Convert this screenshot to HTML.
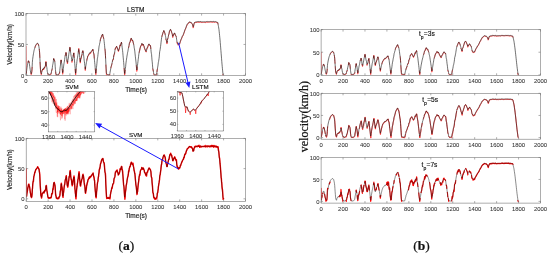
<!DOCTYPE html>
<html><head><meta charset="utf-8"><style>
html,body{margin:0;padding:0;background:#fff;}
body{width:550px;height:256px;overflow:hidden;}
svg{display:block;}
.tl{font-family:"Liberation Sans",Arial,sans-serif;font-size:5.9px;fill:#333;stroke:#333;stroke-width:0.06px;}
.lb{font-family:"Liberation Sans",Arial,sans-serif;font-size:6.5px;fill:#222;stroke:#222;stroke-width:0.15px;}
.tt{font-family:"Liberation Sans",Arial,sans-serif;font-size:6.2px;fill:#111;stroke:#111;stroke-width:0.15px;}
.b{font-weight:bold;}
.tp{font-family:"Liberation Sans",Arial,sans-serif;font-size:6.4px;fill:#111;stroke:#111;stroke-width:0.15px;}
.sf{font-family:"Liberation Serif","Times New Roman",serif;fill:#111;stroke:#111;stroke-width:0.2px;}
</style></head><body>
<svg width="550" height="256" viewBox="0 0 550 256">
<rect width="550" height="256" fill="#fff"/>
<clipPath id="clip_a1"><rect x="26.00" y="13.30" width="219.50" height="62.30"/></clipPath>
<g clip-path="url(#clip_a1)">
<path d="M26.00,46.30 L26.11,56.79 L26.22,69.13 L26.33,73.51 L26.44,72.64 M28.09,62.26 L28.20,61.69 L28.30,61.12 L28.41,60.85 L28.52,60.91 L28.63,61.22 L28.74,61.47 L28.85,61.61 L28.96,61.77 L29.07,62.18 L29.18,62.63 M30.61,72.93 L30.72,73.37 L30.83,73.77 L30.94,74.13 L31.05,74.51 L31.16,74.79 L31.27,74.73 L31.38,74.43 L31.49,74.02 L31.60,73.52 L31.71,72.96 L31.82,72.18 L31.93,71.15 L32.04,69.36 L32.15,67.22 M35.11,47.41 L35.22,46.89 L35.33,46.47 L35.44,46.20 L35.55,45.97 L35.66,45.75 L35.77,45.55 L35.88,45.41 L35.99,45.28 L36.10,45.16 L36.21,44.94 L36.32,44.84 L36.43,44.63 L36.54,44.48 L36.65,44.26 L36.76,44.10 L36.87,44.05 L36.98,43.92 L37.08,43.92 L37.19,43.85 L37.30,43.79 L37.41,43.71 L37.52,43.71 L37.63,43.78 L37.74,43.76 L37.85,43.84 L37.96,43.97 L38.07,44.19 L38.18,44.33 L38.29,44.41 L38.40,44.58 L38.51,44.89 L38.62,45.42 M39.28,49.31 L39.39,50.33 L39.50,51.14 L39.61,52.62 L39.72,54.81 L39.83,57.44 M40.05,62.28 L40.16,64.75 L40.27,66.83 L40.38,68.87 L40.49,70.72 L40.60,72.14 L40.71,73.04 L40.82,73.44 L40.93,73.83 L41.04,74.11 L41.15,74.50 L41.26,74.87 L41.37,74.84 L41.47,74.37 L41.58,73.54 M41.80,71.88 L41.91,71.20 L42.02,70.75 L42.13,70.62 L42.24,70.59 L42.35,70.25 L42.46,70.27 L42.57,70.08 L42.68,69.61 L42.79,69.76 L42.90,69.50 L43.01,69.22 L43.12,69.74 L43.23,69.19 L43.34,69.17 L43.45,69.07 L43.56,68.89 L43.67,69.29 L43.78,69.42 L43.89,69.44 L44.00,68.62 L44.11,68.27 L44.22,67.80 L44.33,67.55 L44.44,68.06 L44.55,68.23 L44.66,68.06 L44.77,67.86 L44.88,67.33 L44.99,66.96 L45.10,66.84 L45.21,66.84 L45.32,66.69 L45.43,66.45 L45.54,65.07 L45.65,63.70 L45.75,62.59 L45.86,61.39 L45.97,61.50 L46.08,62.18 L46.19,63.07 L46.30,64.85 L46.41,65.95 M47.62,73.58 L47.73,74.12 L47.84,74.34 L47.95,74.57 L48.06,74.66 L48.17,74.65 L48.28,74.76 L48.39,74.68 L48.50,74.73 L48.61,74.75 L48.72,74.87 L48.83,74.90 L48.94,75.11 L49.05,75.15 L49.16,75.17 L49.27,75.30 L49.38,75.27 L49.49,75.31 L49.60,75.28 L49.71,75.22 L49.82,75.13 L49.93,75.03 L50.04,75.00 L50.14,74.90 L50.25,74.72 L50.36,74.62 L50.47,74.51 L50.58,74.42 L50.69,74.50 L50.80,74.42 L50.91,74.59 L51.02,74.35 L51.13,74.14 L51.24,73.76 L51.35,72.95 M51.68,71.02 L51.79,70.59 L51.90,70.29 L52.01,70.19 L52.12,69.78 L52.23,69.10 M53.55,59.77 L53.66,58.61 L53.77,58.58 L53.88,58.70 L53.99,59.13 L54.10,59.85 L54.21,59.92 L54.32,60.36 L54.43,60.60 L54.53,60.46 L54.64,60.87 L54.75,61.33 M55.52,71.84 L55.63,72.42 L55.74,73.63 L55.85,74.10 L55.96,74.62 L56.07,75.12 L56.18,75.44 L56.29,75.43 L56.40,75.44 L56.51,75.39 L56.62,75.31 L56.73,75.20 L56.84,75.23 L56.95,75.24 L57.06,75.21 L57.17,75.20 L57.28,75.24 L57.39,75.26 M58.16,75.45 L58.27,75.33 L58.38,75.18 L58.49,74.97 L58.60,74.74 L58.71,74.53 L58.82,74.48 L58.92,74.29 L59.03,74.20 L59.14,74.02 L59.25,73.88 L59.36,73.93 L59.47,73.68 L59.58,73.31 L59.69,72.26 M60.68,63.42 L60.79,62.35 L60.90,60.84 L61.01,59.93 L61.12,59.78 L61.23,60.30 L61.34,61.41 M62.22,69.10 L62.33,70.69 L62.44,72.36 L62.55,73.71 L62.66,74.32 L62.77,74.25 L62.88,73.60 L62.99,72.78 L63.10,71.31 L63.21,70.63 M65.18,55.85 L65.29,55.60 L65.40,55.33 L65.51,54.66 L65.62,54.44 L65.73,53.96 L65.84,52.91 L65.95,52.57 L66.06,52.41 L66.17,52.72 L66.28,53.25 L66.39,54.21 L66.50,55.08 M66.83,59.92 L66.94,61.06 L67.05,62.24 L67.16,62.93 L67.27,63.25 L67.38,63.95 L67.49,63.66 L67.60,63.55 L67.70,62.65 L67.81,61.74 M69.46,50.79 L69.57,49.49 L69.68,48.37 L69.79,47.51 L69.90,47.14 L70.01,47.18 L70.12,47.73 L70.23,48.91 L70.34,49.82 L70.45,51.10 M71.77,61.18 L71.88,62.20 L71.99,62.51 L72.09,62.12 L72.20,61.75 L72.31,60.95 L72.42,60.47 L72.53,60.17 L72.64,59.43 M73.19,55.94 L73.30,55.06 L73.41,54.77 L73.52,53.83 L73.63,53.28 L73.74,53.02 L73.85,52.73 L73.96,53.89 L74.07,55.79 L74.18,57.37 M75.17,69.39 L75.28,70.76 L75.39,72.59 L75.50,74.49 L75.61,75.04 L75.72,74.86 L75.83,73.99 L75.94,72.23 L76.05,70.49 L76.16,69.12 M78.35,51.94 L78.46,50.69 L78.57,49.53 L78.68,48.92 L78.79,48.34 L78.90,49.04 L79.01,49.65 L79.12,51.09 L79.23,52.54 L79.34,53.64 M79.78,58.53 L79.89,59.73 L80.00,61.00 L80.11,62.36 L80.22,63.17 L80.33,62.97 L80.44,62.21 L80.55,61.15 L80.66,60.04 L80.77,59.29 L80.88,58.58 L80.98,58.75 L81.09,58.39 L81.20,58.38 L81.31,57.93 L81.42,57.08 L81.53,56.37 L81.64,56.04 L81.75,55.63 L81.86,55.45 L81.97,55.36 L82.08,54.37 M82.30,52.62 L82.41,52.07 L82.52,51.25 L82.63,51.33 L82.74,51.26 L82.85,50.69 L82.96,51.14 L83.07,51.25 L83.18,51.59 L83.29,52.75 M84.94,67.46 L85.05,68.58 L85.16,70.05 L85.27,70.58 L85.37,70.19 L85.48,69.19 L85.59,68.46 L85.70,66.97 M86.91,60.19 L87.02,59.32 L87.13,59.12 L87.24,58.84 L87.35,58.08 L87.46,57.94 L87.57,57.18 L87.68,56.47 L87.79,56.41 L87.90,56.16 L88.01,56.03 L88.12,56.04 L88.23,56.06 L88.34,55.90 L88.45,55.84 L88.56,55.48 L88.67,54.76 L88.78,54.60 L88.89,54.13 L89.00,54.32 L89.11,54.38 L89.22,54.28 L89.33,54.29 L89.44,53.87 L89.55,53.51 L89.66,53.16 L89.76,53.06 L89.87,52.97 L89.98,53.09 L90.09,53.38 L90.20,53.50 L90.31,53.69 L90.42,53.81 L90.53,53.72 L90.64,53.45 L90.75,52.94 L90.86,52.83 L90.97,52.30 L91.08,52.14 L91.19,52.19 L91.30,51.93 L91.41,51.67 L91.52,51.67 L91.63,51.29 L91.74,51.17 L91.85,51.24 L91.96,50.77 L92.07,50.80 L92.18,50.93 L92.29,50.74 L92.40,50.68 L92.51,50.58 L92.62,50.30 L92.73,49.72 L92.84,49.42 L92.95,49.40 L93.06,49.95 L93.17,50.95 M93.39,52.61 L93.50,53.16 L93.61,53.35 L93.72,53.40 L93.83,53.79 L93.94,54.12 L94.05,55.04 L94.15,56.41 L94.26,58.08 M95.25,69.00 L95.36,70.44 L95.47,71.67 L95.58,72.91 L95.69,74.33 L95.80,74.83 L95.91,74.58 L96.02,73.59 L96.13,71.95 L96.24,70.85 L96.35,69.48 M100.30,40.71 L100.41,39.73 L100.52,39.59 L100.63,39.18 L100.74,38.83 L100.85,38.35 L100.96,38.08 L101.07,37.71 L101.18,37.37 L101.29,37.47 L101.40,37.11 L101.51,36.88 L101.62,36.66 L101.73,36.13 L101.84,35.63 L101.95,35.19 L102.06,35.04 L102.17,35.01 L102.28,34.75 L102.39,34.82 L102.50,34.68 L102.61,34.50 L102.72,35.06 L102.82,35.07 L102.93,36.29 L103.04,36.99 L103.15,37.03 L103.26,37.62 L103.37,37.65 L103.48,37.69 L103.59,38.45 M104.91,49.09 L105.02,49.44 L105.13,50.62 L105.24,51.59 L105.35,53.46 L105.46,55.74 L105.57,58.01 M105.90,64.95 L106.01,67.19 L106.12,69.62 L106.23,72.04 L106.34,73.79 L106.45,75.06 L106.56,75.28 L106.67,75.13 L106.78,75.00 L106.89,74.76 L107.00,74.80 L107.11,74.84 L107.22,74.92 L107.32,74.86 L107.43,75.02 L107.54,74.97 L107.65,75.04 L107.76,75.07 L107.87,75.11 L107.98,75.24 L108.09,75.30 L108.20,75.30 L108.31,75.25 L108.42,75.19 L108.53,75.12 L108.64,75.23 L108.75,75.32 M108.97,75.38 L109.08,75.36 L109.19,75.37 L109.30,75.39 L109.41,75.45 L109.52,75.48 L109.63,75.40 L109.74,75.07 L109.85,74.49 M110.95,67.86 L111.06,67.23 L111.17,66.91 L111.28,66.68 L111.39,66.42 L111.50,65.80 L111.61,65.46 L111.71,64.76 L111.82,64.55 L111.93,64.35 L112.04,63.79 M112.59,61.21 L112.70,60.50 L112.81,60.30 L112.92,59.93 L113.03,59.76 L113.14,59.68 L113.25,59.61 L113.36,59.80 L113.47,58.59 M113.69,56.89 L113.80,55.81 L113.91,55.83 L114.02,55.32 L114.13,54.97 L114.24,54.81 L114.35,54.21 L114.46,54.08 L114.57,53.73 L114.68,52.82 M115.12,49.41 L115.23,48.67 L115.34,48.57 L115.45,48.96 L115.56,48.69 L115.67,48.76 L115.78,48.35 L115.89,48.20 L115.99,47.59 L116.10,47.51 L116.21,47.21 L116.32,46.94 L116.43,46.74 L116.54,46.47 L116.65,46.83 L116.76,46.50 L116.87,47.07 L116.98,47.58 L117.09,47.75 L117.20,48.26 L117.31,48.38 L117.42,48.32 L117.53,48.65 L117.64,49.25 L117.75,49.70 L117.86,50.14 L117.97,50.49 L118.08,50.96 L118.19,51.11 L118.30,51.25 L118.41,51.64 L118.52,51.26 L118.63,50.83 L118.74,50.64 L118.85,50.05 L118.96,49.82 L119.07,49.87 L119.18,49.42 L119.29,49.15 L119.40,48.84 L119.51,48.09 L119.62,47.87 L119.73,47.20 L119.84,46.11 L119.95,45.79 L120.06,44.95 L120.17,45.09 L120.28,45.36 L120.39,45.75 L120.49,46.03 L120.60,45.74 L120.71,45.55 L120.82,44.50 L120.93,44.06 L121.04,43.66 L121.15,43.02 L121.26,42.72 L121.37,42.34 L121.48,42.15 L121.59,42.76 L121.70,43.32 M124.12,68.42 L124.23,69.91 L124.34,71.93 L124.45,73.61 L124.56,74.98 L124.67,75.51 L124.78,75.46 L124.88,74.33 L124.99,73.03 L125.10,71.76 L125.21,70.36 M128.62,47.64 L128.73,47.34 L128.84,46.67 L128.95,46.64 L129.06,45.85 M129.27,44.57 L129.38,43.68 L129.49,43.33 L129.60,43.08 L129.71,42.70 L129.82,42.81 L129.93,42.82 L130.04,42.40 L130.15,42.00 L130.26,41.86 L130.37,40.90 L130.48,40.56 L130.59,40.59 L130.70,39.63 L130.81,39.58 L130.92,39.02 L131.03,38.25 L131.14,38.45 L131.25,38.64 L131.36,38.62 L131.47,39.48 L131.58,39.84 L131.69,39.89 L131.80,40.36 L131.91,40.11 L132.02,40.47 L132.13,40.19 L132.24,40.33 L132.35,40.71 L132.46,40.33 L132.57,40.68 L132.68,40.89 L132.79,40.97 L132.90,41.34 L133.01,42.08 L133.12,42.40 L133.23,42.83 L133.34,43.35 L133.45,43.64 L133.56,44.22 M136.30,65.68 L136.41,67.35 L136.52,68.79 L136.63,69.81 L136.74,71.53 L136.85,71.45 L136.96,71.02 L137.07,70.69 L137.18,69.27 L137.29,68.55 L137.40,67.52 M139.26,52.30 L139.37,51.55 L139.48,51.40 L139.59,51.15 L139.70,50.53 M139.92,49.66 L140.03,48.45 L140.14,48.45 L140.25,48.12 L140.36,47.51 L140.47,47.44 L140.58,46.80 L140.69,46.33 L140.80,46.37 L140.91,46.01 L141.02,46.09 L141.13,46.06 L141.24,45.73 L141.35,45.68 L141.46,45.24 L141.57,44.56 L141.68,44.26 L141.79,43.96 L141.90,43.66 L142.01,43.72 L142.12,43.80 L142.23,44.24 L142.34,44.54 L142.44,44.82 L142.55,45.16 L142.66,45.49 L142.77,45.17 L142.88,45.21 L142.99,44.92 L143.10,44.39 L143.21,44.46 L143.32,44.65 L143.43,44.81 L143.54,45.42 L143.65,46.04 L143.76,46.10 L143.87,46.25 L143.98,46.51 L144.09,46.72 L144.20,47.18 L144.31,47.89 L144.42,48.23 L144.53,48.68 L144.64,49.13 L144.75,49.34 L144.86,49.18 L144.97,49.78 L145.08,49.85 L145.19,49.89 L145.30,50.56 L145.41,50.64 L145.52,50.97 L145.63,51.62 L145.74,51.82 L145.85,52.00 L145.96,52.14 L146.07,52.07 L146.18,52.02 L146.29,52.05 L146.40,51.66 L146.51,51.10 M146.83,49.29 L146.94,48.67 L147.05,48.24 L147.16,48.35 L147.27,47.77 L147.38,48.08 L147.49,48.00 L147.60,47.84 L147.71,47.51 L147.82,47.16 L147.93,46.71 L148.04,46.20 L148.15,46.05 L148.26,45.74 L148.37,45.22 L148.48,45.05 L148.59,44.67 L148.70,44.39 L148.81,44.41 L148.92,44.50 L149.03,44.40 L149.14,44.37 L149.25,44.56 L149.36,44.64 L149.47,44.75 L149.58,45.20 L149.69,45.38 L149.80,45.51 L149.91,46.02 L150.02,45.65 L150.13,45.77 L150.24,45.79 L150.35,45.53 L150.46,45.88 L150.57,46.37 L150.68,47.10 L150.79,48.59 M152.76,68.89 L152.87,69.88 L152.98,69.85 L153.09,70.25 L153.20,70.97 M153.64,73.84 L153.75,74.16 L153.86,74.56 L153.97,74.57 L154.08,74.79 L154.19,74.96 L154.30,75.23 L154.41,75.35 L154.52,75.55 L154.63,75.55 M155.50,75.20 L155.61,75.19 L155.72,75.39 L155.83,75.30 L155.94,75.34 L156.05,75.09 L156.16,75.12 L156.27,75.14 L156.38,75.30 L156.49,75.41 L156.60,75.20 L156.71,74.82 L156.82,73.80 M157.04,71.52 L157.15,70.28 L157.26,69.95 L157.37,69.69 L157.48,68.99 M161.98,36.47 L162.09,36.09 L162.20,35.54 L162.31,35.35 L162.42,35.03 L162.53,34.63 L162.64,34.31 L162.75,33.88 L162.86,33.52 L162.97,33.11 L163.08,32.89 L163.19,32.56 L163.30,32.11 L163.41,32.01 L163.52,31.47 L163.63,31.00 L163.74,30.93 L163.85,30.65 L163.96,30.88 L164.07,31.07 L164.18,31.42 L164.28,31.71 L164.39,31.80 L164.50,32.48 L164.61,32.59 L164.72,33.03 L164.83,33.35 L164.94,33.75 L165.05,34.40 M165.93,39.10 L166.04,40.10 L166.15,40.08 L166.26,40.55 L166.37,40.71 L166.48,40.84 L166.59,41.58 L166.70,42.43 L166.81,43.30 L166.92,44.02 L167.03,44.01 L167.14,43.57 L167.25,42.25 L167.36,41.35 M167.58,39.48 L167.69,39.23 L167.80,38.67 L167.91,38.50 L168.02,38.40 L168.13,38.01 M168.46,36.05 L168.57,35.38 L168.68,35.13 L168.78,34.92 L168.89,34.46 L169.00,34.16 L169.11,33.73 L169.22,32.86 L169.33,32.19 L169.44,31.69 L169.55,31.29 L169.66,30.93 L169.77,30.89 L169.88,30.61 L169.99,30.40 L170.10,30.31 L170.21,30.00 L170.32,29.69 L170.43,29.58 L170.54,29.59 L170.65,29.83 L170.76,30.15 L170.87,30.16 L170.98,30.83 L171.09,31.09 L171.20,31.08 L171.31,31.79 L171.42,31.69 L171.53,31.87 L171.64,32.69 L171.75,32.89 L171.86,33.25 L171.97,33.52 L172.08,33.94 L172.19,34.19 L172.30,34.54 L172.41,35.71 L172.52,36.26 L172.63,36.96 L172.74,37.65 L172.85,37.27 L172.96,36.84 L173.06,36.31 L173.17,35.98 L173.28,35.33 L173.39,35.49 L173.50,35.47 L173.61,34.86 L173.72,35.09 L173.83,34.57 L173.94,34.26 L174.05,34.24 L174.16,33.98 L174.27,33.76 L174.38,33.24 L174.49,33.39 L174.60,33.25 L174.71,33.40 L174.82,33.74 L174.93,34.11 L175.04,34.23 L175.15,34.70 L175.26,34.86 L175.37,35.11 L175.48,35.50 L175.59,35.86 L175.70,36.01 L175.81,36.06 L175.92,36.12 L176.03,36.27 L176.14,36.52 L176.25,36.87 M176.91,42.19 L177.02,42.90 L177.13,43.35 L177.24,43.49 L177.35,43.25 L177.45,43.15 L177.56,43.23 L177.67,43.73 L177.78,44.29 L177.89,44.78 L178.00,45.15 L178.11,45.27 L178.22,45.39 L178.33,45.25 L178.44,45.13 L178.55,44.91 L178.66,44.76 L178.77,44.53 L178.88,44.25 L178.99,44.09 L179.10,44.11 L179.21,44.24 L179.32,44.33 L179.43,44.47 L179.54,44.44 L179.65,44.36 L179.76,43.83 L179.87,43.53 L179.98,43.04 L180.09,42.82 L180.20,42.38 L180.31,42.08 L180.42,41.52 L180.53,41.18 L180.64,40.93 L180.75,40.68 L180.86,40.36 L180.97,39.99 L181.08,39.80 L181.19,39.54 L181.30,39.33 L181.41,39.11 L181.52,38.88 L181.63,38.59 L181.74,38.35 L181.84,38.11 L181.95,37.90 L182.06,37.53 L182.17,37.18 L182.28,36.79 L182.39,36.52 L182.50,36.23 L182.61,36.10 L182.72,36.01 L182.83,36.05 L182.94,36.02 L183.05,35.90 L183.16,35.66 L183.27,35.26 L183.38,34.98 L183.49,34.57 L183.60,34.37 L183.71,34.03 L183.82,33.79 L183.93,33.41 L184.04,33.12 L184.15,33.00 L184.26,32.52 L184.37,31.96 L184.48,31.73 L184.59,31.38 L184.70,31.11 L184.81,30.94 L184.92,30.40 L185.03,30.15 L185.14,29.94 L185.25,29.72 L185.36,29.46 L185.47,29.20 L185.58,29.06 L185.69,28.69 L185.80,28.33 L185.91,28.05 L186.02,27.84 L186.13,27.56 L186.23,27.18 L186.34,26.97 L186.45,26.65 L186.56,26.35 L186.67,26.06 L186.78,25.91 L186.89,25.56 L187.00,25.17 L187.11,24.84 L187.22,24.68 L187.33,24.44 L187.44,24.38 L187.55,24.35 L187.66,24.33 L187.77,24.13 L187.88,24.02 L187.99,23.79 L188.10,23.65 L188.21,23.67 L188.32,23.72 L188.43,23.63 L188.54,23.53 L188.65,23.26 L188.76,23.15 L188.87,22.90 L188.98,22.54 L189.09,22.45 L189.20,22.29 L189.31,22.28 L189.42,22.44 L189.53,22.52 L189.64,22.52 L189.75,22.49 L189.86,22.62 L189.97,22.80 L190.08,22.81 L190.19,22.91 L190.30,22.94 L190.41,22.79 L190.52,22.83 L190.62,22.72 L190.73,22.57 L190.84,22.56 L190.95,22.52 L191.06,22.72 L191.17,22.85 L191.28,23.00 L191.39,23.02 L191.50,23.04 L191.61,23.34 L191.72,23.53 L191.83,23.79 L191.94,24.01 L192.05,24.14 L192.16,24.29 L192.27,24.36 L192.38,24.57 L192.49,24.74 L192.60,25.17 L192.71,25.66 L192.82,26.40 L192.93,27.19 L193.04,27.70 L193.15,28.09 L193.26,27.94 L193.37,27.57 L193.48,27.14 L193.59,26.50 L193.70,25.89 L193.81,25.25 L193.92,24.65 L194.03,24.34 L194.14,23.90 L194.25,23.41 L194.36,23.14 L194.47,22.92 L194.58,22.86 L194.69,22.64 L194.80,22.86 L194.91,22.71 L195.02,22.74 L195.12,22.85 L195.23,22.69 L195.34,22.73 L195.45,22.68 L195.56,22.66 L195.67,22.41 L195.78,22.37 L195.89,22.33 L196.00,22.26 L196.11,22.31 L196.22,22.36 L196.33,22.29 L196.44,22.30 L196.55,22.50 L196.66,22.61 L196.77,22.50 L196.88,22.39 L196.99,22.28 L197.10,21.95 L197.21,21.91 L197.32,22.02 L197.43,22.07 L197.54,22.11 L197.65,22.19 L197.76,22.30 L197.87,22.53 L197.98,22.59 L198.09,22.39 L198.20,22.37 L198.31,22.38 L198.42,22.18 L198.53,22.20 L198.64,22.07 L198.75,21.96 L198.86,21.98 L198.97,21.96 L199.08,21.96 L199.19,22.26 L199.30,22.43 L199.41,22.54 L199.51,22.60 L199.62,22.47 L199.73,22.30 L199.84,22.00 L199.95,21.90 L200.06,21.95 L200.17,21.86 L200.28,21.95 L200.39,22.08 L200.50,22.16 L200.61,22.31 L200.72,22.45 L200.83,22.54 L200.94,22.41 L201.05,22.26 L201.16,22.17 L201.27,22.30 L201.38,22.44 L201.49,22.42 L201.60,22.57 L201.71,22.47 L201.82,22.39 L201.93,22.38 L202.04,22.11 L202.15,22.28 L202.26,22.36 L202.37,22.43 L202.48,22.45 L202.59,22.58 L202.70,22.49 L202.81,22.47 L202.92,22.46 L203.03,22.51 L203.14,22.53 L203.25,22.50 L203.36,22.34 L203.47,22.31 L203.58,22.25 L203.69,22.33 L203.80,22.46 L203.90,22.29 L204.01,22.40 L204.12,22.31 L204.23,22.30 L204.34,22.35 L204.45,22.34 L204.56,22.38 L204.67,22.32 L204.78,22.18 L204.89,22.19 L205.00,22.11 L205.11,22.08 L205.22,22.35 L205.33,22.36 L205.44,22.49 L205.55,22.53 L205.66,22.67 L205.77,22.62 L205.88,22.54 L205.99,22.46 L206.10,22.30 L206.21,22.11 L206.32,22.07 L206.43,22.05 L206.54,21.96 L206.65,22.22 L206.76,22.03 L206.87,21.98 L206.98,22.04 L207.09,21.95 L207.20,22.10 L207.31,22.25 L207.42,22.30 L207.53,22.29 L207.64,22.32 L207.75,22.08 L207.86,21.98 L207.97,22.02 L208.08,21.95 L208.19,22.22 L208.29,22.28 L208.40,22.31 L208.51,22.27 L208.62,22.16 L208.73,22.15 L208.84,22.15 L208.95,22.22 L209.06,22.26 L209.17,22.32 L209.28,22.24 L209.39,22.25 L209.50,22.19 L209.61,22.18 L209.72,22.09 L209.83,21.92 L209.94,22.08 L210.05,22.07 L210.16,21.98 L210.27,22.11 L210.38,22.04 L210.49,22.09 L210.60,22.10 L210.71,22.02 L210.82,21.98 L210.93,21.95 L211.04,22.04 L211.15,22.05 L211.26,22.09 L211.37,22.24 L211.48,22.27 L211.59,22.08 L211.70,22.07 L211.81,21.89 L211.92,21.96 L212.03,22.04 L212.14,22.22 L212.25,22.40 L212.36,22.22 L212.47,22.25 L212.57,22.21 L212.68,22.14 L212.79,22.20 L212.90,22.05 L213.01,21.95 L213.12,22.23 L213.23,22.19 L213.34,22.25 L213.45,22.11 L213.56,21.88 L213.67,21.86 L213.78,21.95 L213.89,21.99 L214.00,22.01 L214.11,22.06 L214.22,22.14 L214.33,22.16 L214.44,22.21 L214.55,22.25 L214.66,22.18 L214.77,22.32 L214.88,22.52 L214.99,22.52 L215.10,22.47 L215.21,22.32 L215.32,22.16 L215.43,22.06 L215.54,22.00 L215.65,22.08 L215.76,22.19 L215.87,22.25 L215.98,22.35 L216.09,22.36 L216.20,22.44 L216.31,22.56 L216.42,22.54 L216.53,22.57 L216.64,22.55 L216.75,22.44 L216.86,22.49 L216.97,22.34 L217.07,22.41 L217.18,22.48 L217.29,22.46 L217.40,22.53 L217.51,22.61 L217.62,22.85 L217.73,23.09 L217.84,23.50 L217.95,24.01 M222.89,74.34 L223.00,75.06 L223.11,75.55 L223.22,75.65 L223.33,75.77" fill="none" stroke="#ff0000" stroke-width="0.60" stroke-linejoin="round" stroke-linecap="round"/>
<path d="M26.00,75.03 L26.22,73.65 L26.44,72.01 L26.66,70.38 L26.88,68.82 L27.10,67.28 L27.32,65.74 L27.54,64.30 L27.76,63.27 L27.98,62.34 L28.20,61.42 L28.41,60.71 L28.63,60.90 L28.85,61.31 L29.07,61.92 L29.29,63.31 L29.51,64.90 L29.73,66.49 L29.95,67.98 L30.17,69.39 L30.39,70.80 L30.61,72.08 L30.83,72.83 L31.05,73.45 L31.27,73.76 L31.49,72.83 L31.71,71.60 L31.93,69.91 L32.15,66.42 L32.37,62.47 L32.59,59.70 L32.80,58.11 L33.02,56.53 L33.24,55.00 L33.46,53.70 L33.68,52.47 L33.90,51.24 L34.12,50.24 L34.34,49.48 L34.56,48.72 L34.78,47.96 L35.00,47.20 L35.22,46.44 L35.44,45.75 L35.66,45.32 L35.88,44.96 L36.10,44.60 L36.32,44.24 L36.54,43.88 L36.76,43.57 L36.98,43.46 L37.19,43.39 L37.41,43.32 L37.63,43.25 L37.85,43.39 L38.07,43.74 L38.29,44.10 L38.51,44.60 L38.73,45.68 L38.95,46.92 L39.17,48.31 L39.39,50.31 L39.61,52.88 L39.83,57.10 L40.05,61.59 L40.27,65.55 L40.49,69.38 L40.71,71.69 L40.93,72.48 L41.15,73.27 L41.37,73.74 L41.58,72.72 L41.80,71.39 L42.02,70.45 L42.24,70.13 L42.46,69.73 L42.68,69.07 L42.90,68.96 L43.12,69.27 L43.34,68.61 L43.56,68.27 L43.78,68.71 L44.00,68.14 L44.22,67.39 L44.44,67.46 L44.66,67.48 L44.88,66.64 L45.10,66.03 L45.32,65.82 L45.54,64.63 L45.75,62.77 L45.97,61.96 L46.19,63.33 L46.41,65.33 L46.63,66.55 L46.85,67.57 L47.07,69.56 L47.29,71.39 L47.51,72.30 L47.73,73.29 L47.95,73.91 L48.17,74.01 L48.39,74.08 L48.61,74.24 L48.83,74.36 L49.05,74.54 L49.27,74.61 L49.49,74.63 L49.71,74.55 L49.93,74.39 L50.14,74.36 L50.36,74.07 L50.58,73.77 L50.80,73.70 L51.02,73.47 L51.24,72.94 L51.46,71.69 L51.68,70.45 L51.90,69.62 L52.12,69.00 L52.34,67.67 L52.56,65.66 L52.78,64.56 L53.00,63.43 L53.22,62.08 L53.44,60.23 L53.66,58.60 L53.88,58.65 L54.10,59.50 L54.32,59.91 L54.53,60.32 L54.75,61.33 L54.97,63.00 L55.19,66.29 L55.41,69.34 L55.63,71.27 L55.85,73.04 L56.07,74.26 L56.29,74.56 L56.51,74.64 L56.73,74.67 L56.95,74.68 L57.17,74.68 L57.39,74.73 L57.61,74.86 L57.83,74.96 L58.05,74.95 L58.27,74.74 L58.49,74.39 L58.71,74.01 L58.92,73.70 L59.14,73.28 L59.36,72.89 L59.58,72.49 L59.80,70.48 L60.02,68.20 L60.24,66.76 L60.46,65.09 L60.68,63.05 L60.90,61.16 L61.12,60.02 L61.34,61.36 L61.56,62.87 L61.78,63.62 L62.00,65.51 L62.22,68.65 L62.44,70.78 L62.66,72.68 L62.88,72.11 L63.10,70.31 L63.32,68.47 L63.53,66.89 L63.75,65.08 L63.97,63.62 L64.19,62.33 L64.41,61.07 L64.63,59.48 L64.85,57.80 L65.07,56.52 L65.29,55.07 L65.51,54.39 L65.73,53.78 L65.95,52.51 L66.17,53.19 L66.39,54.18 L66.61,56.37 L66.83,59.12 L67.05,60.92 L67.27,61.96 L67.49,62.47 L67.70,61.71 L67.92,60.38 L68.14,58.95 L68.36,58.00 L68.58,56.17 L68.80,54.21 L69.02,52.86 L69.24,51.76 L69.46,50.25 L69.68,48.50 L69.90,47.38 L70.12,48.07 L70.34,49.77 L70.56,51.85 L70.78,53.68 L71.00,55.19 L71.22,56.45 L71.44,57.22 L71.66,59.20 L71.88,61.03 L72.09,60.88 L72.31,60.06 L72.53,59.50 L72.75,58.43 L72.97,57.09 L73.19,55.53 L73.41,54.65 L73.63,53.75 L73.85,53.03 L74.07,55.85 L74.29,58.64 L74.51,60.92 L74.73,63.31 L74.95,66.04 L75.17,68.68 L75.39,71.24 L75.61,73.25 L75.83,72.09 L76.05,69.72 L76.27,67.23 L76.48,65.38 L76.70,63.64 L76.92,61.58 L77.14,59.61 L77.36,58.57 L77.58,57.28 L77.80,55.70 L78.02,54.31 L78.24,52.57 L78.46,50.74 L78.68,49.33 L78.90,49.54 L79.12,51.34 L79.34,53.36 L79.56,55.62 L79.78,57.62 L80.00,59.77 L80.22,61.75 L80.44,60.77 L80.66,59.31 L80.88,58.23 L81.09,57.79 L81.31,57.29 L81.53,55.81 L81.75,55.06 L81.97,54.64 L82.19,52.96 L82.41,51.60 L82.63,51.32 L82.85,50.69 L83.07,51.21 L83.29,52.66 L83.51,54.22 L83.73,56.03 L83.95,58.11 L84.17,60.29 L84.39,61.71 L84.61,63.58 L84.83,65.45 L85.05,67.50 L85.27,69.23 L85.48,67.96 L85.70,66.33 L85.92,65.59 L86.14,64.30 L86.36,62.69 L86.58,61.76 L86.80,60.35 L87.02,58.98 L87.24,58.38 L87.46,57.51 L87.68,56.26 L87.90,55.80 L88.12,55.56 L88.34,55.28 L88.56,54.92 L88.78,54.27 L89.00,53.80 L89.22,53.54 L89.44,53.28 L89.66,52.73 L89.87,52.57 L90.09,52.86 L90.31,52.82 L90.53,52.87 L90.75,52.14 L90.97,51.73 L91.19,51.47 L91.41,51.18 L91.63,50.80 L91.85,50.59 L92.07,50.45 L92.29,50.16 L92.51,50.17 L92.73,49.44 L92.95,49.31 L93.17,50.49 L93.39,52.06 L93.61,52.90 L93.83,53.76 L94.05,55.16 L94.26,57.73 L94.48,60.41 L94.70,62.66 L94.92,64.61 L95.14,67.37 L95.36,69.47 L95.58,71.33 L95.80,73.26 L96.02,71.99 L96.24,70.00 L96.46,67.69 L96.68,65.78 L96.90,63.64 L97.12,61.07 L97.34,58.82 L97.56,57.75 L97.78,56.44 L98.00,54.41 L98.22,52.70 L98.44,51.35 L98.65,50.05 L98.87,47.98 L99.09,46.14 L99.31,45.35 L99.53,44.41 L99.75,43.09 L99.97,42.25 L100.19,40.80 L100.41,39.30 L100.63,38.84 L100.85,37.91 L101.07,37.37 L101.29,36.90 L101.51,36.20 L101.73,35.51 L101.95,34.88 L102.17,34.65 L102.39,34.50 L102.61,34.09 L102.82,34.67 L103.04,36.20 L103.26,36.85 L103.48,37.30 L103.70,38.32 L103.92,39.60 L104.14,41.42 L104.36,43.42 L104.58,45.65 L104.80,48.01 L105.02,49.47 L105.24,51.89 L105.46,55.66 L105.68,59.95 L105.90,64.27 L106.12,68.41 L106.34,72.20 L106.56,73.72 L106.78,73.91 L107.00,74.11 L107.22,74.26 L107.43,74.34 L107.65,74.49 L107.87,74.60 L108.09,74.65 L108.31,74.65 L108.53,74.65 L108.75,74.71 L108.97,74.74 L109.19,74.67 L109.41,74.64 L109.63,74.47 L109.85,73.58 L110.07,72.25 L110.29,70.93 L110.51,69.93 L110.73,68.79 L110.95,67.19 L111.17,66.31 L111.39,65.71 L111.61,64.76 L111.82,64.08 L112.04,63.12 L112.26,62.20 L112.48,60.96 L112.70,60.13 L112.92,59.50 L113.14,59.04 L113.36,58.83 L113.58,57.14 L113.80,55.36 L114.02,54.73 L114.24,54.15 L114.46,53.24 L114.68,52.21 L114.90,50.75 L115.12,49.11 L115.34,48.35 L115.56,48.17 L115.78,47.65 L115.99,47.08 L116.21,46.79 L116.43,46.42 L116.65,46.55 L116.87,46.70 L117.09,47.24 L117.31,47.91 L117.53,48.08 L117.75,49.08 L117.97,49.76 L118.19,50.22 L118.41,50.86 L118.63,50.18 L118.85,49.44 L119.07,49.11 L119.29,48.36 L119.51,47.55 L119.73,46.84 L119.95,45.59 L120.17,44.86 L120.39,45.29 L120.60,44.94 L120.82,43.95 L121.04,43.32 L121.26,42.85 L121.48,42.29 L121.70,43.12 L121.92,45.29 L122.14,47.28 L122.36,49.11 L122.58,50.65 L122.80,52.72 L123.02,55.29 L123.24,57.83 L123.46,60.33 L123.68,62.50 L123.90,65.19 L124.12,67.92 L124.34,70.47 L124.56,73.19 L124.78,73.62 L124.99,71.82 L125.21,69.72 L125.43,68.22 L125.65,66.47 L125.87,64.03 L126.09,62.13 L126.31,60.67 L126.53,59.08 L126.75,57.66 L126.97,56.05 L127.19,54.90 L127.41,53.63 L127.63,52.33 L127.85,51.54 L128.07,50.16 L128.29,48.94 L128.51,47.74 L128.73,46.67 L128.95,46.09 L129.16,44.59 L129.38,43.28 L129.60,42.78 L129.82,42.25 L130.04,41.97 L130.26,41.00 L130.48,39.97 L130.70,39.38 L130.92,38.76 L131.14,38.32 L131.36,38.31 L131.58,39.24 L131.80,39.64 L132.02,39.78 L132.24,39.75 L132.46,39.95 L132.68,40.41 L132.90,40.94 L133.12,42.10 L133.34,42.84 L133.56,43.63 L133.77,44.78 L133.99,46.10 L134.21,47.74 L134.43,48.83 L134.65,50.02 L134.87,51.86 L135.09,53.96 L135.31,56.18 L135.53,58.09 L135.75,60.04 L135.97,61.91 L136.19,64.06 L136.41,66.36 L136.63,68.34 L136.85,70.02 L137.07,68.93 L137.29,67.45 L137.51,65.42 L137.73,63.48 L137.94,61.74 L138.16,59.70 L138.38,58.12 L138.60,56.27 L138.82,54.26 L139.04,53.14 L139.26,51.79 L139.48,50.92 L139.70,50.13 L139.92,48.88 L140.14,47.90 L140.36,46.87 L140.58,46.24 L140.80,45.86 L141.02,45.50 L141.24,44.95 L141.46,44.62 L141.68,43.83 L141.90,43.31 L142.12,43.59 L142.34,44.01 L142.55,44.39 L142.77,44.64 L142.99,44.58 L143.21,44.08 L143.43,44.53 L143.65,45.47 L143.87,45.74 L144.09,46.18 L144.31,47.41 L144.53,47.99 L144.75,48.59 L144.97,49.21 L145.19,49.44 L145.41,49.99 L145.63,50.88 L145.85,51.27 L146.07,51.08 L146.29,51.19 L146.51,50.33 L146.73,49.19 L146.94,48.33 L147.16,47.98 L147.38,47.49 L147.60,47.18 L147.82,46.69 L148.04,45.69 L148.26,45.31 L148.48,44.64 L148.70,43.99 L148.92,44.17 L149.14,43.99 L149.36,44.20 L149.58,44.74 L149.80,44.92 L150.02,45.14 L150.24,45.55 L150.46,45.90 L150.68,47.12 L150.90,49.34 L151.12,51.84 L151.33,53.30 L151.55,54.28 L151.77,57.13 L151.99,59.91 L152.21,61.78 L152.43,64.20 L152.65,67.08 L152.87,68.85 L153.09,69.35 L153.31,70.86 L153.53,72.46 L153.75,73.48 L153.97,73.92 L154.19,74.37 L154.41,74.67 L154.63,74.88 L154.85,74.87 L155.07,74.84 L155.29,74.78 L155.50,74.71 L155.72,74.67 L155.94,74.59 L156.16,74.51 L156.38,74.39 L156.60,74.11 L156.82,73.03 L157.04,71.15 L157.26,69.36 L157.48,68.55 L157.70,67.12 L157.92,66.01 L158.14,64.03 L158.36,62.34 L158.58,61.50 L158.80,60.04 L159.02,58.63 L159.24,56.89 L159.46,54.12 L159.68,51.68 L159.90,50.84 L160.11,49.69 L160.33,48.01 L160.55,46.57 L160.77,44.88 L160.99,42.86 L161.21,41.01 L161.43,39.16 L161.65,37.70 L161.87,36.52 L162.09,35.58 L162.31,34.89 L162.53,34.08 L162.75,33.36 L162.97,32.47 L163.19,31.98 L163.41,31.63 L163.63,30.75 L163.85,30.45 L164.07,30.99 L164.28,31.36 L164.50,31.90 L164.72,32.68 L164.94,33.30 L165.16,34.29 L165.38,35.51 L165.60,36.60 L165.82,37.72 L166.04,39.35 L166.26,40.02 L166.48,40.31 L166.70,41.43 L166.92,42.73 L167.14,42.30 L167.36,40.66 L167.58,39.06 L167.80,38.28 L168.02,37.80 L168.24,36.83 L168.46,35.72 L168.68,34.67 L168.89,33.87 L169.11,33.19 L169.33,31.75 L169.55,30.85 L169.77,30.58 L169.99,30.08 L170.21,29.67 L170.43,29.36 L170.65,29.45 L170.87,29.81 L171.09,30.47 L171.31,31.16 L171.53,31.44 L171.75,32.40 L171.97,33.12 L172.19,33.73 L172.41,34.70 L172.63,35.91 L172.85,36.39 L173.06,35.55 L173.28,34.83 L173.50,35.03 L173.72,34.48 L173.94,33.79 L174.16,33.55 L174.38,32.87 L174.60,33.02 L174.82,33.42 L175.04,33.77 L175.26,34.48 L175.48,34.99 L175.70,35.47 L175.92,35.81 L176.14,36.23 L176.36,37.51 L176.58,39.15 L176.80,40.64 L177.02,41.98 L177.24,42.61 L177.45,42.52 L177.67,43.22 L177.89,43.99 L178.11,44.56 L178.33,44.50 L178.55,44.20 L178.77,43.88 L178.99,43.56 L179.21,43.55 L179.43,43.81 L179.65,43.56 L179.87,42.87 L180.09,42.15 L180.31,41.44 L180.53,40.78 L180.75,40.11 L180.97,39.50 L181.19,39.01 L181.41,38.55 L181.63,38.08 L181.84,37.52 L182.06,36.94 L182.28,36.36 L182.50,35.87 L182.72,35.58 L182.94,35.32 L183.16,34.89 L183.38,34.27 L183.60,33.65 L183.82,33.04 L184.04,32.42 L184.26,31.94 L184.48,31.17 L184.70,30.49 L184.92,29.95 L185.14,29.34 L185.36,28.91 L185.58,28.41 L185.80,27.88 L186.02,27.33 L186.23,26.67 L186.45,26.02 L186.67,25.54 L186.89,25.01 L187.11,24.42 L187.33,24.06 L187.55,23.79 L187.77,23.51 L187.99,23.22 L188.21,23.01 L188.43,22.98 L188.65,22.69 L188.87,22.34 L189.09,22.08 L189.31,21.78 L189.53,21.92 L189.75,21.95 L189.97,22.04 L190.19,22.29 L190.41,22.21 L190.62,22.25 L190.84,22.32 L191.06,22.36 L191.28,22.46 L191.50,22.70 L191.72,23.07 L191.94,23.51 L192.16,23.87 L192.38,24.25 L192.60,24.87 L192.82,25.76 L193.04,26.70 L193.26,26.83 L193.48,26.18 L193.70,25.15 L193.92,24.07 L194.14,23.52 L194.36,22.84 L194.58,22.43 L194.80,22.42 L195.02,22.24 L195.23,22.18 L195.45,22.14 L195.67,21.89 L195.89,21.81 L196.11,21.81 L196.33,21.87 L196.55,21.90 L196.77,21.98 L196.99,21.78 L197.21,21.53 L197.43,21.53 L197.65,21.71 L197.87,21.87 L198.09,21.72 L198.31,21.69 L198.53,21.61 L198.75,21.52 L198.97,21.46 L199.19,21.52 L199.41,21.86 L199.62,21.87 L199.84,21.52 L200.06,21.45 L200.28,21.50 L200.50,21.51 L200.72,21.79 L200.94,21.85 L201.16,21.71 L201.38,21.89 L201.60,21.98 L201.82,21.82 L202.04,21.59 L202.26,21.69 L202.48,21.93 L202.70,21.89 L202.92,21.83 L203.14,21.85 L203.36,21.81 L203.58,21.80 L203.80,21.87 L204.01,21.82 L204.23,21.79 L204.45,21.82 L204.67,21.81 L204.89,21.75 L205.11,21.66 L205.33,21.80 L205.55,21.94 L205.77,21.86 L205.99,21.78 L206.21,21.56 L206.43,21.56 L206.65,21.62 L206.87,21.58 L207.09,21.57 L207.31,21.63 L207.53,21.57 L207.75,21.45 L207.97,21.54 L208.19,21.70 L208.40,21.68 L208.62,21.59 L208.84,21.65 L209.06,21.57 L209.28,21.65 L209.50,21.71 L209.72,21.61 L209.94,21.55 L210.16,21.43 L210.38,21.54 L210.60,21.63 L210.82,21.49 L211.04,21.51 L211.26,21.53 L211.48,21.54 L211.70,21.54 L211.92,21.45 L212.14,21.51 L212.36,21.58 L212.57,21.53 L212.79,21.50 L213.01,21.54 L213.23,21.69 L213.45,21.67 L213.67,21.34 L213.89,21.37 L214.11,21.51 L214.33,21.57 L214.55,21.73 L214.77,21.84 L214.99,21.90 L215.21,21.74 L215.43,21.60 L215.65,21.62 L215.87,21.69 L216.09,21.83 L216.31,22.04 L216.53,21.91 L216.75,21.89 L216.97,21.89 L217.18,21.96 L217.40,22.18 L217.62,22.42 L217.84,23.09 L218.06,24.17 L218.28,25.36 L218.50,26.68 L218.72,28.00 L218.94,29.38 L219.16,31.25 L219.38,33.40 L219.60,35.54 L219.82,37.69 L220.04,39.97 L220.26,42.57 L220.48,45.23 L220.70,47.89 L220.92,50.55 L221.14,53.25 L221.35,55.99 L221.57,58.72 L221.79,61.46 L222.01,64.11 L222.23,66.44 L222.45,68.69 L222.67,70.94 L222.89,73.19 L223.11,74.51 L223.33,74.91 L223.55,75.23" fill="none" stroke="#111" stroke-width="0.60" stroke-linejoin="round"/>
</g>
<rect x="26.00" y="13.60" width="219.50" height="61.70" fill="none" stroke="#777" stroke-width="0.6"/>
<text x="26.00" y="83.30" class="tl" text-anchor="middle">0</text>
<text x="47.95" y="83.30" class="tl" text-anchor="middle">200</text>
<text x="69.90" y="83.30" class="tl" text-anchor="middle">400</text>
<text x="91.85" y="83.30" class="tl" text-anchor="middle">600</text>
<text x="113.80" y="83.30" class="tl" text-anchor="middle">800</text>
<text x="135.75" y="83.30" class="tl" text-anchor="middle">1000</text>
<text x="157.70" y="83.30" class="tl" text-anchor="middle">1200</text>
<text x="179.65" y="83.30" class="tl" text-anchor="middle">1400</text>
<text x="201.60" y="83.30" class="tl" text-anchor="middle">1600</text>
<text x="223.55" y="83.30" class="tl" text-anchor="middle">1800</text>
<text x="245.50" y="83.30" class="tl" text-anchor="middle">2000</text>
<text x="24.40" y="77.60" class="tl" text-anchor="end">0</text>
<text x="24.40" y="46.75" class="tl" text-anchor="end">50</text>
<text x="24.40" y="15.90" class="tl" text-anchor="end">100</text>
<path d="M26.00,75.30 v-2.0 M26.00,13.60 v2.0 M47.95,75.30 v-2.0 M47.95,13.60 v2.0 M69.90,75.30 v-2.0 M69.90,13.60 v2.0 M91.85,75.30 v-2.0 M91.85,13.60 v2.0 M113.80,75.30 v-2.0 M113.80,13.60 v2.0 M135.75,75.30 v-2.0 M135.75,13.60 v2.0 M157.70,75.30 v-2.0 M157.70,13.60 v2.0 M179.65,75.30 v-2.0 M179.65,13.60 v2.0 M201.60,75.30 v-2.0 M201.60,13.60 v2.0 M223.55,75.30 v-2.0 M223.55,13.60 v2.0 M245.50,75.30 v-2.0 M245.50,13.60 v2.0 M26.00,75.30 h2.0 M245.50,75.30 h-2.0 M26.00,44.45 h2.0 M245.50,44.45 h-2.0 M26.00,13.60 h2.0 M245.50,13.60 h-2.0" stroke="#777" stroke-width="0.6" fill="none"/>
<clipPath id="clip_a2"><rect x="26.20" y="138.10" width="219.30" height="63.60"/></clipPath>
<g clip-path="url(#clip_a2)">
<path d="M26.20,168.60 L26.42,192.76 L26.64,196.08 L26.86,193.94 L27.08,192.84 L27.30,191.46 L27.52,190.51 L27.74,188.58 L27.95,187.32 L28.17,186.78 L28.39,185.27 L28.61,184.23 L28.83,184.16 L29.05,184.34 L29.27,186.74 L29.49,186.44 L29.71,187.14 L29.93,189.09 L30.15,190.72 L30.37,192.81 L30.59,193.38 L30.81,195.38 L31.02,196.61 L31.24,196.60 L31.46,197.55 L31.68,197.15 L31.90,196.33 L32.12,193.60 L32.34,189.07 L32.56,188.03 L32.78,184.11 L33.00,182.44 L33.22,181.15 L33.44,181.38 L33.66,178.49 L33.88,176.28 L34.09,175.73 L34.31,174.79 L34.53,173.87 L34.75,172.33 L34.97,172.50 L35.19,171.54 L35.41,171.07 L35.63,170.26 L35.85,169.41 L36.07,169.24 L36.29,169.21 L36.51,168.76 L36.73,168.39 L36.95,168.25 L37.16,168.11 L37.38,167.36 L37.60,166.69 L37.82,166.94 L38.04,167.31 L38.26,167.89 L38.48,168.54 L38.70,168.67 L38.92,168.89 L39.14,169.39 L39.36,171.73 L39.58,172.58 L39.80,174.58 L40.02,180.36 L40.24,185.71 L40.45,188.33 L40.67,191.39 L40.89,195.46 L41.11,195.83 L41.33,197.13 L41.55,197.99 L41.77,197.01 L41.99,195.55 L42.21,193.74 L42.43,193.13 L42.65,193.34 L42.87,193.23 L43.09,192.88 L43.31,192.29 L43.52,191.91 L43.74,192.58 L43.96,193.05 L44.18,192.85 L44.40,191.31 L44.62,190.38 L44.84,191.39 L45.06,190.94 L45.28,189.90 L45.50,190.20 L45.72,189.05 L45.94,186.34 L46.16,185.37 L46.38,185.35 L46.59,187.56 L46.81,190.36 L47.03,191.16 L47.25,192.54 L47.47,193.79 L47.69,195.37 L47.91,197.14 L48.13,197.88 L48.35,197.76 L48.57,197.46 L48.79,198.36 L49.01,198.05 L49.23,197.76 L49.45,198.04 L49.67,197.92 L49.88,198.05 L50.10,197.78 L50.32,197.54 L50.54,198.06 L50.76,197.57 L50.98,197.76 L51.20,197.75 L51.42,196.37 L51.64,193.74 L51.86,194.16 L52.08,194.02 L52.30,193.75 L52.52,192.98 L52.74,189.76 L52.95,188.58 L53.17,189.43 L53.39,186.86 L53.61,183.91 L53.83,183.20 L54.05,182.61 L54.27,182.37 L54.49,183.52 L54.71,184.29 L54.93,184.93 L55.15,186.99 L55.37,190.44 L55.59,194.45 L55.81,195.68 L56.02,195.98 L56.24,197.00 L56.46,198.33 L56.68,197.97 L56.90,198.22 L57.12,198.39 L57.34,198.89 L57.56,198.89 L57.78,198.66 L58.00,197.86 L58.22,197.90 L58.44,198.07 L58.66,198.71 L58.88,198.19 L59.09,196.72 L59.31,197.10 L59.53,196.44 L59.75,196.25 L59.97,194.96 L60.19,191.99 L60.41,190.83 L60.63,190.24 L60.85,189.25 L61.07,184.60 L61.29,183.24 L61.51,184.02 L61.73,186.33 L61.95,186.85 L62.17,187.87 L62.38,191.90 L62.60,195.15 L62.82,196.33 L63.04,197.33 L63.26,194.72 L63.48,192.14 L63.70,192.09 L63.92,189.40 L64.14,187.44 L64.36,185.31 L64.58,184.85 L64.80,184.07 L65.02,181.74 L65.24,179.88 L65.45,179.62 L65.67,178.91 L65.89,178.23 L66.11,176.08 L66.33,175.69 L66.55,178.49 L66.77,180.46 L66.99,182.77 L67.21,185.24 L67.43,185.57 L67.65,187.12 L67.87,187.01 L68.09,185.12 L68.31,183.72 L68.52,181.26 L68.74,180.78 L68.96,178.24 L69.18,176.45 L69.40,176.98 L69.62,175.95 L69.84,172.28 L70.06,170.69 L70.28,170.47 L70.50,173.11 L70.72,176.27 L70.94,177.73 L71.16,179.46 L71.38,179.64 L71.60,180.87 L71.81,183.17 L72.03,184.88 L72.25,185.91 L72.47,184.86 L72.69,184.57 L72.91,182.91 L73.13,180.55 L73.35,179.01 L73.57,178.52 L73.79,177.06 L74.01,175.96 L74.23,177.04 L74.45,179.46 L74.67,183.17 L74.88,188.55 L75.10,190.23 L75.32,193.10 L75.54,194.19 L75.76,197.59 L75.98,198.90 L76.20,196.28 L76.42,192.13 L76.64,189.78 L76.86,187.60 L77.08,186.50 L77.30,183.97 L77.52,183.11 L77.74,181.57 L77.95,179.37 L78.17,179.02 L78.39,177.06 L78.61,175.05 L78.83,172.87 L79.05,171.60 L79.27,172.85 L79.49,177.15 L79.71,179.82 L79.93,180.88 L80.15,183.88 L80.37,185.94 L80.59,186.07 L80.81,184.88 L81.03,182.81 L81.24,182.45 L81.46,181.33 L81.68,179.92 L81.90,179.10 L82.12,178.98 L82.34,177.85 L82.56,175.89 L82.78,174.71 L83.00,174.21 L83.22,175.29 L83.44,175.88 L83.66,177.24 L83.88,178.85 L84.10,182.16 L84.31,183.33 L84.53,185.08 L84.75,185.12 L84.97,187.38 L85.19,190.66 L85.41,192.95 L85.63,193.23 L85.85,191.47 L86.07,190.56 L86.29,189.11 L86.51,187.25 L86.73,184.92 L86.95,185.01 L87.17,183.44 L87.38,182.74 L87.60,181.99 L87.82,181.32 L88.04,179.66 L88.26,179.39 L88.48,179.28 L88.70,178.25 L88.92,177.75 L89.14,177.19 L89.36,177.98 L89.58,178.23 L89.80,177.27 L90.02,176.65 L90.24,176.53 L90.45,177.26 L90.67,176.66 L90.89,176.15 L91.11,176.57 L91.33,175.61 L91.55,175.30 L91.77,175.39 L91.99,174.74 L92.21,174.27 L92.43,174.13 L92.65,174.44 L92.87,174.18 L93.09,172.84 L93.31,174.73 L93.53,175.54 L93.74,176.90 L93.96,176.70 L94.18,178.48 L94.40,180.21 L94.62,180.55 L94.84,184.92 L95.06,187.93 L95.28,190.81 L95.50,192.49 L95.72,196.16 L95.94,197.49 L96.16,197.89 L96.38,195.00 L96.60,191.74 L96.81,190.41 L97.03,188.07 L97.25,185.00 L97.47,183.06 L97.69,181.94 L97.91,181.42 L98.13,179.22 L98.35,176.96 L98.57,176.67 L98.79,173.89 L99.01,173.04 L99.23,169.84 L99.45,168.89 L99.67,169.09 L99.88,168.28 L100.10,167.23 L100.32,164.98 L100.54,163.72 L100.76,163.22 L100.98,163.03 L101.20,161.48 L101.42,160.81 L101.64,160.15 L101.86,159.57 L102.08,158.98 L102.30,159.08 L102.52,158.90 L102.74,158.44 L102.95,158.43 L103.17,159.84 L103.39,161.63 L103.61,162.12 L103.83,162.26 L104.05,162.94 L104.27,163.59 L104.49,166.12 L104.71,169.19 L104.93,171.78 L105.15,172.50 L105.37,173.03 L105.59,176.12 L105.81,184.00 L106.03,188.42 L106.24,192.45 L106.46,196.05 L106.68,198.56 L106.90,198.10 L107.12,197.77 L107.34,198.21 L107.56,198.40 L107.78,198.31 L108.00,197.64 L108.22,198.08 L108.44,198.16 L108.66,197.53 L108.88,198.06 L109.10,198.21 L109.31,198.32 L109.53,198.00 L109.75,197.66 L109.97,198.93 L110.19,197.18 L110.41,194.43 L110.63,193.66 L110.85,192.03 L111.07,191.56 L111.29,190.35 L111.51,189.40 L111.73,188.10 L111.95,187.36 L112.17,188.26 L112.38,186.66 L112.60,185.51 L112.82,184.24 L113.04,183.95 L113.26,183.92 L113.48,183.55 L113.70,182.65 L113.92,180.32 L114.14,178.29 L114.36,177.87 L114.58,177.82 L114.80,177.15 L115.02,176.15 L115.24,173.30 L115.46,171.91 L115.67,172.43 L115.89,172.13 L116.11,171.31 L116.33,170.67 L116.55,170.73 L116.77,170.40 L116.99,170.01 L117.21,170.01 L117.43,171.55 L117.65,172.33 L117.87,172.41 L118.09,173.67 L118.31,175.04 L118.53,174.48 L118.74,174.20 L118.96,173.73 L119.18,173.79 L119.40,173.09 L119.62,172.11 L119.84,171.67 L120.06,168.81 L120.28,168.63 L120.50,169.37 L120.72,169.59 L120.94,168.03 L121.16,167.60 L121.38,166.53 L121.60,166.57 L121.81,166.46 L122.03,169.27 L122.25,169.34 L122.47,170.50 L122.69,171.54 L122.91,174.71 L123.13,177.99 L123.35,181.47 L123.57,184.63 L123.79,185.71 L124.01,186.90 L124.23,190.62 L124.45,194.38 L124.67,196.56 L124.89,199.29 L125.10,197.51 L125.32,193.05 L125.54,191.19 L125.76,190.10 L125.98,188.04 L126.20,184.93 L126.42,184.81 L126.64,183.30 L126.86,182.41 L127.08,180.29 L127.30,179.07 L127.52,177.69 L127.74,177.07 L127.96,176.54 L128.17,175.32 L128.39,173.65 L128.61,170.81 L128.83,171.83 L129.05,170.42 L129.27,168.31 L129.49,168.22 L129.71,166.79 L129.93,166.43 L130.15,166.88 L130.37,166.07 L130.59,164.00 L130.81,164.54 L131.03,162.74 L131.24,162.14 L131.46,162.30 L131.68,163.35 L131.90,163.81 L132.12,163.99 L132.34,164.57 L132.56,163.86 L132.78,163.86 L133.00,163.07 L133.22,164.87 L133.44,166.41 L133.66,167.00 L133.88,168.86 L134.10,170.70 L134.31,170.77 L134.53,172.09 L134.75,173.29 L134.97,174.00 L135.19,176.63 L135.41,179.59 L135.63,181.73 L135.85,184.56 L136.07,185.82 L136.29,186.97 L136.51,189.13 L136.73,191.14 L136.95,194.59 L137.17,193.84 L137.39,191.84 L137.60,191.58 L137.82,189.42 L138.04,186.60 L138.26,184.29 L138.48,182.63 L138.70,181.31 L138.92,179.70 L139.14,176.61 L139.36,176.06 L139.58,174.46 L139.80,175.48 L140.02,174.45 L140.24,171.94 L140.46,170.69 L140.67,170.18 L140.89,169.65 L141.11,169.45 L141.33,169.13 L141.55,169.08 L141.77,167.44 L141.99,167.69 L142.21,168.44 L142.43,168.38 L142.65,169.17 L142.87,169.39 L143.09,169.33 L143.31,167.99 L143.53,168.30 L143.74,169.33 L143.96,169.67 L144.18,169.90 L144.40,171.78 L144.62,172.59 L144.84,172.58 L145.06,172.58 L145.28,173.28 L145.50,174.28 L145.72,174.69 L145.94,175.48 L146.16,174.94 L146.38,175.20 L146.60,175.97 L146.81,173.53 L147.03,172.21 L147.25,172.33 L147.47,172.20 L147.69,171.95 L147.91,170.49 L148.13,169.96 L148.35,169.22 L148.57,169.64 L148.79,168.55 L149.01,168.10 L149.23,168.41 L149.45,168.17 L149.67,168.89 L149.89,168.91 L150.10,169.26 L150.32,169.57 L150.54,170.32 L150.76,170.86 L150.98,172.09 L151.20,175.58 L151.42,177.06 L151.64,177.63 L151.86,178.02 L152.08,182.10 L152.30,184.33 L152.52,186.63 L152.74,190.97 L152.96,192.92 L153.17,192.85 L153.39,193.97 L153.61,196.34 L153.83,197.81 L154.05,197.35 L154.27,197.56 L154.49,198.27 L154.71,199.10 L154.93,198.34 L155.15,198.45 L155.37,199.28 L155.59,198.60 L155.81,198.70 L156.03,198.40 L156.24,198.03 L156.46,198.34 L156.68,198.88 L156.90,197.18 L157.12,195.91 L157.34,193.30 L157.56,192.65 L157.78,192.70 L158.00,190.78 L158.22,188.92 L158.44,186.43 L158.66,185.26 L158.88,183.62 L159.10,182.38 L159.32,180.83 L159.53,179.91 L159.75,177.04 L159.97,175.11 L160.19,174.87 L160.41,172.96 L160.63,171.41 L160.85,169.93 L161.07,167.55 L161.29,165.64 L161.51,164.48 L161.73,163.73 L161.95,161.41 L162.17,160.41 L162.39,159.36 L162.60,159.41 L162.82,158.75 L163.04,157.52 L163.26,156.60 L163.48,156.28 L163.70,155.39 L163.92,155.30 L164.14,154.95 L164.36,155.31 L164.58,156.07 L164.80,156.10 L165.02,157.23 L165.24,157.25 L165.46,159.35 L165.67,161.31 L165.89,162.78 L166.11,163.26 L166.33,163.71 L166.55,164.95 L166.77,166.48 L166.99,166.56 L167.21,166.51 L167.43,164.43 L167.65,164.41 L167.87,163.38 L168.09,161.86 L168.31,160.91 L168.53,160.15 L168.75,159.50 L168.96,159.42 L169.18,158.87 L169.40,157.24 L169.62,155.86 L169.84,154.91 L170.06,154.14 L170.28,154.27 L170.50,154.15 L170.72,153.28 L170.94,154.36 L171.16,154.38 L171.38,155.50 L171.60,156.13 L171.82,155.32 L172.03,157.01 L172.25,158.13 L172.47,158.82 L172.69,160.56 L172.91,160.76 L173.13,160.07 L173.35,160.16 L173.57,159.69 L173.79,158.31 L174.01,158.05 L174.23,158.48 L174.45,157.44 L174.67,156.83 L174.89,157.19 L175.10,158.07 L175.32,158.76 L175.54,158.84 L175.76,160.14 L175.98,160.01 L176.20,159.90 L176.42,159.75 L176.64,162.27 L176.86,165.23 L177.08,166.49 L177.30,167.22 L177.52,166.77 L177.74,167.24 L177.96,168.54 L178.17,168.72 L178.39,168.56 L178.61,169.12 L178.83,168.08 L179.05,167.78 L179.27,168.00 L179.49,168.41 L179.71,167.85 L179.93,167.38 L180.15,166.71 L180.37,165.44 L180.59,165.15 L180.81,165.21 L181.03,164.36 L181.25,163.66 L181.46,163.17 L181.68,162.16 L181.90,161.75 L182.12,161.85 L182.34,161.13 L182.56,160.46 L182.78,160.06 L183.00,159.52 L183.22,159.08 L183.44,159.36 L183.66,157.79 L183.88,157.45 L184.10,157.84 L184.32,156.97 L184.53,155.39 L184.75,154.44 L184.97,154.03 L185.19,154.54 L185.41,154.11 L185.63,153.18 L185.85,153.40 L186.07,151.93 L186.29,151.56 L186.51,150.32 L186.73,150.38 L186.95,150.09 L187.17,148.80 L187.39,148.79 L187.60,148.60 L187.82,148.41 L188.04,148.42 L188.26,147.76 L188.48,147.57 L188.70,147.65 L188.92,146.91 L189.14,146.71 L189.36,146.44 L189.58,146.72 L189.80,146.90 L190.02,146.98 L190.24,147.10 L190.46,146.96 L190.68,146.62 L190.89,146.96 L191.11,147.31 L191.33,146.78 L191.55,146.91 L191.77,147.95 L191.99,148.08 L192.21,148.07 L192.43,148.21 L192.65,148.96 L192.87,151.07 L193.09,151.15 L193.31,150.54 L193.53,150.72 L193.75,150.58 L193.96,148.75 L194.18,148.31 L194.40,147.75 L194.62,146.77 L194.84,146.40 L195.06,146.50 L195.28,146.84 L195.50,146.89 L195.72,146.73 L195.94,146.02 L196.16,146.23 L196.38,146.29 L196.60,146.41 L196.82,146.42 L197.03,146.40 L197.25,146.77 L197.47,146.34 L197.69,146.32 L197.91,145.97 L198.13,146.35 L198.35,145.80 L198.57,146.24 L198.79,145.47 L199.01,145.28 L199.23,146.11 L199.45,146.42 L199.67,147.25 L199.89,146.45 L200.10,146.18 L200.32,146.20 L200.54,146.01 L200.76,146.24 L200.98,146.99 L201.20,146.57 L201.42,146.41 L201.64,146.66 L201.86,146.72 L202.08,146.63 L202.30,146.40 L202.52,146.62 L202.74,146.49 L202.96,146.49 L203.18,146.45 L203.39,146.40 L203.61,146.50 L203.83,146.64 L204.05,146.37 L204.27,146.42 L204.49,146.55 L204.71,146.05 L204.93,145.94 L205.15,145.47 L205.37,146.62 L205.59,146.37 L205.81,147.02 L206.03,146.77 L206.25,146.12 L206.46,146.29 L206.68,146.12 L206.90,145.87 L207.12,146.20 L207.34,145.96 L207.56,146.76 L207.78,146.24 L208.00,146.03 L208.22,146.34 L208.44,146.38 L208.66,146.18 L208.88,146.00 L209.10,146.69 L209.32,146.74 L209.53,146.74 L209.75,146.82 L209.97,146.23 L210.19,145.97 L210.41,146.53 L210.63,146.55 L210.85,146.75 L211.07,145.79 L211.29,146.12 L211.51,146.43 L211.73,145.69 L211.95,145.33 L212.17,145.96 L212.39,146.19 L212.60,145.98 L212.82,145.85 L213.04,146.41 L213.26,146.83 L213.48,147.20 L213.70,146.10 L213.92,145.49 L214.14,146.10 L214.36,146.55 L214.58,146.35 L214.80,146.00 L215.02,146.67 L215.24,146.99 L215.46,146.12 L215.68,146.10 L215.89,146.37 L216.11,146.51 L216.33,146.19 L216.55,146.24 L216.77,147.20 L216.99,146.94 L217.21,146.64 L217.43,147.05 L217.65,146.98 L217.87,147.03 L218.09,146.73 L218.31,148.63 L218.53,150.65 L218.75,151.03 L218.96,153.18 L219.18,156.23 L219.40,157.92 L219.62,157.97 L219.84,160.65 L220.06,163.68 L220.28,165.53 L220.50,168.20 L220.72,171.09 L220.94,174.16 L221.16,177.83 L221.38,178.56 L221.60,182.24 L221.82,183.49 L222.03,186.86 L222.25,188.62 L222.47,189.67 L222.69,192.10 L222.91,196.32 L223.13,199.38 L223.35,199.11 L223.57,198.61" fill="none" stroke="#ff0000" stroke-width="1.40" stroke-linejoin="round" stroke-linecap="round"/>
<path d="M26.20,198.53 L26.42,197.19 L26.64,195.58 L26.86,193.99 L27.08,192.46 L27.30,190.95 L27.52,189.44 L27.74,188.03 L27.95,187.02 L28.17,186.12 L28.39,185.21 L28.61,184.52 L28.83,184.71 L29.05,185.11 L29.27,185.71 L29.49,187.07 L29.71,188.62 L29.93,190.17 L30.15,191.64 L30.37,193.02 L30.59,194.40 L30.81,195.65 L31.02,196.39 L31.24,196.99 L31.46,197.29 L31.68,196.39 L31.90,195.18 L32.12,193.53 L32.34,190.10 L32.56,186.24 L32.78,183.53 L33.00,181.98 L33.22,180.42 L33.44,178.93 L33.66,177.66 L33.88,176.45 L34.09,175.25 L34.31,174.27 L34.53,173.53 L34.75,172.78 L34.97,172.04 L35.19,171.30 L35.41,170.55 L35.63,169.87 L35.85,169.46 L36.07,169.10 L36.29,168.75 L36.51,168.40 L36.73,168.05 L36.95,167.74 L37.16,167.63 L37.38,167.56 L37.60,167.49 L37.82,167.43 L38.04,167.57 L38.26,167.91 L38.48,168.26 L38.70,168.75 L38.92,169.81 L39.14,171.02 L39.36,172.38 L39.58,174.34 L39.80,176.86 L40.02,180.98 L40.24,185.38 L40.45,189.26 L40.67,193.00 L40.89,195.26 L41.11,196.04 L41.33,196.82 L41.55,197.28 L41.77,196.27 L41.99,194.97 L42.21,194.05 L42.43,193.74 L42.65,193.35 L42.87,192.71 L43.09,192.59 L43.31,192.90 L43.52,192.25 L43.74,191.92 L43.96,192.36 L44.18,191.79 L44.40,191.06 L44.62,191.13 L44.84,191.15 L45.06,190.32 L45.28,189.73 L45.50,189.52 L45.72,188.36 L45.94,186.53 L46.16,185.75 L46.38,187.09 L46.59,189.04 L46.81,190.23 L47.03,191.23 L47.25,193.19 L47.47,194.97 L47.69,195.86 L47.91,196.83 L48.13,197.44 L48.35,197.54 L48.57,197.61 L48.79,197.76 L49.01,197.88 L49.23,198.06 L49.45,198.13 L49.67,198.14 L49.88,198.07 L50.10,197.91 L50.32,197.88 L50.54,197.60 L50.76,197.31 L50.98,197.24 L51.20,197.01 L51.42,196.49 L51.64,195.27 L51.86,194.06 L52.08,193.24 L52.30,192.63 L52.52,191.34 L52.74,189.37 L52.95,188.29 L53.17,187.19 L53.39,185.86 L53.61,184.05 L53.83,182.45 L54.05,182.50 L54.27,183.33 L54.49,183.74 L54.71,184.14 L54.93,185.12 L55.15,186.76 L55.37,189.98 L55.59,192.97 L55.81,194.86 L56.02,196.59 L56.24,197.79 L56.46,198.08 L56.68,198.16 L56.90,198.19 L57.12,198.19 L57.34,198.19 L57.56,198.24 L57.78,198.37 L58.00,198.47 L58.22,198.46 L58.44,198.25 L58.66,197.91 L58.88,197.54 L59.09,197.23 L59.31,196.82 L59.53,196.44 L59.75,196.05 L59.97,194.08 L60.19,191.85 L60.41,190.44 L60.63,188.80 L60.85,186.81 L61.07,184.96 L61.29,183.85 L61.51,185.16 L61.73,186.63 L61.95,187.37 L62.17,189.21 L62.38,192.29 L62.60,194.38 L62.82,196.24 L63.04,195.68 L63.26,193.92 L63.48,192.12 L63.70,190.57 L63.92,188.79 L64.14,187.37 L64.36,186.10 L64.58,184.87 L64.80,183.31 L65.02,181.67 L65.24,180.41 L65.45,179.00 L65.67,178.33 L65.89,177.74 L66.11,176.50 L66.33,177.15 L66.55,178.13 L66.77,180.27 L66.99,182.96 L67.21,184.73 L67.43,185.75 L67.65,186.24 L67.87,185.50 L68.09,184.20 L68.31,182.80 L68.52,181.87 L68.74,180.08 L68.96,178.15 L69.18,176.83 L69.40,175.75 L69.62,174.28 L69.84,172.57 L70.06,171.47 L70.28,172.15 L70.50,173.80 L70.72,175.85 L70.94,177.64 L71.16,179.12 L71.38,180.35 L71.60,181.10 L71.81,183.04 L72.03,184.84 L72.25,184.68 L72.47,183.88 L72.69,183.34 L72.91,182.29 L73.13,180.97 L73.35,179.45 L73.57,178.59 L73.79,177.70 L74.01,177.00 L74.23,179.76 L74.45,182.49 L74.67,184.72 L74.88,187.07 L75.10,189.73 L75.32,192.32 L75.54,194.82 L75.76,196.80 L75.98,195.66 L76.20,193.34 L76.42,190.90 L76.64,189.09 L76.86,187.39 L77.08,185.37 L77.30,183.44 L77.52,182.42 L77.74,181.16 L77.95,179.62 L78.17,178.26 L78.39,176.55 L78.61,174.75 L78.83,173.38 L79.05,173.58 L79.27,175.35 L79.49,177.33 L79.71,179.54 L79.93,181.49 L80.15,183.60 L80.37,185.54 L80.59,184.58 L80.81,183.14 L81.03,182.10 L81.24,181.66 L81.46,181.17 L81.68,179.72 L81.90,178.99 L82.12,178.58 L82.34,176.94 L82.56,175.60 L82.78,175.33 L83.00,174.71 L83.22,175.22 L83.44,176.64 L83.66,178.16 L83.88,179.94 L84.10,181.97 L84.31,184.11 L84.53,185.50 L84.75,187.33 L84.97,189.16 L85.19,191.17 L85.41,192.86 L85.63,191.62 L85.85,190.02 L86.07,189.29 L86.29,188.03 L86.51,186.46 L86.73,185.55 L86.95,184.16 L87.17,182.82 L87.38,182.24 L87.60,181.38 L87.82,180.16 L88.04,179.71 L88.26,179.48 L88.48,179.20 L88.70,178.85 L88.92,178.21 L89.14,177.75 L89.36,177.50 L89.58,177.25 L89.80,176.71 L90.02,176.55 L90.24,176.83 L90.45,176.80 L90.67,176.84 L90.89,176.13 L91.11,175.73 L91.33,175.47 L91.55,175.19 L91.77,174.81 L91.99,174.61 L92.21,174.48 L92.43,174.19 L92.65,174.20 L92.87,173.49 L93.09,173.36 L93.31,174.51 L93.53,176.05 L93.74,176.88 L93.96,177.71 L94.18,179.09 L94.40,181.60 L94.62,184.22 L94.84,186.43 L95.06,188.34 L95.28,191.04 L95.50,193.10 L95.72,194.91 L95.94,196.80 L96.16,195.56 L96.38,193.61 L96.60,191.35 L96.81,189.49 L97.03,187.39 L97.25,184.87 L97.47,182.67 L97.69,181.62 L97.91,180.34 L98.13,178.35 L98.35,176.68 L98.57,175.35 L98.79,174.09 L99.01,172.06 L99.23,170.26 L99.45,169.48 L99.67,168.56 L99.88,167.27 L100.10,166.44 L100.32,165.03 L100.54,163.56 L100.76,163.11 L100.98,162.20 L101.20,161.67 L101.42,161.21 L101.64,160.53 L101.86,159.85 L102.08,159.23 L102.30,159.01 L102.52,158.86 L102.74,158.46 L102.95,159.03 L103.17,160.53 L103.39,161.16 L103.61,161.60 L103.83,162.60 L104.05,163.85 L104.27,165.63 L104.49,167.60 L104.71,169.78 L104.93,172.08 L105.15,173.51 L105.37,175.88 L105.59,179.57 L105.81,183.78 L106.03,188.00 L106.24,192.06 L106.46,195.77 L106.68,197.25 L106.90,197.44 L107.12,197.63 L107.34,197.78 L107.56,197.86 L107.78,198.01 L108.00,198.12 L108.22,198.16 L108.44,198.16 L108.66,198.17 L108.88,198.23 L109.10,198.26 L109.31,198.19 L109.53,198.15 L109.75,197.99 L109.97,197.11 L110.19,195.82 L110.41,194.52 L110.63,193.55 L110.85,192.43 L111.07,190.86 L111.29,190.00 L111.51,189.41 L111.73,188.48 L111.95,187.82 L112.17,186.88 L112.38,185.98 L112.60,184.77 L112.82,183.95 L113.04,183.33 L113.26,182.89 L113.48,182.68 L113.70,181.02 L113.92,179.28 L114.14,178.67 L114.36,178.09 L114.58,177.21 L114.80,176.20 L115.02,174.77 L115.24,173.16 L115.46,172.42 L115.67,172.24 L115.89,171.74 L116.11,171.18 L116.33,170.89 L116.55,170.53 L116.77,170.66 L116.99,170.80 L117.21,171.33 L117.43,171.99 L117.65,172.16 L117.87,173.14 L118.09,173.80 L118.31,174.25 L118.53,174.88 L118.74,174.21 L118.96,173.49 L119.18,173.16 L119.40,172.43 L119.62,171.63 L119.84,170.94 L120.06,169.72 L120.28,169.01 L120.50,169.42 L120.72,169.08 L120.94,168.11 L121.16,167.50 L121.38,167.04 L121.60,166.49 L121.81,167.30 L122.03,169.43 L122.25,171.37 L122.47,173.17 L122.69,174.67 L122.91,176.70 L123.13,179.21 L123.35,181.70 L123.57,184.15 L123.79,186.28 L124.01,188.91 L124.23,191.57 L124.45,194.08 L124.67,196.73 L124.89,197.16 L125.10,195.39 L125.32,193.34 L125.54,191.88 L125.76,190.16 L125.98,187.77 L126.20,185.91 L126.42,184.48 L126.64,182.92 L126.86,181.54 L127.08,179.96 L127.30,178.83 L127.52,177.59 L127.74,176.31 L127.96,175.54 L128.17,174.19 L128.39,173.00 L128.61,171.82 L128.83,170.77 L129.05,170.21 L129.27,168.74 L129.49,167.45 L129.71,166.97 L129.93,166.45 L130.15,166.17 L130.37,165.22 L130.59,164.22 L130.81,163.64 L131.03,163.03 L131.24,162.60 L131.46,162.59 L131.68,163.50 L131.90,163.90 L132.12,164.03 L132.34,164.00 L132.56,164.19 L132.78,164.64 L133.00,165.16 L133.22,166.30 L133.44,167.02 L133.66,167.80 L133.88,168.92 L134.10,170.22 L134.31,171.83 L134.53,172.89 L134.75,174.06 L134.97,175.86 L135.19,177.92 L135.41,180.08 L135.63,181.95 L135.85,183.87 L136.07,185.69 L136.29,187.80 L136.51,190.05 L136.73,191.99 L136.95,193.64 L137.17,192.57 L137.39,191.11 L137.60,189.13 L137.82,187.23 L138.04,185.52 L138.26,183.53 L138.48,181.98 L138.70,180.18 L138.92,178.21 L139.14,177.11 L139.36,175.79 L139.58,174.93 L139.80,174.16 L140.02,172.94 L140.24,171.98 L140.46,170.97 L140.67,170.36 L140.89,169.98 L141.11,169.63 L141.33,169.09 L141.55,168.77 L141.77,167.99 L141.99,167.49 L142.21,167.75 L142.43,168.17 L142.65,168.54 L142.87,168.79 L143.09,168.73 L143.31,168.24 L143.53,168.68 L143.74,169.60 L143.96,169.86 L144.18,170.30 L144.40,171.50 L144.62,172.07 L144.84,172.65 L145.06,173.27 L145.28,173.49 L145.50,174.02 L145.72,174.89 L145.94,175.28 L146.16,175.09 L146.38,175.20 L146.60,174.36 L146.81,173.24 L147.03,172.40 L147.25,172.06 L147.47,171.58 L147.69,171.27 L147.91,170.80 L148.13,169.81 L148.35,169.45 L148.57,168.79 L148.79,168.15 L149.01,168.33 L149.23,168.15 L149.45,168.35 L149.67,168.88 L149.89,169.06 L150.10,169.28 L150.32,169.68 L150.54,170.02 L150.76,171.22 L150.98,173.39 L151.20,175.84 L151.42,177.26 L151.64,178.23 L151.86,181.01 L152.08,183.74 L152.30,185.57 L152.52,187.93 L152.74,190.76 L152.96,192.49 L153.17,192.97 L153.39,194.46 L153.61,196.03 L153.83,197.02 L154.05,197.45 L154.27,197.90 L154.49,198.19 L154.71,198.39 L154.93,198.39 L155.15,198.35 L155.37,198.30 L155.59,198.23 L155.81,198.19 L156.03,198.11 L156.24,198.03 L156.46,197.91 L156.68,197.64 L156.90,196.58 L157.12,194.74 L157.34,192.98 L157.56,192.19 L157.78,190.79 L158.00,189.70 L158.22,187.77 L158.44,186.11 L158.66,185.29 L158.88,183.86 L159.10,182.48 L159.32,180.78 L159.53,178.07 L159.75,175.68 L159.97,174.86 L160.19,173.74 L160.41,172.09 L160.63,170.67 L160.85,169.02 L161.07,167.04 L161.29,165.24 L161.51,163.42 L161.73,161.99 L161.95,160.83 L162.17,159.92 L162.39,159.24 L162.60,158.45 L162.82,157.75 L163.04,156.87 L163.26,156.39 L163.48,156.05 L163.70,155.18 L163.92,154.89 L164.14,155.42 L164.36,155.79 L164.58,156.32 L164.80,157.08 L165.02,157.69 L165.24,158.66 L165.46,159.85 L165.67,160.91 L165.89,162.02 L166.11,163.61 L166.33,164.26 L166.55,164.55 L166.77,165.65 L166.99,166.91 L167.21,166.49 L167.43,164.89 L167.65,163.32 L167.87,162.56 L168.09,162.09 L168.31,161.14 L168.53,160.05 L168.75,159.03 L168.96,158.24 L169.18,157.58 L169.40,156.17 L169.62,155.29 L169.84,155.02 L170.06,154.53 L170.28,154.13 L170.50,153.83 L170.72,153.92 L170.94,154.27 L171.16,154.91 L171.38,155.59 L171.60,155.86 L171.82,156.80 L172.03,157.51 L172.25,158.11 L172.47,159.06 L172.69,160.24 L172.91,160.71 L173.13,159.89 L173.35,159.18 L173.57,159.38 L173.79,158.84 L174.01,158.17 L174.23,157.93 L174.45,157.27 L174.67,157.41 L174.89,157.80 L175.10,158.14 L175.32,158.84 L175.54,159.34 L175.76,159.81 L175.98,160.14 L176.20,160.55 L176.42,161.81 L176.64,163.42 L176.86,164.87 L177.08,166.19 L177.30,166.80 L177.52,166.71 L177.74,167.40 L177.96,168.15 L178.17,168.71 L178.39,168.65 L178.61,168.36 L178.83,168.05 L179.05,167.73 L179.27,167.72 L179.49,167.97 L179.71,167.73 L179.93,167.05 L180.15,166.35 L180.37,165.66 L180.59,165.01 L180.81,164.35 L181.03,163.75 L181.25,163.28 L181.46,162.83 L181.68,162.36 L181.90,161.82 L182.12,161.25 L182.34,160.69 L182.56,160.20 L182.78,159.92 L183.00,159.67 L183.22,159.24 L183.44,158.63 L183.66,158.03 L183.88,157.43 L184.10,156.82 L184.32,156.36 L184.53,155.60 L184.75,154.94 L184.97,154.40 L185.19,153.81 L185.41,153.39 L185.63,152.90 L185.85,152.38 L186.07,151.84 L186.29,151.19 L186.51,150.56 L186.73,150.09 L186.95,149.57 L187.17,148.99 L187.39,148.64 L187.60,148.37 L187.82,148.11 L188.04,147.82 L188.26,147.61 L188.48,147.58 L188.70,147.30 L188.92,146.96 L189.14,146.70 L189.36,146.41 L189.58,146.54 L189.80,146.57 L190.02,146.66 L190.24,146.91 L190.46,146.82 L190.68,146.86 L190.89,146.94 L191.11,146.97 L191.33,147.08 L191.55,147.30 L191.77,147.67 L191.99,148.11 L192.21,148.45 L192.43,148.82 L192.65,149.43 L192.87,150.31 L193.09,151.23 L193.31,151.35 L193.53,150.71 L193.75,149.71 L193.96,148.65 L194.18,148.11 L194.40,147.45 L194.62,147.04 L194.84,147.04 L195.06,146.86 L195.28,146.80 L195.50,146.76 L195.72,146.52 L195.94,146.44 L196.16,146.44 L196.38,146.49 L196.60,146.53 L196.82,146.60 L197.03,146.41 L197.25,146.16 L197.47,146.16 L197.69,146.34 L197.91,146.50 L198.13,146.35 L198.35,146.32 L198.57,146.24 L198.79,146.15 L199.01,146.10 L199.23,146.15 L199.45,146.49 L199.67,146.49 L199.89,146.15 L200.10,146.09 L200.32,146.13 L200.54,146.15 L200.76,146.41 L200.98,146.48 L201.20,146.34 L201.42,146.52 L201.64,146.61 L201.86,146.45 L202.08,146.22 L202.30,146.32 L202.52,146.55 L202.74,146.52 L202.96,146.46 L203.18,146.48 L203.39,146.44 L203.61,146.43 L203.83,146.49 L204.05,146.45 L204.27,146.41 L204.49,146.44 L204.71,146.44 L204.93,146.38 L205.15,146.29 L205.37,146.42 L205.59,146.56 L205.81,146.49 L206.03,146.41 L206.25,146.20 L206.46,146.19 L206.68,146.25 L206.90,146.21 L207.12,146.21 L207.34,146.26 L207.56,146.20 L207.78,146.08 L208.00,146.17 L208.22,146.33 L208.44,146.31 L208.66,146.22 L208.88,146.28 L209.10,146.20 L209.32,146.28 L209.53,146.34 L209.75,146.24 L209.97,146.18 L210.19,146.07 L210.41,146.17 L210.63,146.26 L210.85,146.13 L211.07,146.14 L211.29,146.16 L211.51,146.18 L211.73,146.17 L211.95,146.09 L212.17,146.14 L212.39,146.21 L212.60,146.16 L212.82,146.13 L213.04,146.17 L213.26,146.32 L213.48,146.30 L213.70,145.98 L213.92,146.01 L214.14,146.15 L214.36,146.20 L214.58,146.36 L214.80,146.47 L215.02,146.52 L215.24,146.37 L215.46,146.23 L215.68,146.25 L215.89,146.32 L216.11,146.46 L216.33,146.67 L216.55,146.54 L216.77,146.52 L216.99,146.51 L217.21,146.59 L217.43,146.80 L217.65,147.04 L217.87,147.69 L218.09,148.74 L218.31,149.92 L218.53,151.21 L218.75,152.49 L218.96,153.85 L219.18,155.68 L219.40,157.78 L219.62,159.88 L219.84,161.98 L220.06,164.22 L220.28,166.76 L220.50,169.36 L220.72,171.97 L220.94,174.57 L221.16,177.22 L221.38,179.89 L221.60,182.57 L221.82,185.25 L222.03,187.85 L222.25,190.13 L222.47,192.33 L222.69,194.53 L222.91,196.74 L223.13,198.03 L223.35,198.42 L223.57,198.74" fill="none" stroke="#000" stroke-width="0.40" stroke-linejoin="round"/>
</g>
<rect x="26.20" y="138.40" width="219.30" height="63.00" fill="none" stroke="#777" stroke-width="0.6"/>
<text x="26.20" y="209.40" class="tl" text-anchor="middle">0</text>
<text x="48.13" y="209.40" class="tl" text-anchor="middle">200</text>
<text x="70.06" y="209.40" class="tl" text-anchor="middle">400</text>
<text x="91.99" y="209.40" class="tl" text-anchor="middle">600</text>
<text x="113.92" y="209.40" class="tl" text-anchor="middle">800</text>
<text x="135.85" y="209.40" class="tl" text-anchor="middle">1000</text>
<text x="157.78" y="209.40" class="tl" text-anchor="middle">1200</text>
<text x="179.71" y="209.40" class="tl" text-anchor="middle">1400</text>
<text x="201.64" y="209.40" class="tl" text-anchor="middle">1600</text>
<text x="223.57" y="209.40" class="tl" text-anchor="middle">1800</text>
<text x="245.50" y="209.40" class="tl" text-anchor="middle">2000</text>
<text x="24.60" y="201.10" class="tl" text-anchor="end">0</text>
<text x="24.60" y="170.90" class="tl" text-anchor="end">50</text>
<text x="24.60" y="140.70" class="tl" text-anchor="end">100</text>
<path d="M26.20,201.40 v-2.0 M26.20,138.40 v2.0 M48.13,201.40 v-2.0 M48.13,138.40 v2.0 M70.06,201.40 v-2.0 M70.06,138.40 v2.0 M91.99,201.40 v-2.0 M91.99,138.40 v2.0 M113.92,201.40 v-2.0 M113.92,138.40 v2.0 M135.85,201.40 v-2.0 M135.85,138.40 v2.0 M157.78,201.40 v-2.0 M157.78,138.40 v2.0 M179.71,201.40 v-2.0 M179.71,138.40 v2.0 M201.64,201.40 v-2.0 M201.64,138.40 v2.0 M223.57,201.40 v-2.0 M223.57,138.40 v2.0 M245.50,201.40 v-2.0 M245.50,138.40 v2.0 M26.20,198.80 h2.0 M245.50,198.80 h-2.0 M26.20,168.60 h2.0 M245.50,168.60 h-2.0 M26.20,138.40 h2.0 M245.50,138.40 h-2.0" stroke="#777" stroke-width="0.6" fill="none"/>
<clipPath id="clip_b1"><rect x="321.10" y="29.30" width="219.40" height="46.30"/></clipPath>
<g clip-path="url(#clip_b1)">
<path d="M321.10,52.22 L321.21,60.37 L321.32,69.42 L321.43,73.61 L321.54,73.00 M323.18,65.26 L323.29,64.84 L323.40,64.46 L323.51,64.31 L323.62,64.33 L323.73,64.45 L323.84,64.51 L323.95,64.69 L324.06,64.91 L324.17,65.25 L324.28,65.72 M325.71,73.12 L325.82,73.49 L325.93,73.78 L326.04,73.99 L326.15,74.23 L326.26,74.44 L326.37,74.44 L326.48,74.28 L326.59,73.97 L326.69,73.62 L326.80,73.14 L326.91,72.61 L327.02,71.83 L327.13,70.64 L327.24,69.16 M330.21,54.28 L330.31,54.04 L330.42,53.83 L330.53,53.64 L330.64,53.38 L330.75,53.28 L330.86,53.16 L330.97,53.11 L331.08,52.94 L331.19,52.77 L331.30,52.67 L331.41,52.59 L331.52,52.46 L331.63,52.23 L331.74,52.01 L331.85,51.91 L331.96,51.90 L332.07,51.89 L332.18,51.89 L332.29,51.85 L332.40,51.85 L332.51,51.79 L332.62,51.77 L332.73,51.70 L332.84,51.72 L332.95,51.71 L333.06,51.80 L333.17,51.87 L333.28,52.12 L333.39,52.29 L333.50,52.49 L333.61,52.64 L333.72,53.05 M334.26,55.33 L334.37,55.80 L334.48,56.41 L334.59,57.06 L334.70,58.24 L334.81,59.70 L334.92,61.62 L335.03,63.30 M335.25,66.78 L335.36,68.59 L335.47,70.15 L335.58,71.69 L335.69,72.53 L335.80,73.15 L335.91,73.41 L336.02,73.74 L336.13,73.98 L336.24,74.26 L336.35,74.54 L336.46,74.57 L336.57,74.14 L336.68,73.54 M336.90,72.47 L337.01,72.00 L337.12,71.62 L337.23,71.47 L337.34,71.38 L337.45,71.15 L337.56,71.16 L337.66,71.02 L337.77,70.68 L337.88,70.81 L337.99,70.71 L338.10,70.47 L338.21,70.87 L338.32,70.37 L338.43,70.39 L338.54,70.29 L338.65,70.21 L338.76,70.48 L338.87,70.55 L338.98,70.56 L339.09,69.93 L339.20,69.85 L339.31,69.48 L339.42,69.31 L339.53,69.55 L339.64,69.67 L339.75,69.51 L339.86,69.32 L339.97,68.97 L340.08,68.62 L340.19,68.62 L340.30,68.61 L340.41,68.54 L340.52,68.35 L340.63,67.31 L340.74,66.38 L340.85,65.40 L340.96,64.56 L341.07,64.79 L341.18,65.41 L341.28,66.02 L341.39,67.16 L341.50,67.93 M342.71,73.65 L342.82,73.94 L342.93,74.15 L343.04,74.37 L343.15,74.44 L343.26,74.45 L343.37,74.51 L343.48,74.46 L343.59,74.50 L343.70,74.52 L343.81,74.60 L343.92,74.56 L344.03,74.70 L344.14,74.76 L344.25,74.80 L344.36,74.88 L344.47,74.85 L344.58,74.86 L344.69,74.83 L344.80,74.79 L344.90,74.78 L345.01,74.72 L345.12,74.75 L345.23,74.70 L345.34,74.59 L345.45,74.41 L345.56,74.24 L345.67,74.19 L345.78,74.25 L345.89,74.27 L346.00,74.34 L346.11,74.17 L346.22,74.02 L346.33,73.83 L346.44,73.29 M346.77,71.75 L346.88,71.43 L346.99,71.20 L347.10,71.09 L347.21,70.84 L347.32,70.36 M348.42,64.75 L348.53,63.90 L348.63,63.37 L348.74,62.56 L348.85,62.56 L348.96,62.69 L349.07,62.95 L349.18,63.53 L349.29,63.56 L349.40,63.93 L349.51,64.04 L349.62,64.03 L349.73,64.29 L349.84,64.60 L349.95,64.94 L350.06,65.75 L350.17,67.02 L350.28,68.46 M351.05,74.30 L351.16,74.78 L351.27,74.96 L351.38,74.92 L351.49,74.89 L351.60,74.87 L351.71,74.91 L351.82,74.82 L351.93,74.87 L352.04,74.85 L352.15,74.81 L352.25,74.79 L352.36,74.79 L352.47,74.82 M353.24,74.95 L353.35,74.93 L353.46,74.70 L353.57,74.63 L353.68,74.58 L353.79,74.49 L353.90,74.41 L354.01,74.17 L354.12,74.12 L354.23,73.98 L354.34,73.87 L354.45,73.92 L354.56,73.85 L354.67,73.55 L354.78,72.77 M355.66,66.98 L355.77,66.02 L355.87,65.23 L355.98,64.25 L356.09,63.63 L356.20,63.55 L356.31,63.91 L356.42,64.77 M357.30,70.28 L357.41,71.54 L357.52,72.66 L357.63,73.70 L357.74,74.12 L357.85,74.18 L357.96,73.85 L358.07,73.18 L358.18,72.08 L358.29,71.23 M360.26,60.67 L360.37,60.39 L360.48,60.28 L360.59,59.74 L360.70,59.60 L360.81,59.23 L360.92,58.58 L361.03,58.36 L361.14,58.25 L361.25,58.36 L361.36,58.72 L361.47,59.54 L361.58,60.31 M362.02,64.43 L362.13,65.18 L362.24,65.73 L362.35,65.99 L362.46,66.55 L362.57,66.32 L362.68,66.28 L362.79,65.75 L362.90,65.02 M364.54,56.86 L364.65,55.91 L364.76,55.10 L364.87,54.52 L364.98,54.27 L365.09,54.18 L365.20,54.64 L365.31,55.48 L365.42,56.20 L365.53,57.03 M366.84,64.60 L366.95,65.24 L367.06,65.51 L367.17,65.20 L367.28,64.88 L367.39,64.36 L367.50,64.05 L367.61,63.81 L367.72,63.21 M368.27,60.75 L368.38,60.20 L368.49,59.97 L368.60,59.31 L368.71,58.78 L368.82,58.60 L368.93,58.34 L369.04,59.20 L369.15,60.44 L369.26,61.70 L369.37,62.97 M370.14,69.36 L370.25,70.74 L370.36,71.76 L370.47,73.02 L370.57,74.32 L370.68,74.69 L370.79,74.59 L370.90,73.85 L371.01,72.51 L371.12,71.28 L371.23,70.35 M373.43,57.89 L373.54,56.92 L373.65,55.99 L373.76,55.50 L373.87,55.15 L373.98,55.80 L374.09,56.38 L374.19,57.33 L374.30,58.41 M374.96,63.33 L375.07,64.30 L375.18,65.29 L375.29,65.89 L375.40,65.74 L375.51,65.07 L375.62,64.42 L375.73,63.61 L375.84,63.12 L375.95,62.57 L376.06,62.68 L376.17,62.41 L376.28,62.32 L376.39,62.00 L376.50,61.39 L376.61,60.98 L376.72,60.78 L376.83,60.53 L376.94,60.32 L377.05,60.21 L377.16,59.51 M377.38,58.16 L377.49,57.70 L377.60,57.27 L377.71,57.32 L377.81,57.36 L377.92,56.88 L378.03,57.26 L378.14,57.28 L378.25,57.48 L378.36,58.38 L378.47,59.00 M379.90,68.15 L380.01,69.20 L380.12,70.08 L380.23,71.12 L380.34,71.45 L380.45,71.16 L380.56,70.41 L380.67,69.88 L380.78,68.76 M381.98,63.87 L382.09,63.20 L382.20,63.05 L382.31,62.83 L382.42,62.21 L382.53,62.08 L382.64,61.64 L382.75,61.36 L382.86,61.32 L382.97,60.99 L383.08,60.75 L383.19,60.81 L383.30,60.85 L383.41,60.68 L383.52,60.58 L383.63,60.37 L383.74,59.89 L383.85,59.78 L383.96,59.42 L384.07,59.47 L384.18,59.44 L384.29,59.28 L384.40,59.27 L384.51,59.03 L384.62,58.95 L384.73,58.79 L384.84,58.69 L384.95,58.50 L385.06,58.52 L385.16,58.77 L385.27,58.90 L385.38,58.97 L385.49,59.01 L385.60,58.90 L385.71,58.72 L385.82,58.32 L385.93,58.24 L386.04,57.87 L386.15,57.72 L386.26,57.81 L386.37,57.67 L386.48,57.59 L386.59,57.58 L386.70,57.23 L386.81,57.09 L386.92,57.18 L387.03,57.02 L387.14,57.07 L387.25,57.12 L387.36,56.98 L387.47,56.87 L387.58,56.79 L387.69,56.45 L387.80,56.10 L387.91,55.96 L388.02,55.92 L388.13,56.37 L388.24,56.90 M388.46,58.11 L388.57,58.59 L388.68,58.73 L388.78,58.72 L388.89,59.09 M390.32,70.19 L390.43,71.22 L390.54,72.05 L390.65,73.05 L390.76,74.11 L390.87,74.45 L390.98,74.35 L391.09,73.57 L391.20,72.51 L391.31,71.64 L391.42,70.75 M395.37,49.35 L395.48,48.75 L395.59,48.62 L395.70,48.31 L395.81,47.99 L395.92,47.78 L396.03,47.69 L396.13,47.50 L396.24,47.13 L396.35,47.13 L396.46,46.86 L396.57,46.71 L396.68,46.50 L396.79,46.07 L396.90,45.75 L397.01,45.51 L397.12,45.42 L397.23,45.36 L397.34,45.13 L397.45,45.11 L397.56,44.96 L397.67,44.90 L397.78,45.33 L397.89,45.42 L398.00,46.06 L398.11,46.52 L398.22,46.52 L398.33,47.17 L398.44,47.31 L398.55,47.34 L398.66,47.71 M400.19,56.90 L400.30,57.71 L400.41,58.85 L400.52,60.56 L400.63,62.10 M400.85,65.71 L400.96,67.46 L401.07,69.32 L401.18,70.96 L401.29,72.60 L401.40,73.71 L401.51,74.60 L401.62,74.83 L401.73,74.80 L401.84,74.71 L401.95,74.49 L402.06,74.45 L402.17,74.48 L402.28,74.53 L402.39,74.54 L402.50,74.62 L402.61,74.66 L402.72,74.72 L402.83,74.79 L402.94,74.80 L403.05,74.84 L403.16,74.93 L403.27,74.87 L403.38,74.93 L403.48,74.90 L403.59,74.89 L403.70,74.89 L403.81,74.85 M404.03,74.83 L404.14,74.87 L404.25,74.90 L404.36,74.98 L404.47,75.07 L404.58,75.08 L404.69,74.93 L404.80,74.58 L404.91,74.20 M406.01,69.38 L406.12,68.96 L406.23,68.67 L406.34,68.53 L406.45,68.23 L406.56,67.77 L406.67,67.58 L406.78,67.21 L406.89,67.16 L407.00,66.92 L407.10,66.39 M407.65,64.54 L407.76,64.03 L407.87,63.84 L407.98,63.67 L408.09,63.59 L408.20,63.59 L408.31,63.54 L408.42,63.61 L408.53,62.81 M408.75,61.45 L408.86,60.51 L408.97,60.47 L409.08,60.06 L409.19,59.82 L409.30,59.83 L409.41,59.42 L409.52,59.27 L409.63,58.98 L409.74,58.36 M410.18,55.93 L410.29,55.46 L410.40,55.34 L410.51,55.59 L410.62,55.35 L410.72,55.44 L410.83,55.10 L410.94,54.92 L411.05,54.47 L411.16,54.38 L411.27,54.19 L411.38,53.95 L411.49,53.86 L411.60,53.74 L411.71,54.02 L411.82,53.80 L411.93,54.22 L412.04,54.64 L412.15,54.77 L412.26,55.12 L412.37,55.26 L412.48,55.17 L412.59,55.32 L412.70,55.74 L412.81,56.12 L412.92,56.54 L413.03,56.80 L413.14,57.08 L413.25,57.23 L413.36,57.29 L413.47,57.65 L413.58,57.34 L413.69,57.00 L413.80,56.79 L413.91,56.30 L414.02,56.11 L414.13,56.11 L414.24,55.79 L414.35,55.69 L414.45,55.52 L414.56,55.10 L414.67,54.89 L414.78,54.43 L414.89,53.50 L415.00,53.35 L415.11,52.80 L415.22,52.88 L415.33,53.11 L415.44,53.35 L415.55,53.56 L415.66,53.25 L415.77,53.06 L415.88,52.31 L415.99,51.98 L416.10,51.85 L416.21,51.36 L416.32,51.13 L416.43,50.77 L416.54,50.56 L416.65,50.97 L416.76,51.33 M419.28,70.99 L419.39,72.16 L419.50,73.47 L419.61,74.41 L419.72,74.93 L419.83,74.81 L419.94,74.08 L420.05,73.19 L420.16,72.42 M423.67,54.50 L423.78,54.28 L423.89,53.82 L424.00,53.79 L424.11,53.16 M424.33,52.15 L424.44,51.62 L424.55,51.39 L424.66,51.32 L424.77,51.03 L424.88,51.09 L424.99,51.09 L425.10,50.81 L425.21,50.43 L425.31,50.26 L425.42,49.50 L425.53,49.34 L425.64,49.45 L425.75,48.79 L425.86,48.80 L425.97,48.49 L426.08,47.77 L426.19,47.92 L426.30,47.95 L426.41,48.01 L426.52,48.56 L426.63,48.77 L426.74,48.85 L426.85,49.17 L426.96,49.08 L427.07,49.23 L427.18,49.05 L427.29,49.12 L427.40,49.42 L427.51,49.19 L427.62,49.36 L427.73,49.56 L427.84,49.65 L427.95,50.05 L428.06,50.65 L428.17,50.83 L428.28,51.21 L428.39,51.47 L428.50,51.64 L428.61,51.91 M431.35,67.76 L431.46,68.98 L431.57,70.15 L431.68,70.88 L431.79,72.16 L431.90,72.13 L432.01,71.73 L432.12,71.36 L432.23,70.16 L432.34,69.66 M434.31,58.08 L434.42,57.55 L434.53,57.38 L434.64,57.28 L434.75,56.72 M434.97,55.86 L435.08,55.07 L435.19,55.07 L435.30,54.84 L435.41,54.30 L435.52,54.35 L435.63,53.88 L435.74,53.73 L435.85,53.76 L435.96,53.57 L436.07,53.56 L436.18,53.43 L436.29,53.03 L436.39,53.02 L436.50,52.84 L436.61,52.42 L436.72,52.10 L436.83,51.84 L436.94,51.63 L437.05,51.75 L437.16,51.76 L437.27,52.02 L437.38,52.25 L437.49,52.42 L437.60,52.77 L437.71,53.06 L437.82,52.96 L437.93,52.95 L438.04,52.77 L438.15,52.31 L438.26,52.33 L438.37,52.41 L438.48,52.44 L438.59,52.88 L438.70,53.34 L438.81,53.47 L438.92,53.66 L439.03,53.82 L439.14,54.01 L439.25,54.37 L439.36,54.92 L439.47,55.12 L439.58,55.34 L439.69,55.61 L439.80,55.74 L439.91,55.67 L440.01,56.12 L440.12,56.23 L440.23,56.20 L440.34,56.75 L440.45,56.75 L440.56,57.04 L440.67,57.52 L440.78,57.65 L440.89,57.81 L441.00,57.85 L441.11,57.78 L441.22,57.71 L441.33,57.78 L441.44,57.52 L441.55,57.07 M441.88,55.89 L441.99,55.37 L442.10,55.12 L442.21,55.25 L442.32,54.89 L442.43,54.98 L442.54,54.90 L442.65,54.74 L442.76,54.56 L442.87,54.41 L442.98,54.03 L443.09,53.56 L443.20,53.40 L443.31,53.13 L443.42,52.76 L443.53,52.59 L443.63,52.42 L443.74,52.26 L443.85,52.33 L443.96,52.36 L444.07,52.24 L444.18,52.15 L444.29,52.23 L444.40,52.31 L444.51,52.45 L444.62,52.90 L444.73,53.00 L444.84,53.07 L444.95,53.35 L445.06,53.15 L445.17,53.29 L445.28,53.39 L445.39,53.18 L445.50,53.46 L445.61,53.83 M447.80,70.23 L447.91,70.86 L448.02,70.97 L448.13,71.17 L448.24,71.57 M448.68,73.76 L448.79,74.15 L448.90,74.41 L449.01,74.49 L449.12,74.62 L449.23,74.67 L449.34,74.76 L449.45,74.86 L449.56,74.94 L449.67,75.01 M450.55,74.88 L450.66,74.83 L450.77,74.86 L450.88,74.87 L450.98,74.85 L451.09,74.80 L451.20,74.78 L451.31,74.81 L451.42,74.85 L451.53,74.92 L451.64,74.82 L451.75,74.59 L451.86,73.97 M452.08,72.40 L452.19,71.31 L452.30,70.87 L452.41,70.58 L452.52,70.08 M457.02,46.39 L457.13,46.10 L457.24,45.66 L457.35,45.59 L457.46,45.29 L457.57,45.05 L457.68,44.81 L457.79,44.39 L457.90,44.02 L458.01,43.71 L458.12,43.68 L458.23,43.54 L458.33,43.27 L458.44,43.18 L458.55,42.81 L458.66,42.39 L458.77,42.38 L458.88,42.20 L458.99,42.45 L459.10,42.63 L459.21,42.91 L459.32,43.06 L459.43,43.00 L459.54,43.38 L459.65,43.50 L459.76,43.89 L459.87,44.17 L459.98,44.55 L460.09,45.03 M460.97,48.44 L461.08,49.13 L461.19,49.16 L461.30,49.48 L461.41,49.57 L461.52,49.60 L461.63,50.07 L461.74,50.56 L461.85,51.16 L461.95,51.78 L462.06,51.81 L462.17,51.67 L462.28,50.84 L462.39,50.12 M462.61,48.58 L462.72,48.47 L462.83,48.08 L462.94,48.04 L463.05,47.86 L463.16,47.50 M463.49,46.31 L463.60,45.79 L463.71,45.41 L463.82,45.18 L463.93,44.83 L464.04,44.66 L464.15,44.34 L464.26,43.77 L464.37,43.26 L464.48,42.92 L464.59,42.57 L464.70,42.38 L464.81,42.40 L464.92,42.23 L465.03,42.06 L465.14,41.82 L465.25,41.68 L465.36,41.47 L465.47,41.42 L465.57,41.31 L465.68,41.48 L465.79,41.78 L465.90,41.77 L466.01,42.23 L466.12,42.33 L466.23,42.24 L466.34,42.79 L466.45,42.86 L466.56,43.12 L466.67,43.75 L466.78,43.84 L466.89,44.06 L467.00,44.32 L467.11,44.61 L467.22,44.75 L467.33,44.84 L467.44,45.65 L467.55,46.04 L467.66,46.70 L467.77,47.31 L467.88,47.08 L467.99,46.75 L468.10,46.34 L468.21,46.11 L468.32,45.58 L468.43,45.71 L468.54,45.73 L468.65,45.23 L468.76,45.35 L468.87,44.93 L468.98,44.82 L469.09,44.75 L469.20,44.58 L469.30,44.39 L469.41,44.08 L469.52,44.13 L469.63,44.11 L469.74,44.24 L469.85,44.59 L469.96,44.78 L470.07,44.87 L470.18,45.19 L470.29,45.41 L470.40,45.60 L470.51,45.83 L470.62,45.92 L470.73,46.06 L470.84,46.12 L470.95,46.19 L471.06,46.24 L471.17,46.44 L471.28,46.84 M471.94,50.73 L472.05,51.20 L472.16,51.42 L472.27,51.40 L472.38,51.27 L472.49,51.20 L472.60,51.34 L472.71,51.69 L472.82,52.09 L472.92,52.51 L473.03,52.79 L473.14,52.94 L473.25,52.95 L473.36,52.86 L473.47,52.67 L473.58,52.48 L473.69,52.27 L473.80,52.15 L473.91,52.02 L474.02,51.92 L474.13,51.94 L474.24,52.10 L474.35,52.21 L474.46,52.38 L474.57,52.34 L474.68,52.25 L474.79,51.96 L474.90,51.66 L475.01,51.34 L475.12,51.08 L475.23,50.78 L475.34,50.59 L475.45,50.32 L475.56,50.03 L475.67,49.72 L475.78,49.43 L475.89,49.17 L476.00,48.96 L476.11,48.81 L476.22,48.70 L476.33,48.49 L476.44,48.31 L476.54,48.14 L476.65,48.02 L476.76,47.81 L476.87,47.59 L476.98,47.36 L477.09,47.14 L477.20,46.95 L477.31,46.76 L477.42,46.53 L477.53,46.32 L477.64,46.16 L477.75,46.11 L477.86,46.10 L477.97,46.04 L478.08,45.90 L478.19,45.74 L478.30,45.50 L478.41,45.26 L478.52,44.90 L478.63,44.70 L478.74,44.53 L478.85,44.37 L478.96,44.20 L479.07,43.94 L479.18,43.93 L479.29,43.60 L479.40,43.33 L479.51,43.09 L479.62,42.70 L479.73,42.36 L479.84,42.26 L479.95,41.98 L480.06,41.78 L480.16,41.54 L480.27,41.30 L480.38,41.25 L480.49,41.03 L480.60,41.00 L480.71,40.72 L480.82,40.58 L480.93,40.39 L481.04,40.18 L481.15,39.95 L481.26,39.56 L481.37,39.34 L481.48,39.15 L481.59,38.99 L481.70,38.87 L481.81,38.65 L481.92,38.38 L482.03,38.06 L482.14,37.89 L482.25,37.83 L482.36,37.68 L482.47,37.60 L482.58,37.57 L482.69,37.54 L482.80,37.42 L482.91,37.30 L483.02,37.06 L483.13,36.94 L483.24,36.94 L483.35,37.00 L483.46,36.95 L483.57,36.91 L483.68,36.71 L483.79,36.63 L483.89,36.37 L484.00,36.15 L484.11,36.12 L484.22,36.02 L484.33,35.98 L484.44,36.00 L484.55,36.05 L484.66,36.07 L484.77,36.09 L484.88,36.14 L484.99,36.29 L485.10,36.29 L485.21,36.44 L485.32,36.45 L485.43,36.35 L485.54,36.40 L485.65,36.41 L485.76,36.35 L485.87,36.41 L485.98,36.38 L486.09,36.42 L486.20,36.38 L486.31,36.52 L486.42,36.69 L486.53,36.74 L486.64,36.88 L486.75,36.95 L486.86,37.11 L486.97,37.31 L487.08,37.38 L487.19,37.55 L487.30,37.59 L487.41,37.71 L487.51,37.81 L487.62,38.15 L487.73,38.50 L487.84,39.08 L487.95,39.58 L488.06,39.92 L488.17,40.20 L488.28,40.03 L488.39,39.84 L488.50,39.50 L488.61,39.03 L488.72,38.53 L488.83,38.11 L488.94,37.69 L489.05,37.45 L489.16,37.12 L489.27,36.84 L489.38,36.64 L489.49,36.45 L489.60,36.40 L489.71,36.37 L489.82,36.47 L489.93,36.32 L490.04,36.28 L490.15,36.39 L490.26,36.38 L490.37,36.39 L490.48,36.39 L490.59,36.34 L490.70,36.11 L490.81,36.10 L490.92,36.03 L491.03,35.92 L491.13,35.89 L491.24,35.98 L491.35,36.02 L491.46,36.14 L491.57,36.23 L491.68,36.33 L491.79,36.18 L491.90,36.11 L492.01,36.03 L492.12,35.83 L492.23,35.82 L492.34,35.85 L492.45,35.78 L492.56,35.88 L492.67,35.96 L492.78,36.04 L492.89,36.14 L493.00,36.11 L493.11,35.98 L493.22,35.90 L493.33,35.85 L493.44,35.79 L493.55,35.92 L493.66,35.96 L493.77,35.87 L493.88,35.88 L493.99,35.78 L494.10,35.68 L494.21,35.80 L494.32,35.97 L494.43,36.20 L494.54,36.27 L494.65,36.26 L494.76,36.17 L494.86,35.95 L494.97,35.79 L495.08,35.76 L495.19,35.73 L495.30,35.82 L495.41,35.91 L495.52,35.92 L495.63,36.02 L495.74,36.13 L495.85,36.14 L495.96,36.12 L496.07,36.00 L496.18,35.93 L496.29,35.95 L496.40,36.11 L496.51,36.19 L496.62,36.33 L496.73,36.15 L496.84,35.98 L496.95,36.03 L497.06,35.91 L497.17,36.03 L497.28,36.05 L497.39,36.09 L497.50,36.19 L497.61,36.23 L497.72,36.18 L497.83,36.20 L497.94,36.18 L498.05,36.17 L498.16,36.12 L498.27,36.14 L498.38,36.10 L498.48,36.13 L498.59,36.05 L498.70,36.02 L498.81,36.10 L498.92,36.00 L499.03,36.07 L499.14,35.95 L499.25,35.94 L499.36,36.02 L499.47,36.02 L499.58,36.07 L499.69,36.03 L499.80,35.89 L499.91,35.89 L500.02,35.82 L500.13,35.79 L500.24,35.88 L500.35,35.96 L500.46,36.09 L500.57,36.17 L500.68,36.17 L500.79,36.14 L500.90,36.06 L501.01,36.07 L501.12,35.99 L501.23,35.94 L501.34,35.93 L501.45,35.83 L501.56,35.73 L501.67,35.87 L501.78,35.85 L501.89,35.95 L502.00,36.02 L502.11,35.94 L502.21,35.89 L502.32,35.92 L502.43,35.87 L502.54,35.85 L502.65,36.00 L502.76,35.83 L502.87,35.84 L502.98,35.87 L503.09,35.85 L503.20,36.03 L503.31,36.02 L503.42,35.98 L503.53,35.92 L503.64,35.82 L503.75,35.86 L503.86,35.86 L503.97,35.86 L504.08,35.80 L504.19,35.84 L504.30,35.88 L504.41,35.99 L504.52,35.99 L504.63,36.08 L504.74,36.10 L504.85,35.87 L504.96,35.82 L505.07,35.72 L505.18,35.73 L505.29,35.89 L505.40,35.91 L505.51,35.90 L505.62,35.95 L505.73,35.93 L505.83,36.00 L505.94,35.87 L506.05,35.88 L506.16,35.81 L506.27,35.84 L506.38,35.90 L506.49,35.92 L506.60,35.79 L506.71,35.77 L506.82,35.59 L506.93,35.62 L507.04,35.68 L507.15,35.80 L507.26,35.92 L507.37,35.82 L507.48,35.86 L507.59,35.82 L507.70,35.76 L507.81,35.83 L507.92,35.80 L508.03,35.86 L508.14,36.07 L508.25,36.04 L508.36,36.06 L508.47,36.02 L508.58,35.91 L508.69,35.78 L508.80,35.82 L508.91,35.78 L509.02,35.83 L509.13,35.88 L509.24,35.91 L509.35,35.97 L509.45,35.94 L509.56,36.07 L509.67,36.02 L509.78,36.22 L509.89,36.28 L510.00,36.22 L510.11,36.19 L510.22,36.11 L510.33,35.95 L510.44,35.90 L510.55,35.84 L510.66,35.87 L510.77,35.87 L510.88,35.91 L510.99,36.03 L511.10,36.12 L511.21,36.23 L511.32,36.29 L511.43,36.19 L511.54,36.18 L511.65,36.08 L511.76,36.01 L511.87,36.04 L511.98,36.07 L512.09,36.06 L512.20,36.10 L512.31,36.14 L512.42,36.27 L512.53,36.32 L512.64,36.35 L512.75,36.56 L512.86,36.89 L512.97,37.29 M517.79,73.28 L517.90,74.18 L518.01,74.85 L518.12,75.20 L518.23,75.23 L518.34,75.21" fill="none" stroke="#ff0000" stroke-width="0.60" stroke-linejoin="round" stroke-linecap="round"/>
<path d="M321.10,74.65 L321.32,73.64 L321.54,72.43 L321.76,71.24 L321.98,70.10 L322.20,68.97 L322.42,67.83 L322.64,66.78 L322.86,66.02 L323.07,65.35 L323.29,64.67 L323.51,64.15 L323.73,64.29 L323.95,64.59 L324.17,65.04 L324.39,66.06 L324.61,67.22 L324.83,68.38 L325.05,69.48 L325.27,70.52 L325.49,71.55 L325.71,72.49 L325.93,73.04 L326.15,73.49 L326.37,73.72 L326.59,73.04 L326.80,72.13 L327.02,70.90 L327.24,68.33 L327.46,65.44 L327.68,63.41 L327.90,62.24 L328.12,61.08 L328.34,59.96 L328.56,59.01 L328.78,58.11 L329.00,57.20 L329.22,56.47 L329.44,55.91 L329.66,55.36 L329.88,54.80 L330.10,54.24 L330.31,53.69 L330.53,53.18 L330.75,52.86 L330.97,52.60 L331.19,52.34 L331.41,52.07 L331.63,51.81 L331.85,51.58 L332.07,51.49 L332.29,51.44 L332.51,51.39 L332.73,51.34 L332.95,51.45 L333.17,51.71 L333.39,51.97 L333.61,52.33 L333.83,53.13 L334.04,54.03 L334.26,55.05 L334.48,56.52 L334.70,58.41 L334.92,61.50 L335.14,64.80 L335.36,67.70 L335.58,70.50 L335.80,72.20 L336.02,72.78 L336.24,73.36 L336.46,73.70 L336.68,72.95 L336.90,71.98 L337.12,71.29 L337.34,71.05 L337.56,70.76 L337.77,70.28 L337.99,70.20 L338.21,70.43 L338.43,69.94 L338.65,69.69 L338.87,70.02 L339.09,69.60 L339.31,69.04 L339.53,69.10 L339.75,69.11 L339.97,68.50 L340.19,68.05 L340.41,67.89 L340.63,67.03 L340.85,65.66 L341.07,65.07 L341.28,66.07 L341.50,67.53 L341.72,68.43 L341.94,69.18 L342.16,70.64 L342.38,71.98 L342.60,72.65 L342.82,73.37 L343.04,73.83 L343.26,73.90 L343.48,73.96 L343.70,74.07 L343.92,74.16 L344.14,74.29 L344.36,74.34 L344.58,74.35 L344.80,74.30 L345.01,74.18 L345.23,74.16 L345.45,73.95 L345.67,73.73 L345.89,73.67 L346.11,73.50 L346.33,73.12 L346.55,72.20 L346.77,71.29 L346.99,70.68 L347.21,70.22 L347.43,69.26 L347.65,67.78 L347.87,66.97 L348.09,66.15 L348.31,65.16 L348.53,63.79 L348.74,62.60 L348.96,62.63 L349.18,63.26 L349.40,63.56 L349.62,63.86 L349.84,64.60 L350.06,65.82 L350.28,68.24 L350.50,70.48 L350.72,71.89 L350.94,73.19 L351.16,74.09 L351.38,74.31 L351.60,74.36 L351.82,74.39 L352.04,74.39 L352.25,74.39 L352.47,74.43 L352.69,74.53 L352.91,74.60 L353.13,74.59 L353.35,74.43 L353.57,74.18 L353.79,73.90 L354.01,73.67 L354.23,73.36 L354.45,73.08 L354.67,72.78 L354.89,71.31 L355.11,69.64 L355.33,68.58 L355.55,67.36 L355.77,65.87 L355.98,64.47 L356.20,63.64 L356.42,64.63 L356.64,65.73 L356.86,66.28 L357.08,67.67 L357.30,69.97 L357.52,71.53 L357.74,72.92 L357.96,72.51 L358.18,71.19 L358.40,69.84 L358.62,68.68 L358.84,67.35 L359.06,66.28 L359.28,65.33 L359.50,64.41 L359.71,63.24 L359.93,62.01 L360.15,61.07 L360.37,60.01 L360.59,59.51 L360.81,59.07 L361.03,58.14 L361.25,58.63 L361.47,59.36 L361.69,60.96 L361.91,62.98 L362.13,64.30 L362.35,65.07 L362.57,65.44 L362.79,64.88 L363.01,63.91 L363.22,62.86 L363.44,62.16 L363.66,60.82 L363.88,59.38 L364.10,58.39 L364.32,57.58 L364.54,56.47 L364.76,55.19 L364.98,54.38 L365.20,54.88 L365.42,56.12 L365.64,57.65 L365.86,58.99 L366.08,60.10 L366.30,61.02 L366.52,61.59 L366.74,63.04 L366.95,64.38 L367.17,64.27 L367.39,63.67 L367.61,63.26 L367.83,62.48 L368.05,61.49 L368.27,60.35 L368.49,59.71 L368.71,59.04 L368.93,58.51 L369.15,60.58 L369.37,62.63 L369.59,64.30 L369.81,66.06 L370.03,68.05 L370.25,69.99 L370.47,71.87 L370.68,73.34 L370.90,72.49 L371.12,70.75 L371.34,68.93 L371.56,67.57 L371.78,66.30 L372.00,64.79 L372.22,63.34 L372.44,62.58 L372.66,61.63 L372.88,60.48 L373.10,59.46 L373.32,58.18 L373.54,56.83 L373.76,55.80 L373.98,55.95 L374.19,57.28 L374.41,58.76 L374.63,60.41 L374.85,61.88 L375.07,63.46 L375.29,64.91 L375.51,64.19 L375.73,63.12 L375.95,62.33 L376.17,62.01 L376.39,61.64 L376.61,60.55 L376.83,60.01 L377.05,59.70 L377.27,58.47 L377.49,57.47 L377.71,57.27 L377.92,56.80 L378.14,57.18 L378.36,58.24 L378.58,59.38 L378.80,60.72 L379.02,62.24 L379.24,63.84 L379.46,64.88 L379.68,66.26 L379.90,67.63 L380.12,69.13 L380.34,70.39 L380.56,69.46 L380.78,68.27 L381.00,67.72 L381.22,66.78 L381.44,65.60 L381.65,64.92 L381.87,63.88 L382.09,62.88 L382.31,62.44 L382.53,61.80 L382.75,60.88 L382.97,60.55 L383.19,60.37 L383.41,60.16 L383.63,59.90 L383.85,59.43 L384.07,59.08 L384.29,58.89 L384.51,58.70 L384.73,58.30 L384.95,58.18 L385.16,58.39 L385.38,58.37 L385.60,58.40 L385.82,57.86 L386.04,57.56 L386.26,57.37 L386.48,57.16 L386.70,56.88 L386.92,56.73 L387.14,56.63 L387.36,56.41 L387.58,56.42 L387.80,55.88 L388.02,55.79 L388.24,56.65 L388.46,57.80 L388.68,58.42 L388.89,59.05 L389.11,60.08 L389.33,61.96 L389.55,63.93 L389.77,65.58 L389.99,67.01 L390.21,69.03 L390.43,70.57 L390.65,71.93 L390.87,73.35 L391.09,72.42 L391.31,70.96 L391.53,69.27 L391.75,67.87 L391.97,66.30 L392.19,64.41 L392.41,62.76 L392.62,61.97 L392.84,61.02 L393.06,59.53 L393.28,58.28 L393.50,57.28 L393.72,56.33 L393.94,54.82 L394.16,53.46 L394.38,52.88 L394.60,52.20 L394.82,51.23 L395.04,50.61 L395.26,49.55 L395.48,48.45 L395.70,48.11 L395.92,47.43 L396.13,47.03 L396.35,46.69 L396.57,46.17 L396.79,45.67 L397.01,45.21 L397.23,45.04 L397.45,44.93 L397.67,44.63 L397.89,45.05 L398.11,46.17 L398.33,46.65 L398.55,46.98 L398.77,47.73 L398.99,48.67 L399.21,50.00 L399.43,51.47 L399.65,53.10 L399.86,54.83 L400.08,55.90 L400.30,57.68 L400.52,60.44 L400.74,63.59 L400.96,66.76 L401.18,69.80 L401.40,72.58 L401.62,73.69 L401.84,73.83 L402.06,73.97 L402.28,74.08 L402.50,74.14 L402.72,74.25 L402.94,74.33 L403.16,74.37 L403.38,74.37 L403.59,74.37 L403.81,74.42 L404.03,74.44 L404.25,74.39 L404.47,74.36 L404.69,74.24 L404.91,73.58 L405.13,72.61 L405.35,71.64 L405.57,70.91 L405.79,70.07 L406.01,68.90 L406.23,68.26 L406.45,67.81 L406.67,67.12 L406.89,66.62 L407.10,65.92 L407.32,65.24 L407.54,64.33 L407.76,63.72 L407.98,63.26 L408.20,62.92 L408.42,62.77 L408.64,61.53 L408.86,60.23 L409.08,59.76 L409.30,59.33 L409.52,58.67 L409.74,57.92 L409.96,56.84 L410.18,55.64 L410.40,55.09 L410.62,54.95 L410.83,54.57 L411.05,54.15 L411.27,53.94 L411.49,53.67 L411.71,53.76 L411.93,53.87 L412.15,54.27 L412.37,54.76 L412.59,54.89 L412.81,55.62 L413.03,56.12 L413.25,56.45 L413.47,56.93 L413.69,56.43 L413.91,55.88 L414.13,55.64 L414.35,55.09 L414.56,54.49 L414.78,53.97 L415.00,53.06 L415.22,52.53 L415.44,52.84 L415.66,52.58 L415.88,51.86 L416.10,51.40 L416.32,51.05 L416.54,50.64 L416.76,51.25 L416.98,52.84 L417.20,54.30 L417.42,55.64 L417.64,56.77 L417.86,58.29 L418.07,60.17 L418.29,62.03 L418.51,63.87 L418.73,65.46 L418.95,67.43 L419.17,69.43 L419.39,71.31 L419.61,73.30 L419.83,73.62 L420.05,72.29 L420.27,70.75 L420.49,69.66 L420.71,68.38 L420.93,66.58 L421.15,65.19 L421.37,64.12 L421.59,62.95 L421.80,61.91 L422.02,60.73 L422.24,59.89 L422.46,58.96 L422.68,58.00 L422.90,57.42 L423.12,56.41 L423.34,55.52 L423.56,54.63 L423.78,53.85 L424.00,53.43 L424.22,52.33 L424.44,51.36 L424.66,51.00 L424.88,50.61 L425.10,50.40 L425.31,49.69 L425.53,48.94 L425.75,48.51 L425.97,48.05 L426.19,47.73 L426.41,47.72 L426.63,48.40 L426.85,48.70 L427.07,48.80 L427.29,48.78 L427.51,48.92 L427.73,49.26 L427.95,49.65 L428.17,50.50 L428.39,51.04 L428.61,51.62 L428.83,52.46 L429.04,53.44 L429.26,54.64 L429.48,55.44 L429.70,56.31 L429.92,57.66 L430.14,59.20 L430.36,60.83 L430.58,62.22 L430.80,63.66 L431.02,65.03 L431.24,66.61 L431.46,68.29 L431.68,69.75 L431.90,70.98 L432.12,70.18 L432.34,69.09 L432.56,67.60 L432.77,66.18 L432.99,64.90 L433.21,63.41 L433.43,62.25 L433.65,60.89 L433.87,59.42 L434.09,58.60 L434.31,57.61 L434.53,56.96 L434.75,56.39 L434.97,55.47 L435.19,54.75 L435.41,54.00 L435.63,53.54 L435.85,53.26 L436.07,53.00 L436.29,52.59 L436.50,52.35 L436.72,51.77 L436.94,51.39 L437.16,51.59 L437.38,51.90 L437.60,52.18 L437.82,52.37 L438.04,52.32 L438.26,51.95 L438.48,52.28 L438.70,52.97 L438.92,53.17 L439.14,53.49 L439.36,54.39 L439.58,54.82 L439.80,55.26 L440.01,55.72 L440.23,55.88 L440.45,56.29 L440.67,56.94 L440.89,57.22 L441.11,57.08 L441.33,57.17 L441.55,56.53 L441.77,55.70 L441.99,55.07 L442.21,54.81 L442.43,54.45 L442.65,54.22 L442.87,53.87 L443.09,53.13 L443.31,52.86 L443.53,52.36 L443.74,51.89 L443.96,52.02 L444.18,51.89 L444.40,52.04 L444.62,52.43 L444.84,52.57 L445.06,52.73 L445.28,53.03 L445.50,53.29 L445.72,54.18 L445.94,55.81 L446.16,57.64 L446.38,58.71 L446.60,59.43 L446.82,61.52 L447.04,63.56 L447.25,64.93 L447.47,66.70 L447.69,68.82 L447.91,70.12 L448.13,70.48 L448.35,71.60 L448.57,72.77 L448.79,73.51 L449.01,73.83 L449.23,74.17 L449.45,74.39 L449.67,74.54 L449.89,74.54 L450.11,74.51 L450.33,74.47 L450.55,74.42 L450.77,74.39 L450.98,74.33 L451.20,74.27 L451.42,74.18 L451.64,73.97 L451.86,73.18 L452.08,71.81 L452.30,70.49 L452.52,69.89 L452.74,68.85 L452.96,68.03 L453.18,66.59 L453.40,65.34 L453.62,64.73 L453.84,63.65 L454.06,62.62 L454.28,61.34 L454.50,59.32 L454.71,57.53 L454.93,56.91 L455.15,56.07 L455.37,54.83 L455.59,53.78 L455.81,52.54 L456.03,51.05 L456.25,49.70 L456.47,48.34 L456.69,47.27 L456.91,46.40 L457.13,45.72 L457.35,45.21 L457.57,44.62 L457.79,44.09 L458.01,43.44 L458.23,43.08 L458.44,42.82 L458.66,42.17 L458.88,41.95 L459.10,42.35 L459.32,42.62 L459.54,43.02 L459.76,43.59 L459.98,44.05 L460.20,44.77 L460.42,45.66 L460.64,46.47 L460.86,47.29 L461.08,48.49 L461.30,48.97 L461.52,49.19 L461.74,50.01 L461.95,50.96 L462.17,50.64 L462.39,49.45 L462.61,48.27 L462.83,47.70 L463.05,47.35 L463.27,46.63 L463.49,45.82 L463.71,45.05 L463.93,44.46 L464.15,43.96 L464.37,42.91 L464.59,42.25 L464.81,42.05 L465.03,41.68 L465.25,41.39 L465.47,41.16 L465.68,41.22 L465.90,41.49 L466.12,41.97 L466.34,42.48 L466.56,42.68 L466.78,43.38 L467.00,43.91 L467.22,44.36 L467.44,45.07 L467.66,45.96 L467.88,46.31 L468.10,45.70 L468.32,45.17 L468.54,45.32 L468.76,44.91 L468.98,44.41 L469.20,44.23 L469.41,43.73 L469.63,43.84 L469.85,44.13 L470.07,44.39 L470.29,44.91 L470.51,45.29 L470.73,45.64 L470.95,45.88 L471.17,46.20 L471.39,47.14 L471.61,48.34 L471.83,49.43 L472.05,50.41 L472.27,50.87 L472.49,50.81 L472.71,51.33 L472.92,51.89 L473.14,52.30 L473.36,52.26 L473.58,52.04 L473.80,51.81 L474.02,51.57 L474.24,51.56 L474.46,51.75 L474.68,51.57 L474.90,51.07 L475.12,50.53 L475.34,50.02 L475.56,49.53 L475.78,49.04 L476.00,48.59 L476.22,48.23 L476.44,47.90 L476.65,47.55 L476.87,47.14 L477.09,46.72 L477.31,46.29 L477.53,45.93 L477.75,45.72 L477.97,45.53 L478.19,45.21 L478.41,44.76 L478.63,44.31 L478.85,43.85 L479.07,43.40 L479.29,43.05 L479.51,42.49 L479.73,41.99 L479.95,41.59 L480.16,41.14 L480.38,40.83 L480.60,40.46 L480.82,40.07 L481.04,39.67 L481.26,39.18 L481.48,38.71 L481.70,38.36 L481.92,37.97 L482.14,37.53 L482.36,37.27 L482.58,37.07 L482.80,36.87 L483.02,36.66 L483.24,36.50 L483.46,36.48 L483.68,36.27 L483.89,36.01 L484.11,35.82 L484.33,35.60 L484.55,35.70 L484.77,35.72 L484.99,35.79 L485.21,35.97 L485.43,35.91 L485.65,35.94 L485.87,36.00 L486.09,36.02 L486.31,36.10 L486.53,36.27 L486.75,36.55 L486.97,36.87 L487.19,37.13 L487.41,37.41 L487.62,37.86 L487.84,38.52 L488.06,39.21 L488.28,39.30 L488.50,38.82 L488.72,38.07 L488.94,37.28 L489.16,36.88 L489.38,36.38 L489.60,36.07 L489.82,36.07 L490.04,35.94 L490.26,35.89 L490.48,35.86 L490.70,35.68 L490.92,35.62 L491.13,35.62 L491.35,35.66 L491.57,35.69 L491.79,35.75 L492.01,35.60 L492.23,35.41 L492.45,35.41 L492.67,35.54 L492.89,35.66 L493.11,35.55 L493.33,35.53 L493.55,35.48 L493.77,35.41 L493.99,35.37 L494.21,35.41 L494.43,35.66 L494.65,35.66 L494.86,35.41 L495.08,35.36 L495.30,35.39 L495.52,35.40 L495.74,35.60 L495.96,35.65 L496.18,35.55 L496.40,35.68 L496.62,35.75 L496.84,35.63 L497.06,35.46 L497.28,35.54 L497.50,35.71 L497.72,35.68 L497.94,35.63 L498.16,35.65 L498.38,35.62 L498.59,35.61 L498.81,35.66 L499.03,35.63 L499.25,35.60 L499.47,35.62 L499.69,35.62 L499.91,35.58 L500.13,35.51 L500.35,35.61 L500.57,35.72 L500.79,35.66 L501.01,35.60 L501.23,35.44 L501.45,35.43 L501.67,35.48 L501.89,35.45 L502.11,35.45 L502.32,35.49 L502.54,35.44 L502.76,35.35 L502.98,35.42 L503.20,35.54 L503.42,35.53 L503.64,35.46 L503.86,35.51 L504.08,35.45 L504.30,35.50 L504.52,35.55 L504.74,35.48 L504.96,35.43 L505.18,35.34 L505.40,35.42 L505.62,35.49 L505.83,35.39 L506.05,35.40 L506.27,35.42 L506.49,35.43 L506.71,35.42 L506.93,35.36 L507.15,35.40 L507.37,35.45 L507.59,35.41 L507.81,35.39 L508.03,35.42 L508.25,35.53 L508.47,35.52 L508.69,35.28 L508.91,35.30 L509.13,35.40 L509.35,35.44 L509.56,35.57 L509.78,35.65 L510.00,35.69 L510.22,35.57 L510.44,35.47 L510.66,35.48 L510.88,35.53 L511.10,35.64 L511.32,35.79 L511.54,35.69 L511.76,35.68 L511.98,35.68 L512.20,35.73 L512.42,35.89 L512.64,36.07 L512.86,36.56 L513.08,37.35 L513.29,38.23 L513.51,39.19 L513.73,40.16 L513.95,41.17 L514.17,42.54 L514.39,44.12 L514.61,45.69 L514.83,47.27 L515.05,48.94 L515.27,50.85 L515.49,52.79 L515.71,54.74 L515.93,56.69 L516.15,58.68 L516.37,60.68 L516.59,62.69 L516.80,64.70 L517.02,66.64 L517.24,68.35 L517.46,70.00 L517.68,71.65 L517.90,73.30 L518.12,74.27 L518.34,74.56 L518.56,74.80" fill="none" stroke="#111" stroke-width="0.60" stroke-linejoin="round"/>
</g>
<rect x="321.10" y="29.60" width="219.40" height="45.70" fill="none" stroke="#777" stroke-width="0.6"/>
<text x="321.10" y="83.30" class="tl" text-anchor="middle">0</text>
<text x="343.04" y="83.30" class="tl" text-anchor="middle">200</text>
<text x="364.98" y="83.30" class="tl" text-anchor="middle">400</text>
<text x="386.92" y="83.30" class="tl" text-anchor="middle">600</text>
<text x="408.86" y="83.30" class="tl" text-anchor="middle">800</text>
<text x="430.80" y="83.30" class="tl" text-anchor="middle">1000</text>
<text x="452.74" y="83.30" class="tl" text-anchor="middle">1200</text>
<text x="474.68" y="83.30" class="tl" text-anchor="middle">1400</text>
<text x="496.62" y="83.30" class="tl" text-anchor="middle">1600</text>
<text x="518.56" y="83.30" class="tl" text-anchor="middle">1800</text>
<text x="540.50" y="83.30" class="tl" text-anchor="middle">2000</text>
<text x="319.50" y="77.15" class="tl" text-anchor="end">0</text>
<text x="319.50" y="54.52" class="tl" text-anchor="end">50</text>
<text x="319.50" y="31.90" class="tl" text-anchor="end">100</text>
<path d="M321.10,75.30 v-2.0 M321.10,29.60 v2.0 M343.04,75.30 v-2.0 M343.04,29.60 v2.0 M364.98,75.30 v-2.0 M364.98,29.60 v2.0 M386.92,75.30 v-2.0 M386.92,29.60 v2.0 M408.86,75.30 v-2.0 M408.86,29.60 v2.0 M430.80,75.30 v-2.0 M430.80,29.60 v2.0 M452.74,75.30 v-2.0 M452.74,29.60 v2.0 M474.68,75.30 v-2.0 M474.68,29.60 v2.0 M496.62,75.30 v-2.0 M496.62,29.60 v2.0 M518.56,75.30 v-2.0 M518.56,29.60 v2.0 M540.50,75.30 v-2.0 M540.50,29.60 v2.0 M321.10,74.85 h2.0 M540.50,74.85 h-2.0 M321.10,52.22 h2.0 M540.50,52.22 h-2.0 M321.10,29.60 h2.0 M540.50,29.60 h-2.0" stroke="#777" stroke-width="0.6" fill="none"/>
<clipPath id="clip_b2"><rect x="321.10" y="93.00" width="219.40" height="46.50"/></clipPath>
<g clip-path="url(#clip_b2)">
<path d="M321.10,124.31 L321.21,128.74 L321.32,134.06 L321.43,136.82 L321.54,136.38 L321.65,135.86 L321.76,135.03 L321.87,134.63 L321.98,133.97 L322.09,133.40 L322.20,132.47 L322.31,131.86 M323.18,128.57 L323.29,128.19 L323.40,127.72 L323.51,127.34 L323.62,127.03 L323.73,127.09 L323.84,127.21 L323.95,127.55 L324.06,127.60 L324.17,127.96 L324.28,128.22 L324.39,128.76 L324.50,129.34 L324.61,129.88 L324.72,130.54 L324.83,130.87 L324.94,131.45 L325.05,132.12 L325.16,132.85 L325.27,133.52 M325.71,135.48 L325.82,136.05 L325.93,136.45 L326.04,136.75 L326.15,136.98 L326.26,137.03 L326.37,137.25 L326.48,137.28 L326.59,137.33 L326.69,137.04 L326.80,136.62 L326.91,136.19 L327.02,135.44 L327.13,134.69 L327.24,133.06 L327.35,131.55 L327.46,129.56 L327.57,128.09 L327.68,126.79 M329.55,119.59 L329.66,119.43 L329.77,119.22 L329.88,118.83 L329.99,118.34 M330.21,117.55 L330.31,117.23 L330.42,117.18 L330.53,116.85 L330.64,116.78 L330.75,116.65 L330.86,116.59 L330.97,116.48 L331.08,116.28 L331.19,116.16 L331.30,115.88 L331.41,115.72 L331.52,115.52 L331.63,115.38 L331.74,115.22 L331.85,115.11 L331.96,115.08 L332.07,115.06 L332.18,115.00 L332.29,114.95 L332.40,114.90 L332.51,114.86 L332.62,114.87 L332.73,114.83 L332.84,114.91 L332.95,114.84 L333.06,114.93 L333.17,114.93 L333.28,115.06 L333.39,115.17 L333.50,115.31 L333.61,115.38 L333.72,115.57 L333.83,115.93 L333.93,116.42 L334.04,117.05 L334.15,117.23 L334.26,117.60 L334.37,117.72 L334.48,118.16 L334.59,118.56 L334.70,119.30 L334.81,120.71 L334.92,122.40 L335.03,123.88 L335.14,126.03 L335.25,128.17 L335.36,130.04 L335.47,131.48 L335.58,132.77 L335.69,134.27 L335.80,135.47 L335.91,136.23 L336.02,136.71 L336.13,136.86 L336.24,136.92 L336.35,137.06 L336.46,137.22 L336.57,137.21 L336.68,136.71 L336.79,136.15 L336.90,135.48 L337.01,135.02 L337.12,134.55 L337.23,134.34 L337.34,134.22 L337.45,134.05 L337.56,133.93 L337.66,133.80 L337.77,133.76 L337.88,133.51 L337.99,133.53 L338.10,133.32 L338.21,133.17 L338.32,133.47 L338.43,133.10 L338.54,133.29 L338.65,133.17 L338.76,133.01 L338.87,133.26 L338.98,133.12 L339.09,133.15 L339.20,132.89 L339.31,132.88 L339.42,132.33 L339.53,132.00 L339.64,132.29 L339.75,132.55 L339.86,132.48 L339.97,132.15 L340.08,131.68 L340.19,131.54 L340.30,131.42 L340.41,131.39 L340.52,131.30 L340.63,130.87 M340.85,128.89 L340.96,128.00 L341.07,127.21 L341.18,127.77 L341.28,128.35 L341.39,129.14 L341.50,129.89 L341.61,130.70 L341.72,131.26 L341.83,131.78 L341.94,132.08 L342.05,132.59 L342.16,133.28 L342.27,134.10 M342.71,135.88 L342.82,136.29 L342.93,136.78 L343.04,137.01 L343.15,137.10 L343.26,137.15 L343.37,137.07 L343.48,137.21 L343.59,137.12 L343.70,137.21 L343.81,137.26 L343.92,137.38 L344.03,137.46 L344.14,137.43 L344.25,137.43 L344.36,137.42 L344.47,137.53 L344.58,137.41 L344.69,137.46 L344.80,137.40 L344.90,137.44 L345.01,137.37 L345.12,137.23 L345.23,137.08 L345.34,137.01 L345.45,137.01 L345.56,137.14 L345.67,137.08 L345.78,137.01 L345.89,137.03 L346.00,137.05 L346.11,137.11 L346.22,136.89 L346.33,136.83 L346.44,136.62 L346.55,135.94 L346.66,135.24 L346.77,134.79 L346.88,134.36 L346.99,134.24 L347.10,134.03 L347.21,134.14 L347.32,133.69 L347.43,133.18 L347.54,132.29 L347.65,131.50 L347.76,130.84 M347.98,130.10 L348.09,129.93 L348.20,129.47 L348.31,128.94 L348.42,128.17 L348.53,127.16 L348.63,126.19 L348.74,125.92 L348.85,125.28 L348.96,125.36 L349.07,125.39 L349.18,125.99 L349.29,126.31 L349.40,126.32 L349.51,126.61 L349.62,126.60 L349.73,126.52 L349.84,126.80 L349.95,127.27 L350.06,127.99 L350.17,128.46 L350.28,129.82 L350.39,130.94 L350.50,132.95 L350.61,134.33 L350.72,135.48 M351.05,136.78 L351.16,137.13 L351.27,137.53 L351.38,137.64 L351.49,137.62 L351.60,137.63 L351.71,137.52 L351.82,137.54 L351.93,137.40 L352.04,137.44 L352.15,137.42 L352.25,137.43 L352.36,137.47 L352.47,137.51 M353.24,137.53 L353.35,137.57 L353.46,137.55 L353.57,137.47 L353.68,137.48 L353.79,137.27 L353.90,137.15 L354.01,136.95 L354.12,136.93 L354.23,136.90 L354.34,136.73 L354.45,136.64 L354.56,136.60 L354.67,136.45 L354.78,136.29 L354.89,135.70 L355.00,134.83 L355.11,133.77 L355.22,132.85 L355.33,132.68 L355.44,131.84 L355.55,131.74 L355.66,130.82 L355.77,129.87 L355.87,128.60 L355.98,127.81 L356.09,126.95 L356.20,126.35 L356.31,126.20 L356.42,126.46 L356.53,127.42 L356.64,128.09 L356.75,128.64 L356.86,128.92 L356.97,129.19 L357.08,129.68 L357.19,130.66 L357.30,131.92 L357.41,133.68 L357.52,134.78 L357.63,136.03 L357.74,136.80 L357.85,137.20 L357.96,137.24 L358.07,136.37 L358.18,135.58 L358.29,134.63 L358.40,133.96 L358.51,132.82 L358.62,132.05 M359.39,128.43 L359.50,128.00 L359.60,127.93 L359.71,127.30 L359.82,126.61 L359.93,125.78 L360.04,125.13 M360.26,124.36 L360.37,123.80 L360.48,123.40 L360.59,123.00 L360.70,122.59 L360.81,122.55 L360.92,122.30 L361.03,121.38 L361.14,120.82 L361.25,120.64 L361.36,121.04 L361.47,121.77 L361.58,122.84 L361.69,123.62 L361.80,124.87 L361.91,125.80 L362.02,126.83 M362.24,128.54 L362.35,128.94 L362.46,129.23 L362.57,129.78 L362.68,129.72 L362.79,129.35 L362.90,128.57 L363.01,127.91 L363.12,127.41 L363.22,126.83 L363.33,126.51 L363.44,126.21 L363.55,126.05 L363.66,125.89 L363.77,124.71 L363.88,123.54 L363.99,122.46 L364.10,122.26 L364.21,121.88 L364.32,121.96 L364.43,121.17 L364.54,120.37 L364.65,119.57 L364.76,118.64 L364.87,118.19 L364.98,117.50 L365.09,117.15 L365.20,116.95 L365.31,117.36 L365.42,118.49 L365.53,119.44 L365.64,120.62 L365.75,121.37 M366.84,126.97 L366.95,127.65 L367.06,128.34 L367.17,128.57 L367.28,128.41 L367.39,127.88 L367.50,127.33 L367.61,127.09 L367.72,126.95 L367.83,126.34 L367.94,126.02 L368.05,125.33 L368.16,124.67 L368.27,124.30 L368.38,123.51 L368.49,122.73 L368.60,122.05 L368.71,121.60 L368.82,121.67 L368.93,121.39 L369.04,121.40 L369.15,121.96 L369.26,123.59 L369.37,125.05 L369.48,126.42 L369.59,127.28 L369.70,128.01 L369.81,128.83 L369.92,129.66 L370.03,130.65 L370.14,131.50 L370.25,132.87 L370.36,134.28 L370.47,135.59 L370.57,136.57 L370.68,137.57 L370.79,138.14 L370.90,138.02 L371.01,136.74 L371.12,135.36 L371.23,134.04 L371.34,133.29 L371.45,132.01 L371.56,131.35 L371.67,130.73 L371.78,129.95 L371.89,129.23 L372.00,128.46 L372.11,127.74 L372.22,127.28 L372.33,126.52 L372.44,126.21 L372.55,125.95 L372.66,125.58 L372.77,125.04 L372.88,124.43 L372.99,123.78 L373.10,123.27 L373.21,122.57 L373.32,122.25 L373.43,121.16 L373.54,120.12 L373.65,119.34 L373.76,118.81 L373.87,118.48 L373.98,118.08 L374.09,118.39 L374.19,119.06 L374.30,120.32 L374.41,121.38 L374.52,122.23 L374.63,123.11 L374.74,123.93 L374.85,124.60 L374.96,125.86 L375.07,126.95 L375.18,128.01 L375.29,128.74 L375.40,129.17 L375.51,128.90 L375.62,127.90 L375.73,127.04 L375.84,126.33 L375.95,126.12 L376.06,125.81 L376.17,125.74 L376.28,125.34 L376.39,125.16 L376.50,124.74 L376.61,124.29 L376.72,123.98 L376.83,123.64 L376.94,123.45 L377.05,123.23 L377.16,123.24 L377.27,122.47 L377.38,121.91 L377.49,121.11 L377.60,120.39 L377.71,119.82 L377.81,119.80 L377.92,119.99 L378.03,119.74 L378.14,119.95 L378.25,120.00 L378.36,120.57 L378.47,121.45 L378.58,122.04 L378.69,122.63 L378.80,123.46 L378.91,124.10 L379.02,125.02 L379.13,125.69 L379.24,126.44 L379.35,127.50 L379.46,127.87 L379.57,128.19 L379.68,128.59 L379.79,129.40 L379.90,130.49 L380.01,131.56 L380.12,132.70 L380.23,133.36 L380.34,134.30 L380.45,134.58 L380.56,134.27 L380.67,133.16 L380.78,132.62 L380.89,131.57 L381.00,131.56 M381.22,130.48 L381.33,130.08 L381.44,129.53 L381.54,128.91 L381.65,128.33 M381.87,127.67 L381.98,127.26 L382.09,126.86 L382.20,126.17 L382.31,125.93 L382.42,125.70 L382.53,125.43 L382.64,125.21 L382.75,124.29 L382.86,123.87 L382.97,123.97 L383.08,123.89 L383.19,123.83 L383.30,123.77 L383.41,123.77 L383.52,123.72 L383.63,123.51 L383.74,123.28 L383.85,122.82 L383.96,122.72 L384.07,122.29 L384.18,122.35 L384.29,122.31 L384.40,122.40 L384.51,122.37 L384.62,122.04 L384.73,121.77 L384.84,121.71 L384.95,121.69 L385.06,121.65 L385.16,121.58 L385.27,121.82 L385.38,121.83 L385.49,121.89 L385.60,121.82 L385.71,121.87 L385.82,121.76 L385.93,121.55 L386.04,121.33 L386.15,121.03 L386.26,120.93 L386.37,120.90 L386.48,120.69 L386.59,120.71 L386.70,120.49 L386.81,120.31 L386.92,119.98 L387.03,119.93 L387.14,119.84 L387.25,120.11 L387.36,120.21 L387.47,119.99 L387.58,119.81 L387.69,119.69 L387.80,119.29 L387.91,118.98 L388.02,118.86 L388.13,118.90 L388.24,119.38 L388.35,120.05 L388.46,120.91 L388.57,121.44 L388.68,121.67 L388.78,121.87 L388.89,121.69 L389.00,122.07 L389.11,122.06 L389.22,122.91 L389.33,124.11 L389.44,124.98 L389.55,126.37 L389.66,127.05 L389.77,128.18 L389.88,128.69 L389.99,129.42 L390.10,130.36 L390.21,131.37 L390.32,132.72 L390.43,133.68 L390.54,134.95 L390.65,135.21 L390.76,136.04 L390.87,137.03 L390.98,137.72 L391.09,137.66 L391.20,136.62 L391.31,135.16 L391.42,134.43 L391.53,133.55 L391.64,133.04 L391.75,132.35 L391.86,131.38 L391.97,130.62 L392.08,129.63 L392.19,128.55 L392.30,127.41 L392.41,126.38 L392.51,125.84 L392.62,125.72 L392.73,125.61 L392.84,125.16 L392.95,124.36 L393.06,123.26 L393.17,122.51 L393.28,122.05 L393.39,121.71 L393.50,121.40 L393.61,120.84 L393.72,120.35 L393.83,119.73 L393.94,118.65 L394.05,117.87 M394.38,116.97 L394.49,116.63 L394.60,116.50 L394.71,116.07 L394.82,115.52 L394.93,114.94 L395.04,114.43 L395.15,114.33 L395.26,113.83 L395.37,113.33 L395.48,112.67 L395.59,112.02 L395.70,111.81 L395.81,111.44 L395.92,111.07 L396.03,110.91 L396.13,110.67 L396.24,110.64 L396.35,110.40 L396.46,110.43 L396.57,110.11 L396.68,109.92 L396.79,109.67 L396.90,109.22 L397.01,109.05 L397.12,108.68 L397.23,108.59 L397.34,108.47 L397.45,108.31 L397.56,108.29 L397.67,108.25 L397.78,108.27 L397.89,108.75 L398.00,108.97 L398.11,109.71 L398.22,109.98 L398.33,110.04 L398.44,110.29 L398.55,110.05 L398.66,110.09 L398.77,110.55 L398.88,110.87 L398.99,111.20 L399.10,111.99 L399.21,112.68 L399.32,113.35 L399.43,113.79 L399.54,114.95 L399.65,115.96 L399.75,116.81 L399.86,117.32 L399.97,117.84 L400.08,118.60 L400.19,119.18 L400.30,120.18 L400.41,120.95 L400.52,122.07 L400.63,123.67 L400.74,124.96 L400.85,126.85 L400.96,128.52 L401.07,130.33 L401.18,132.10 L401.29,134.09 L401.40,135.58 L401.51,136.72 L401.62,137.46 L401.73,137.57 L401.84,137.45 L401.95,137.23 L402.06,137.14 L402.17,137.18 L402.28,137.20 L402.39,137.23 L402.50,137.16 L402.61,137.23 L402.72,137.16 L402.83,137.37 L402.94,137.53 L403.05,137.58 L403.16,137.56 L403.27,137.64 L403.38,137.64 L403.48,137.61 L403.59,137.44 L403.70,137.45 L403.81,137.52 M404.03,137.57 L404.14,137.61 L404.25,137.65 L404.36,137.69 L404.47,137.73 L404.58,137.74 L404.69,137.74 L404.80,137.48 L404.91,137.51 L405.02,137.12 L405.13,136.75 L405.24,135.91 L405.35,135.52 L405.46,135.05 L405.57,134.41 L405.68,134.00 M406.01,132.34 L406.12,131.85 L406.23,131.61 L406.34,131.39 L406.45,131.21 L406.56,130.82 L406.67,130.63 L406.78,130.34 L406.89,129.89 L407.00,129.64 L407.10,129.53 L407.21,129.37 L407.32,129.23 L407.43,128.79 L407.54,128.16 L407.65,127.52 L407.76,127.35 L407.87,127.01 L407.98,126.99 L408.09,126.94 L408.20,126.67 L408.31,126.62 L408.42,126.28 L408.53,126.23 L408.64,125.50 L408.75,124.87 L408.86,124.19 L408.97,123.45 L409.08,123.55 L409.19,123.17 L409.30,123.01 L409.41,122.99 L409.52,122.64 L409.63,122.55 L409.74,122.02 L409.85,121.53 L409.96,120.90 L410.07,120.07 L410.18,119.11 L410.29,118.85 L410.40,118.23 L410.51,118.30 L410.62,118.52 L410.72,118.62 L410.83,118.70 L410.94,118.31 L411.05,118.00 L411.16,117.54 L411.27,117.30 L411.38,117.18 L411.49,116.93 L411.60,116.94 L411.71,116.80 L411.82,117.02 L411.93,116.88 L412.04,117.32 L412.15,117.64 L412.26,117.72 L412.37,118.10 L412.48,118.21 L412.59,118.36 L412.70,118.48 L412.81,118.90 L412.92,119.19 L413.03,119.65 L413.14,119.92 L413.25,120.28 L413.36,120.29 L413.47,120.38 L413.58,120.33 L413.69,120.05 L413.80,119.91 L413.91,119.81 L414.02,119.50 L414.13,119.22 L414.24,119.09 L414.35,119.02 L414.45,118.85 L414.56,118.57 L414.67,118.05 L414.78,117.72 L414.89,117.14 L415.00,116.39 L415.11,116.32 L415.22,115.90 L415.33,116.17 L415.44,116.49 L415.55,116.67 L415.66,116.82 L415.77,116.41 L415.88,116.11 L415.99,115.39 L416.10,115.01 L416.21,114.63 L416.32,114.20 L416.43,114.10 L416.54,113.80 L416.65,113.78 L416.76,114.05 L416.87,114.84 L416.98,115.74 L417.09,116.54 L417.20,117.16 L417.31,117.62 L417.42,118.22 L417.53,119.03 L417.64,119.71 L417.75,120.30 L417.86,121.02 L417.97,121.71 L418.07,122.75 L418.18,123.50 L418.29,124.17 L418.40,125.25 L418.51,126.29 L418.62,127.40 L418.73,128.53 L418.84,129.37 L418.95,130.22 L419.06,131.15 L419.17,132.12 L419.28,133.42 M419.50,135.94 L419.61,136.84 L419.72,137.64 L419.83,138.01 L419.94,137.57 L420.05,136.36 L420.16,135.55 L420.27,134.73 L420.38,134.23 L420.49,133.71 L420.60,133.25 L420.71,132.28 L420.82,131.64 L420.93,130.73 L421.04,129.79 L421.15,128.97 M421.48,127.12 L421.59,126.70 L421.69,126.44 L421.80,125.88 L421.91,125.39 L422.02,124.77 L422.13,123.92 L422.24,123.35 M423.45,118.97 L423.56,118.55 L423.67,118.22 L423.78,117.50 L423.89,117.30 L424.00,116.96 L424.11,116.84 M424.33,115.80 L424.44,115.13 L424.55,114.71 L424.66,114.63 L424.77,114.75 L424.88,114.42 L424.99,114.46 L425.10,114.23 L425.21,114.14 L425.31,113.81 L425.42,113.36 L425.53,112.66 L425.64,112.40 L425.75,112.37 L425.86,111.99 L425.97,112.02 L426.08,111.43 L426.19,110.89 L426.30,110.97 L426.41,110.90 L426.52,111.09 L426.63,111.82 L426.74,112.25 L426.85,112.45 L426.96,112.54 L427.07,112.32 L427.18,112.46 L427.29,112.38 L427.40,112.36 L427.51,112.36 L427.62,112.13 L427.73,112.61 L427.84,112.77 L427.95,113.05 L428.06,113.46 L428.17,113.87 L428.28,114.13 L428.39,114.41 L428.50,114.42 L428.61,114.46 L428.72,114.74 L428.83,115.40 L428.94,116.04 L429.04,116.48 L429.15,116.83 L429.26,116.92 L429.37,117.94 L429.48,118.56 L429.59,118.92 L429.70,119.38 L429.81,119.64 L429.92,120.56 L430.03,121.05 L430.14,121.86 L430.25,122.46 L430.36,123.57 L430.47,124.30 L430.58,125.40 L430.69,125.64 L430.80,126.30 L430.91,127.03 L431.02,127.84 L431.13,128.73 L431.24,129.50 L431.35,129.96 L431.46,130.70 L431.57,132.03 L431.68,133.01 L431.79,133.81 L431.90,134.78 L432.01,134.85 L432.12,134.58 L432.23,134.12 L432.34,132.99 L432.45,132.62 L432.56,131.98 L432.66,131.01 L432.77,130.09 L432.88,129.18 L432.99,128.59 L433.10,128.25 L433.21,127.70 L433.32,127.28 L433.43,126.70 L433.54,125.90 L433.65,124.72 L433.76,124.14 L433.87,123.13 L433.98,122.77 L434.09,122.41 L434.20,121.97 L434.31,121.68 L434.42,121.20 L434.53,120.78 L434.64,120.72 L434.75,120.65 L434.86,120.00 L434.97,119.50 L435.08,118.81 L435.19,118.16 L435.30,117.96 L435.41,117.72 L435.52,117.21 L435.63,117.22 L435.74,116.93 L435.85,117.00 L435.96,116.91 L436.07,116.67 L436.18,116.72 L436.29,116.40 L436.39,116.13 L436.50,115.91 L436.61,115.74 L436.72,115.46 L436.83,115.12 L436.94,114.85 L437.05,114.58 L437.16,114.78 L437.27,115.00 L437.38,115.39 L437.49,115.50 L437.60,115.77 L437.71,115.98 L437.82,116.07 L437.93,115.90 L438.04,115.99 L438.15,115.71 L438.26,115.28 L438.37,115.15 L438.48,115.28 L438.59,115.47 L438.70,116.06 L438.81,116.51 L438.92,116.64 L439.03,116.85 L439.14,116.80 L439.25,117.03 L439.36,117.26 L439.47,117.89 L439.58,118.05 L439.69,118.37 L439.80,118.58 L439.91,118.68 L440.01,118.82 L440.12,119.21 L440.23,119.26 L440.34,119.44 L440.45,119.91 L440.56,120.13 L440.67,120.34 L440.78,120.55 L440.89,120.74 L441.00,121.08 L441.11,121.17 L441.22,120.98 L441.33,120.81 L441.44,120.72 L441.55,120.72 L441.66,120.33 L441.77,119.87 L441.88,119.39 L441.99,119.16 L442.10,118.72 L442.21,118.43 L442.32,118.27 L442.43,117.85 L442.54,117.92 L442.65,117.91 L442.76,117.73 L442.87,117.68 L442.98,117.39 L443.09,117.18 L443.20,116.61 L443.31,116.43 L443.42,116.19 L443.53,115.87 L443.63,115.74 L443.74,115.36 L443.85,115.19 L443.96,115.23 L444.07,115.43 L444.18,115.39 L444.29,115.43 L444.40,115.37 L444.51,115.45 L444.62,115.57 L444.73,115.89 L444.84,116.04 L444.95,116.16 L445.06,116.29 L445.17,116.06 L445.28,116.27 L445.39,116.18 L445.50,116.19 L445.61,116.08 L445.72,116.64 L445.83,116.71 L445.94,117.73 L446.05,118.62 L446.16,120.01 L446.27,121.08 L446.38,121.40 L446.49,122.12 L446.60,122.38 L446.71,123.12 L446.82,124.50 L446.93,125.30 L447.04,126.12 L447.15,126.83 L447.25,127.67 L447.36,128.53 L447.47,129.28 L447.58,130.35 L447.69,131.43 L447.80,132.27 L447.91,133.15 L448.02,133.72 L448.13,133.87 L448.24,134.02 M448.68,136.20 L448.79,136.48 L448.90,136.76 L449.01,137.05 L449.12,137.10 L449.23,137.20 L449.34,137.28 L449.45,137.44 L449.56,137.66 L449.67,137.71 M450.55,137.57 L450.66,137.45 L450.77,137.47 L450.88,137.51 L450.98,137.58 L451.09,137.55 L451.20,137.65 L451.31,137.68 L451.42,137.69 L451.53,137.66 L451.64,137.83 L451.75,137.78 L451.86,137.35 L451.97,136.43 L452.08,135.80 L452.19,134.86 L452.30,134.05 L452.41,133.66 L452.52,133.74 L452.63,133.72 L452.74,133.38 L452.85,132.33 L452.96,131.56 L453.07,131.00 L453.18,130.71 L453.29,129.95 L453.40,129.29 L453.51,128.42 L453.62,128.04 L453.73,127.73 L453.84,127.47 L453.95,127.22 L454.06,126.86 L454.17,126.44 L454.28,125.77 L454.39,124.97 L454.50,123.61 L454.60,122.43 L454.71,121.54 L454.82,120.63 L454.93,120.50 L455.04,120.36 L455.15,119.96 L455.26,119.94 L455.37,119.25 L455.48,118.76 L455.59,118.30 L455.70,117.58 L455.81,116.97 L455.92,116.14 L456.03,115.13 L456.14,114.39 L456.25,113.61 L456.36,113.18 L456.47,112.76 L456.58,111.93 L456.69,111.28 M457.02,109.74 L457.13,109.42 L457.24,109.24 L457.35,109.01 L457.46,108.92 L457.57,108.60 L457.68,108.34 L457.79,108.12 L457.90,107.76 L458.01,107.32 L458.12,107.12 L458.23,106.88 L458.33,106.58 L458.44,106.21 L458.55,106.18 L458.66,106.12 L458.77,105.94 L458.88,105.79 L458.99,105.66 L459.10,105.77 L459.21,105.85 L459.32,106.05 L459.43,106.17 L459.54,106.22 L459.65,106.70 L459.76,106.86 L459.87,107.16 L459.98,107.49 L460.09,107.77 L460.20,108.25 L460.31,108.45 L460.42,108.90 L460.53,108.98 L460.64,109.39 L460.75,110.26 L460.86,110.78 L460.97,111.21 L461.08,111.37 L461.19,112.16 L461.30,112.42 L461.41,112.71 L461.52,112.64 L461.63,112.58 L461.74,113.25 L461.85,113.86 L461.95,114.70 L462.06,115.29 L462.17,115.39 L462.28,114.88 L462.39,113.71 L462.50,112.80 L462.61,112.43 L462.72,111.82 L462.83,111.80 L462.94,111.36 L463.05,111.39 L463.16,111.24 L463.27,110.78 L463.38,110.41 L463.49,109.84 L463.60,109.66 L463.71,109.09 L463.82,108.94 L463.93,108.65 L464.04,108.27 L464.15,108.07 L464.26,107.74 L464.37,107.13 L464.48,106.48 L464.59,105.97 L464.70,105.80 L464.81,105.69 L464.92,105.78 L465.03,105.70 L465.14,105.59 L465.25,105.17 L465.36,104.90 L465.47,104.68 L465.57,104.64 L465.68,104.61 L465.79,104.81 L465.90,105.09 L466.01,105.22 L466.12,105.63 L466.23,105.63 L466.34,105.72 L466.45,106.17 L466.56,106.18 L466.67,106.41 L466.78,106.93 L466.89,107.14 L467.00,107.40 L467.11,107.57 L467.22,107.75 L467.33,108.16 L467.44,108.50 L467.55,109.15 L467.66,109.35 L467.77,110.12 L467.88,110.69 L467.99,110.38 L468.10,110.10 L468.21,109.54 L468.32,109.27 L468.43,108.86 L468.54,108.95 L468.65,108.98 L468.76,108.78 L468.87,108.91 L468.98,108.35 L469.09,108.10 L469.20,107.98 L469.30,107.79 L469.41,107.63 L469.52,107.32 L469.63,107.33 L469.74,107.33 L469.85,107.62 L469.96,107.86 L470.07,107.93 L470.18,107.98 L470.29,108.35 L470.40,108.67 L470.51,108.91 L470.62,109.12 L470.73,109.25 L470.84,109.30 L470.95,109.34 L471.06,109.48 L471.17,109.63 L471.28,109.84 L471.39,109.97 L471.50,110.55 L471.61,111.47 L471.72,112.34 M471.94,113.68 L472.05,114.09 L472.16,114.31 L472.27,114.53 L472.38,114.60 L472.49,114.42 L472.60,114.27 L472.71,114.46 L472.82,115.01 L472.92,115.44 L473.03,115.72 L473.14,116.10 L473.25,116.22 L473.36,116.23 L473.47,115.88 L473.58,115.66 L473.69,115.49 L473.80,115.39 L473.91,115.24 L474.02,115.12 L474.13,115.09 L474.24,115.09 L474.35,115.15 L474.46,115.30 L474.57,115.55 L474.68,115.56 L474.79,115.56 L474.90,115.09 L475.01,114.82 L475.12,114.32 L475.23,114.02 L475.34,113.81 L475.45,113.51 L475.56,113.34 L475.67,112.93 L475.78,112.79 L475.89,112.62 L476.00,112.38 L476.11,112.12 L476.22,111.91 L476.33,111.92 L476.44,111.72 L476.54,111.60 L476.65,111.37 L476.76,111.33 L476.87,111.11 L476.98,110.83 L477.09,110.55 L477.20,110.31 L477.31,110.16 L477.42,109.85 L477.53,109.57 L477.64,109.43 L477.75,109.49 L477.86,109.51 L477.97,109.53 L478.08,109.40 L478.19,109.27 L478.30,108.97 L478.41,108.63 L478.52,108.27 L478.63,107.98 L478.74,107.86 L478.85,107.75 L478.96,107.52 L479.07,107.35 L479.18,107.23 L479.29,107.24 L479.40,107.01 L479.51,106.77 L479.62,106.35 L479.73,105.98 L479.84,105.63 L479.95,105.74 L480.06,105.31 L480.16,105.16 L480.27,104.78 L480.38,104.74 L480.49,104.63 L480.60,104.52 L480.71,104.28 L480.82,104.03 L480.93,103.83 L481.04,103.70 L481.15,103.52 L481.26,103.31 L481.37,103.03 L481.48,102.88 L481.59,102.65 L481.70,102.45 L481.81,102.19 L481.92,102.10 L482.03,101.73 L482.14,101.47 L482.25,101.31 L482.36,101.36 L482.47,101.29 L482.58,101.19 L482.69,101.00 L482.80,100.82 L482.91,100.63 L483.02,100.57 L483.13,100.54 L483.24,100.40 L483.35,100.37 L483.46,100.29 L483.57,100.25 L483.68,100.18 L483.79,100.11 L483.89,99.95 L484.00,99.75 L484.11,99.55 L484.22,99.56 L484.33,99.49 L484.44,99.43 L484.55,99.50 L484.66,99.53 L484.77,99.58 L484.88,99.61 L484.99,99.53 L485.10,99.56 L485.21,99.62 L485.32,99.89 L485.43,99.98 L485.54,99.85 L485.65,99.81 L485.76,99.79 L485.87,99.82 L485.98,99.89 L486.09,99.81 L486.20,99.87 L486.31,99.84 L486.42,99.84 L486.53,99.98 L486.64,100.05 L486.75,100.49 L486.86,100.47 L486.97,100.77 L487.08,100.79 L487.19,100.84 L487.30,100.99 L487.41,101.01 L487.51,101.09 L487.62,101.14 L487.73,101.43 L487.84,101.95 L487.95,102.64 L488.06,103.09 L488.17,103.49 L488.28,103.60 L488.39,103.56 L488.50,103.27 L488.61,102.95 L488.72,102.48 L488.83,102.01 L488.94,101.47 L489.05,101.03 L489.16,100.97 L489.27,100.77 L489.38,100.58 L489.49,100.22 L489.60,99.95 L489.71,99.85 L489.82,99.83 L489.93,99.96 L490.04,99.88 L490.15,99.87 L490.26,99.88 L490.37,99.83 L490.48,99.82 L490.59,99.74 L490.70,99.58 L490.81,99.55 L490.92,99.52 L491.03,99.50 L491.13,99.35 L491.24,99.47 L491.35,99.56 L491.46,99.60 L491.57,99.53 L491.68,99.59 L491.79,99.65 L491.90,99.65 L492.01,99.61 L492.12,99.40 L492.23,99.19 L492.34,99.13 L492.45,99.24 L492.56,99.26 L492.67,99.39 L492.78,99.45 L492.89,99.61 L493.00,99.72 L493.11,99.69 L493.22,99.61 L493.33,99.58 L493.44,99.44 L493.55,99.26 L493.66,99.36 L493.77,99.33 L493.88,99.41 L493.99,99.29 L494.10,99.31 L494.21,99.25 L494.32,99.36 L494.43,99.37 L494.54,99.57 L494.65,99.59 L494.76,99.54 L494.86,99.41 L494.97,99.30 L495.08,99.18 L495.19,99.08 L495.30,99.21 L495.41,99.27 L495.52,99.47 L495.63,99.38 L495.74,99.50 L495.85,99.45 L495.96,99.52 L496.07,99.62 L496.18,99.54 L496.29,99.42 L496.40,99.42 L496.51,99.56 L496.62,99.67 L496.73,99.74 L496.84,99.70 L496.95,99.63 L497.06,99.52 L497.17,99.29 L497.28,99.32 L497.39,99.37 L497.50,99.42 L497.61,99.59 L497.72,99.65 L497.83,99.68 L497.94,99.63 L498.05,99.54 L498.16,99.54 L498.27,99.58 L498.38,99.67 L498.48,99.69 L498.59,99.64 L498.70,99.54 L498.81,99.44 L498.92,99.50 L499.03,99.45 L499.14,99.46 L499.25,99.46 L499.36,99.49 L499.47,99.57 L499.58,99.41 L499.69,99.37 L499.80,99.39 L499.91,99.44 L500.02,99.50 L500.13,99.42 L500.24,99.42 L500.35,99.50 L500.46,99.52 L500.57,99.67 L500.68,99.75 L500.79,99.82 L500.90,99.65 L501.01,99.46 L501.12,99.47 L501.23,99.34 L501.34,99.37 L501.45,99.24 L501.56,99.19 L501.67,99.14 L501.78,99.34 L501.89,99.38 L502.00,99.45 L502.11,99.45 L502.21,99.39 L502.32,99.48 L502.43,99.47 L502.54,99.45 L502.65,99.35 L502.76,99.34 L502.87,99.17 L502.98,99.30 L503.09,99.39 L503.20,99.48 L503.31,99.55 L503.42,99.56 L503.53,99.60 L503.64,99.46 L503.75,99.35 L503.86,99.37 L503.97,99.48 L504.08,99.38 L504.19,99.28 L504.30,99.31 L504.41,99.47 L504.52,99.52 L504.63,99.52 L504.74,99.57 L504.85,99.51 L504.96,99.37 L505.07,99.43 L505.18,99.37 L505.29,99.38 L505.40,99.36 L505.51,99.27 L505.62,99.34 L505.73,99.36 L505.83,99.39 L505.94,99.25 L506.05,99.19 L506.16,99.29 L506.27,99.39 L506.38,99.36 L506.49,99.34 L506.60,99.28 L506.71,99.15 L506.82,99.22 L506.93,99.21 L507.04,99.40 L507.15,99.34 L507.26,99.34 L507.37,99.41 L507.48,99.31 L507.59,99.36 L507.70,99.23 L507.81,99.27 L507.92,99.23 L508.03,99.30 L508.14,99.32 L508.25,99.54 L508.36,99.50 L508.47,99.63 L508.58,99.55 L508.69,99.21 L508.80,99.10 L508.91,99.09 L509.02,99.08 L509.13,99.13 L509.24,99.24 L509.35,99.40 L509.45,99.51 L509.56,99.50 L509.67,99.53 L509.78,99.48 L509.89,99.66 L510.00,99.75 L510.11,99.70 L510.22,99.62 L510.33,99.47 L510.44,99.36 L510.55,99.31 L510.66,99.27 L510.77,99.39 L510.88,99.49 L510.99,99.64 L511.10,99.70 L511.21,99.61 L511.32,99.77 L511.43,99.75 L511.54,99.75 L511.65,99.58 L511.76,99.51 L511.87,99.53 L511.98,99.63 L512.09,99.54 L512.20,99.52 L512.31,99.53 L512.42,99.67 L512.53,99.81 L512.64,99.81 L512.75,99.76 L512.86,99.84 L512.97,100.14 L513.08,100.71 L513.18,101.07 L513.29,101.47 L513.40,101.78 L513.51,102.15 L513.62,102.78 L513.73,103.22 L513.84,103.98 L513.95,104.25 L514.06,104.77 L514.17,105.11 L514.28,105.85 L514.39,106.80 L514.50,107.79 L514.61,108.56 L514.72,109.36 L514.83,109.93 L514.94,110.90 L515.05,111.56 L515.16,112.47 L515.27,113.40 L515.38,114.49 L515.49,115.39 L515.60,116.23 L515.71,117.06 L515.82,118.23 L515.93,119.17 L516.04,120.42 L516.15,121.42 L516.26,122.23 L516.37,122.91 L516.48,123.79 L516.59,124.98 L516.70,126.29 L516.80,127.24 L516.91,128.44 L517.02,129.32 L517.13,130.20 L517.24,130.99 L517.35,131.74 L517.46,132.65 L517.57,133.43 L517.68,134.14 L517.79,135.28 L517.90,136.19 L518.01,137.06 L518.12,137.55 L518.23,137.87 L518.34,137.98" fill="none" stroke="#ff0000" stroke-width="0.75" stroke-linejoin="round" stroke-linecap="round"/>
<path d="M321.10,137.41 L321.32,136.42 L321.54,135.24 L321.76,134.07 L321.98,132.95 L322.20,131.85 L322.42,130.74 L322.64,129.70 L322.86,128.97 L323.07,128.30 L323.29,127.64 L323.51,127.13 L323.73,127.27 L323.95,127.56 L324.17,128.00 L324.39,129.00 L324.61,130.14 L324.83,131.28 L325.05,132.35 L325.27,133.36 L325.49,134.38 L325.71,135.29 L325.93,135.83 L326.15,136.28 L326.37,136.50 L326.59,135.83 L326.80,134.95 L327.02,133.74 L327.24,131.23 L327.46,128.39 L327.68,126.40 L327.90,125.26 L328.12,124.12 L328.34,123.03 L328.56,122.10 L328.78,121.21 L329.00,120.33 L329.22,119.61 L329.44,119.07 L329.66,118.52 L329.88,117.97 L330.10,117.43 L330.31,116.88 L330.53,116.39 L330.75,116.08 L330.97,115.82 L331.19,115.56 L331.41,115.30 L331.63,115.05 L331.85,114.82 L332.07,114.74 L332.29,114.69 L332.51,114.64 L332.73,114.59 L332.95,114.69 L333.17,114.95 L333.39,115.20 L333.61,115.56 L333.83,116.34 L334.04,117.22 L334.26,118.22 L334.48,119.66 L334.70,121.51 L334.92,124.54 L335.14,127.76 L335.36,130.60 L335.58,133.35 L335.80,135.01 L336.02,135.58 L336.24,136.15 L336.46,136.49 L336.68,135.75 L336.90,134.80 L337.12,134.12 L337.34,133.89 L337.56,133.60 L337.77,133.13 L337.99,133.05 L338.21,133.28 L338.43,132.80 L338.65,132.56 L338.87,132.88 L339.09,132.46 L339.31,131.92 L339.53,131.98 L339.75,131.99 L339.97,131.39 L340.19,130.95 L340.41,130.80 L340.63,129.95 L340.85,128.61 L341.07,128.03 L341.28,129.01 L341.50,130.44 L341.72,131.32 L341.94,132.05 L342.16,133.49 L342.38,134.80 L342.60,135.45 L342.82,136.16 L343.04,136.61 L343.26,136.68 L343.48,136.73 L343.70,136.84 L343.92,136.93 L344.14,137.06 L344.36,137.11 L344.58,137.12 L344.80,137.07 L345.01,136.95 L345.23,136.93 L345.45,136.72 L345.67,136.51 L345.89,136.46 L346.11,136.29 L346.33,135.91 L346.55,135.02 L346.77,134.12 L346.99,133.52 L347.21,133.08 L347.43,132.13 L347.65,130.68 L347.87,129.89 L348.09,129.08 L348.31,128.12 L348.53,126.78 L348.74,125.61 L348.96,125.65 L349.18,126.26 L349.40,126.56 L349.62,126.85 L349.84,127.57 L350.06,128.77 L350.28,131.14 L350.50,133.33 L350.72,134.71 L350.94,135.98 L351.16,136.86 L351.38,137.07 L351.60,137.13 L351.82,137.15 L352.04,137.16 L352.25,137.16 L352.47,137.19 L352.69,137.29 L352.91,137.36 L353.13,137.35 L353.35,137.20 L353.57,136.95 L353.79,136.68 L354.01,136.46 L354.23,136.15 L354.45,135.87 L354.67,135.58 L354.89,134.14 L355.11,132.50 L355.33,131.47 L355.55,130.27 L355.77,128.81 L355.98,127.45 L356.20,126.63 L356.42,127.60 L356.64,128.68 L356.86,129.22 L357.08,130.57 L357.30,132.83 L357.52,134.36 L357.74,135.72 L357.96,135.32 L358.18,134.02 L358.40,132.70 L358.62,131.56 L358.84,130.26 L359.06,129.22 L359.28,128.29 L359.50,127.39 L359.71,126.24 L359.93,125.04 L360.15,124.12 L360.37,123.08 L360.59,122.59 L360.81,122.16 L361.03,121.24 L361.25,121.73 L361.47,122.44 L361.69,124.01 L361.91,125.99 L362.13,127.28 L362.35,128.03 L362.57,128.39 L362.79,127.85 L363.01,126.89 L363.22,125.87 L363.44,125.18 L363.66,123.87 L363.88,122.46 L364.10,121.49 L364.32,120.70 L364.54,119.61 L364.76,118.36 L364.98,117.56 L365.20,118.05 L365.42,119.27 L365.64,120.77 L365.86,122.08 L366.08,123.17 L366.30,124.07 L366.52,124.62 L366.74,126.04 L366.95,127.36 L367.17,127.25 L367.39,126.66 L367.61,126.26 L367.83,125.49 L368.05,124.53 L368.27,123.41 L368.49,122.78 L368.71,122.13 L368.93,121.61 L369.15,123.64 L369.37,125.64 L369.59,127.28 L369.81,129.00 L370.03,130.95 L370.25,132.85 L370.47,134.69 L370.68,136.13 L370.90,135.30 L371.12,133.60 L371.34,131.81 L371.56,130.48 L371.78,129.23 L372.00,127.75 L372.22,126.34 L372.44,125.59 L372.66,124.66 L372.88,123.53 L373.10,122.53 L373.32,121.29 L373.54,119.97 L373.76,118.95 L373.98,119.11 L374.19,120.40 L374.41,121.85 L374.63,123.47 L374.85,124.91 L375.07,126.45 L375.29,127.87 L375.51,127.17 L375.73,126.12 L375.95,125.35 L376.17,125.03 L376.39,124.67 L376.61,123.61 L376.83,123.07 L377.05,122.77 L377.27,121.57 L377.49,120.59 L377.71,120.39 L377.92,119.93 L378.14,120.31 L378.36,121.35 L378.58,122.46 L378.80,123.77 L379.02,125.26 L379.24,126.83 L379.46,127.85 L379.68,129.19 L379.90,130.53 L380.12,132.01 L380.34,133.24 L380.56,132.33 L380.78,131.16 L381.00,130.63 L381.22,129.71 L381.44,128.55 L381.65,127.88 L381.87,126.87 L382.09,125.88 L382.31,125.46 L382.53,124.83 L382.75,123.93 L382.97,123.60 L383.19,123.43 L383.41,123.23 L383.63,122.97 L383.85,122.50 L384.07,122.16 L384.29,121.98 L384.51,121.79 L384.73,121.40 L384.95,121.28 L385.16,121.49 L385.38,121.47 L385.60,121.50 L385.82,120.97 L386.04,120.68 L386.26,120.49 L386.48,120.29 L386.70,120.01 L386.92,119.86 L387.14,119.76 L387.36,119.55 L387.58,119.56 L387.80,119.04 L388.02,118.94 L388.24,119.79 L388.46,120.92 L388.68,121.52 L388.89,122.14 L389.11,123.15 L389.33,124.99 L389.55,126.91 L389.77,128.53 L389.99,129.93 L390.21,131.91 L390.43,133.42 L390.65,134.75 L390.87,136.14 L391.09,135.23 L391.31,133.80 L391.53,132.14 L391.75,130.77 L391.97,129.23 L392.19,127.38 L392.41,125.77 L392.62,125.00 L392.84,124.06 L393.06,122.60 L393.28,121.38 L393.50,120.41 L393.72,119.48 L393.94,117.99 L394.16,116.67 L394.38,116.10 L394.60,115.43 L394.82,114.48 L395.04,113.87 L395.26,112.83 L395.48,111.75 L395.70,111.42 L395.92,110.76 L396.13,110.37 L396.35,110.03 L396.57,109.53 L396.79,109.03 L397.01,108.58 L397.23,108.42 L397.45,108.31 L397.67,108.01 L397.89,108.43 L398.11,109.53 L398.33,110.00 L398.55,110.32 L398.77,111.05 L398.99,111.97 L399.21,113.27 L399.43,114.72 L399.65,116.32 L399.86,118.01 L400.08,119.05 L400.30,120.79 L400.52,123.50 L400.74,126.59 L400.96,129.68 L401.18,132.66 L401.40,135.38 L401.62,136.47 L401.84,136.61 L402.06,136.75 L402.28,136.86 L402.50,136.91 L402.72,137.02 L402.94,137.10 L403.16,137.13 L403.38,137.14 L403.59,137.14 L403.81,137.18 L404.03,137.20 L404.25,137.16 L404.47,137.13 L404.69,137.01 L404.91,136.37 L405.13,135.42 L405.35,134.47 L405.57,133.75 L405.79,132.93 L406.01,131.78 L406.23,131.15 L406.45,130.72 L406.67,130.03 L406.89,129.55 L407.10,128.86 L407.32,128.20 L407.54,127.31 L407.76,126.71 L407.98,126.26 L408.20,125.93 L408.42,125.78 L408.64,124.56 L408.86,123.29 L409.08,122.84 L409.30,122.41 L409.52,121.76 L409.74,121.03 L409.96,119.97 L410.18,118.80 L410.40,118.25 L410.62,118.12 L410.83,117.75 L411.05,117.34 L411.27,117.13 L411.49,116.87 L411.71,116.96 L411.93,117.07 L412.15,117.45 L412.37,117.94 L412.59,118.06 L412.81,118.78 L413.03,119.27 L413.25,119.60 L413.47,120.06 L413.69,119.57 L413.91,119.04 L414.13,118.80 L414.35,118.26 L414.56,117.68 L414.78,117.17 L415.00,116.27 L415.22,115.75 L415.44,116.05 L415.66,115.80 L415.88,115.09 L416.10,114.64 L416.32,114.30 L416.54,113.90 L416.76,114.50 L416.98,116.06 L417.20,117.49 L417.42,118.80 L417.64,119.90 L417.86,121.39 L418.07,123.24 L418.29,125.06 L418.51,126.85 L418.73,128.42 L418.95,130.35 L419.17,132.30 L419.39,134.14 L419.61,136.09 L419.83,136.40 L420.05,135.10 L420.27,133.60 L420.49,132.52 L420.71,131.27 L420.93,129.51 L421.15,128.15 L421.37,127.10 L421.59,125.96 L421.80,124.94 L422.02,123.78 L422.24,122.96 L422.46,122.04 L422.68,121.11 L422.90,120.55 L423.12,119.55 L423.34,118.68 L423.56,117.81 L423.78,117.04 L424.00,116.63 L424.22,115.55 L424.44,114.61 L424.66,114.26 L424.88,113.87 L425.10,113.67 L425.31,112.97 L425.53,112.24 L425.75,111.81 L425.97,111.37 L426.19,111.05 L426.41,111.05 L426.63,111.71 L426.85,112.00 L427.07,112.10 L427.29,112.08 L427.51,112.22 L427.73,112.55 L427.95,112.93 L428.17,113.76 L428.39,114.29 L428.61,114.86 L428.83,115.69 L429.04,116.64 L429.26,117.82 L429.48,118.60 L429.70,119.45 L429.92,120.77 L430.14,122.28 L430.36,123.87 L430.58,125.24 L430.80,126.65 L431.02,127.99 L431.24,129.54 L431.46,131.18 L431.68,132.61 L431.90,133.81 L432.12,133.03 L432.34,131.96 L432.56,130.51 L432.77,129.12 L432.99,127.87 L433.21,126.40 L433.43,125.27 L433.65,123.94 L433.87,122.50 L434.09,121.69 L434.31,120.73 L434.53,120.09 L434.75,119.53 L434.97,118.63 L435.19,117.93 L435.41,117.19 L435.63,116.74 L435.85,116.47 L436.07,116.21 L436.29,115.81 L436.50,115.57 L436.72,115.01 L436.94,114.64 L437.16,114.83 L437.38,115.14 L437.60,115.41 L437.82,115.59 L438.04,115.54 L438.26,115.18 L438.48,115.51 L438.70,116.18 L438.92,116.38 L439.14,116.70 L439.36,117.58 L439.58,118.00 L439.80,118.42 L440.01,118.87 L440.23,119.04 L440.45,119.43 L440.67,120.07 L440.89,120.35 L441.11,120.21 L441.33,120.29 L441.55,119.67 L441.77,118.85 L441.99,118.24 L442.21,117.99 L442.43,117.63 L442.65,117.41 L442.87,117.06 L443.09,116.34 L443.31,116.07 L443.53,115.59 L443.74,115.12 L443.96,115.25 L444.18,115.12 L444.40,115.27 L444.62,115.66 L444.84,115.79 L445.06,115.95 L445.28,116.25 L445.50,116.50 L445.72,117.37 L445.94,118.97 L446.16,120.76 L446.38,121.81 L446.60,122.51 L446.82,124.56 L447.04,126.55 L447.25,127.90 L447.47,129.63 L447.69,131.70 L447.91,132.97 L448.13,133.33 L448.35,134.42 L448.57,135.57 L448.79,136.30 L449.01,136.61 L449.23,136.94 L449.45,137.15 L449.67,137.30 L449.89,137.30 L450.11,137.27 L450.33,137.24 L450.55,137.18 L450.77,137.16 L450.98,137.10 L451.20,137.04 L451.42,136.95 L451.64,136.75 L451.86,135.97 L452.08,134.63 L452.30,133.34 L452.52,132.75 L452.74,131.73 L452.96,130.93 L453.18,129.52 L453.40,128.30 L453.62,127.69 L453.84,126.64 L454.06,125.63 L454.28,124.38 L454.50,122.40 L454.71,120.64 L454.93,120.04 L455.15,119.22 L455.37,118.01 L455.59,116.97 L455.81,115.76 L456.03,114.31 L456.25,112.98 L456.47,111.65 L456.69,110.61 L456.91,109.75 L457.13,109.08 L457.35,108.59 L457.57,108.01 L457.79,107.49 L458.01,106.85 L458.23,106.50 L458.44,106.25 L458.66,105.61 L458.88,105.40 L459.10,105.78 L459.32,106.05 L459.54,106.44 L459.76,107.00 L459.98,107.45 L460.20,108.16 L460.42,109.03 L460.64,109.81 L460.86,110.62 L461.08,111.79 L461.30,112.27 L461.52,112.48 L461.74,113.28 L461.95,114.21 L462.17,113.91 L462.39,112.73 L462.61,111.58 L462.83,111.02 L463.05,110.68 L463.27,109.98 L463.49,109.18 L463.71,108.43 L463.93,107.85 L464.15,107.37 L464.37,106.33 L464.59,105.69 L464.81,105.49 L465.03,105.13 L465.25,104.84 L465.47,104.62 L465.68,104.68 L465.90,104.94 L466.12,105.41 L466.34,105.91 L466.56,106.11 L466.78,106.80 L467.00,107.31 L467.22,107.76 L467.44,108.45 L467.66,109.32 L467.88,109.67 L468.10,109.06 L468.32,108.54 L468.54,108.69 L468.76,108.29 L468.98,107.80 L469.20,107.63 L469.41,107.14 L469.63,107.24 L469.85,107.53 L470.07,107.78 L470.29,108.29 L470.51,108.66 L470.73,109.00 L470.95,109.24 L471.17,109.55 L471.39,110.47 L471.61,111.65 L471.83,112.72 L472.05,113.68 L472.27,114.13 L472.49,114.07 L472.71,114.57 L472.92,115.12 L473.14,115.53 L473.36,115.49 L473.58,115.27 L473.80,115.04 L474.02,114.81 L474.24,114.80 L474.46,114.99 L474.68,114.81 L474.90,114.32 L475.12,113.80 L475.34,113.29 L475.56,112.81 L475.78,112.34 L476.00,111.90 L476.22,111.55 L476.44,111.22 L476.65,110.87 L476.87,110.47 L477.09,110.06 L477.31,109.65 L477.53,109.29 L477.75,109.08 L477.97,108.90 L478.19,108.59 L478.41,108.14 L478.63,107.70 L478.85,107.26 L479.07,106.81 L479.29,106.47 L479.51,105.92 L479.73,105.43 L479.95,105.04 L480.16,104.60 L480.38,104.30 L480.60,103.93 L480.82,103.55 L481.04,103.16 L481.26,102.68 L481.48,102.22 L481.70,101.88 L481.92,101.49 L482.14,101.07 L482.36,100.81 L482.58,100.62 L482.80,100.42 L483.02,100.21 L483.24,100.06 L483.46,100.04 L483.68,99.83 L483.89,99.58 L484.11,99.39 L484.33,99.17 L484.55,99.27 L484.77,99.29 L484.99,99.36 L485.21,99.54 L485.43,99.48 L485.65,99.51 L485.87,99.56 L486.09,99.59 L486.31,99.66 L486.53,99.83 L486.75,100.10 L486.97,100.42 L487.19,100.67 L487.41,100.95 L487.62,101.39 L487.84,102.03 L488.06,102.71 L488.28,102.80 L488.50,102.33 L488.72,101.59 L488.94,100.82 L489.16,100.43 L489.38,99.94 L489.60,99.64 L489.82,99.63 L490.04,99.50 L490.26,99.46 L490.48,99.43 L490.70,99.25 L490.92,99.20 L491.13,99.20 L491.35,99.24 L491.57,99.26 L491.79,99.32 L492.01,99.17 L492.23,98.99 L492.45,98.99 L492.67,99.12 L492.89,99.24 L493.11,99.13 L493.33,99.11 L493.55,99.05 L493.77,98.98 L493.99,98.95 L494.21,98.98 L494.43,99.23 L494.65,99.24 L494.86,98.99 L495.08,98.94 L495.30,98.97 L495.52,98.98 L495.74,99.18 L495.96,99.22 L496.18,99.12 L496.40,99.25 L496.62,99.32 L496.84,99.20 L497.06,99.04 L497.28,99.11 L497.50,99.28 L497.72,99.25 L497.94,99.21 L498.16,99.23 L498.38,99.20 L498.59,99.19 L498.81,99.24 L499.03,99.20 L499.25,99.18 L499.47,99.20 L499.69,99.19 L499.91,99.15 L500.13,99.09 L500.35,99.19 L500.57,99.29 L500.79,99.23 L501.01,99.18 L501.23,99.02 L501.45,99.01 L501.67,99.06 L501.89,99.03 L502.11,99.03 L502.32,99.07 L502.54,99.02 L502.76,98.93 L502.98,99.00 L503.20,99.11 L503.42,99.10 L503.64,99.04 L503.86,99.08 L504.08,99.02 L504.30,99.08 L504.52,99.12 L504.74,99.05 L504.96,99.01 L505.18,98.92 L505.40,99.00 L505.62,99.07 L505.83,98.97 L506.05,98.98 L506.27,98.99 L506.49,99.00 L506.71,99.00 L506.93,98.94 L507.15,98.98 L507.37,99.03 L507.59,98.99 L507.81,98.97 L508.03,99.00 L508.25,99.11 L508.47,99.10 L508.69,98.86 L508.91,98.88 L509.13,98.98 L509.35,99.02 L509.56,99.14 L509.78,99.22 L510.00,99.26 L510.22,99.15 L510.44,99.05 L510.66,99.06 L510.88,99.11 L511.10,99.21 L511.32,99.36 L511.54,99.27 L511.76,99.25 L511.98,99.25 L512.20,99.31 L512.42,99.46 L512.64,99.64 L512.86,100.11 L513.08,100.89 L513.29,101.75 L513.51,102.69 L513.73,103.64 L513.95,104.63 L514.17,105.98 L514.39,107.52 L514.61,109.06 L514.83,110.60 L515.05,112.24 L515.27,114.10 L515.49,116.01 L515.71,117.92 L515.93,119.83 L516.15,121.77 L516.37,123.74 L516.59,125.70 L516.80,127.67 L517.02,129.57 L517.24,131.24 L517.46,132.86 L517.68,134.47 L517.90,136.09 L518.12,137.04 L518.34,137.32 L518.56,137.56" fill="none" stroke="#1a1a1a" stroke-width="0.60" stroke-linejoin="round"/>
</g>
<rect x="321.10" y="93.30" width="219.40" height="45.90" fill="none" stroke="#777" stroke-width="0.6"/>
<text x="321.10" y="147.20" class="tl" text-anchor="middle">0</text>
<text x="343.04" y="147.20" class="tl" text-anchor="middle">200</text>
<text x="364.98" y="147.20" class="tl" text-anchor="middle">400</text>
<text x="386.92" y="147.20" class="tl" text-anchor="middle">600</text>
<text x="408.86" y="147.20" class="tl" text-anchor="middle">800</text>
<text x="430.80" y="147.20" class="tl" text-anchor="middle">1000</text>
<text x="452.74" y="147.20" class="tl" text-anchor="middle">1200</text>
<text x="474.68" y="147.20" class="tl" text-anchor="middle">1400</text>
<text x="496.62" y="147.20" class="tl" text-anchor="middle">1600</text>
<text x="518.56" y="147.20" class="tl" text-anchor="middle">1800</text>
<text x="540.50" y="147.20" class="tl" text-anchor="middle">2000</text>
<text x="319.50" y="139.91" class="tl" text-anchor="end">0</text>
<text x="319.50" y="117.75" class="tl" text-anchor="end">50</text>
<text x="319.50" y="95.60" class="tl" text-anchor="end">100</text>
<path d="M321.10,139.20 v-2.0 M321.10,93.30 v2.0 M343.04,139.20 v-2.0 M343.04,93.30 v2.0 M364.98,139.20 v-2.0 M364.98,93.30 v2.0 M386.92,139.20 v-2.0 M386.92,93.30 v2.0 M408.86,139.20 v-2.0 M408.86,93.30 v2.0 M430.80,139.20 v-2.0 M430.80,93.30 v2.0 M452.74,139.20 v-2.0 M452.74,93.30 v2.0 M474.68,139.20 v-2.0 M474.68,93.30 v2.0 M496.62,139.20 v-2.0 M496.62,93.30 v2.0 M518.56,139.20 v-2.0 M518.56,93.30 v2.0 M540.50,139.20 v-2.0 M540.50,93.30 v2.0 M321.10,137.61 h2.0 M540.50,137.61 h-2.0 M321.10,115.45 h2.0 M540.50,115.45 h-2.0 M321.10,93.30 h2.0 M540.50,93.30 h-2.0" stroke="#777" stroke-width="0.6" fill="none"/>
<clipPath id="clip_b3"><rect x="321.10" y="157.20" width="219.40" height="46.20"/></clipPath>
<g clip-path="url(#clip_b3)">
<path d="M321.10,188.22 L321.21,192.61 L321.32,197.88 L321.43,199.74 L321.54,199.04 M321.87,197.68 L321.98,196.49 L322.09,195.61 L322.20,195.65 L322.31,195.93 M322.64,193.63 L322.75,193.81 L322.86,193.85 L322.96,193.09 L323.07,192.96 M324.61,194.26 L324.72,195.29 L324.83,195.99 L324.94,196.53 L325.05,197.32 L325.16,197.64 L325.27,198.25 L325.38,197.93 L325.49,198.26 L325.60,199.12 L325.71,199.92 L325.82,201.09 L325.93,200.52 L326.04,201.00 L326.15,200.83 L326.26,201.05 L326.37,201.06 L326.48,200.68 L326.59,200.64 L326.69,199.74 L326.80,200.46 L326.91,199.50 L327.02,199.65 L327.13,196.91 L327.24,194.62 L327.35,190.49 L327.46,189.60 L327.57,188.37 L327.68,188.65 L327.79,188.92 L327.90,188.94 L328.01,188.24 M329.22,183.90 L329.33,183.73 L329.44,184.04 L329.55,183.36 L329.66,182.86 L329.77,182.53 L329.88,182.78 L329.99,182.31 L330.10,181.99 M339.20,196.89 L339.31,196.39 L339.42,196.56 L339.53,196.18 L339.64,195.74 L339.75,195.26 L339.86,195.59 L339.97,195.15 L340.08,195.29 L340.19,195.80 L340.30,196.41 L340.41,195.21 L340.52,194.83 L340.63,193.80 L340.74,193.27 L340.85,191.36 L340.96,189.38 L341.07,189.74 L341.18,191.52 L341.28,191.76 L341.39,193.20 L341.50,193.79 L341.61,195.61 L341.72,195.41 L341.83,195.10 L341.94,195.29 L342.05,196.65 L342.16,197.54 L342.27,198.31 L342.38,197.73 L342.49,198.28 L342.60,199.47 L342.71,201.24 L342.82,200.80 L342.93,200.61 L343.04,200.90 M346.00,200.75 L346.11,200.62 L346.22,201.49 L346.33,201.34 L346.44,199.75 L346.55,199.25 L346.66,199.58 L346.77,199.17 L346.88,197.92 L346.99,197.39 M347.32,197.16 L347.43,196.00 L347.54,194.58 L347.65,193.68 L347.76,193.97 L347.87,194.26 L347.98,194.77 L348.09,193.94 L348.20,192.63 L348.31,192.37 L348.42,192.93 L348.53,192.16 L348.63,191.29 L348.74,189.58 L348.85,189.74 L348.96,189.53 L349.07,189.52 L349.18,189.44 L349.29,189.13 L349.40,189.02 L349.51,189.36 L349.62,189.79 L349.73,190.64 L349.84,191.07 L349.95,191.46 L350.06,192.05 L350.17,192.97 L350.28,194.73 L350.39,197.10 L350.50,198.27 L350.61,198.96 L350.72,198.68 L350.83,200.08 L350.94,200.17 L351.05,200.68 M355.98,191.11 L356.09,190.32 L356.20,190.00 L356.31,190.11 L356.42,191.01 L356.53,191.59 L356.64,192.24 L356.75,192.48 M357.19,195.58 L357.30,197.33 L357.41,198.39 L357.52,199.40 L357.63,200.08 L357.74,200.77 L357.85,200.75 L357.96,200.07 L358.07,198.90 L358.18,197.19 L358.29,196.99 L358.40,195.39 L358.51,194.64 L358.62,195.38 L358.73,195.06 L358.84,194.95 L358.95,194.72 L359.06,194.01 L359.17,193.58 L359.28,193.40 L359.39,192.48 L359.50,191.84 L359.60,191.20 M360.92,185.47 L361.03,185.12 L361.14,184.87 L361.25,185.88 L361.36,187.30 L361.47,188.55 L361.58,188.10 L361.69,186.75 L361.80,187.88 L361.91,189.23 L362.02,190.71 L362.13,192.56 L362.24,192.66 L362.35,193.34 L362.46,192.85 L362.57,192.98 M362.90,191.28 L363.01,191.10 L363.12,191.42 L363.22,191.05 L363.33,189.50 L363.44,188.79 L363.55,187.22 L363.66,186.94 L363.77,185.43 L363.88,185.35 L363.99,185.82 L364.10,185.47 M364.65,182.95 L364.76,182.57 L364.87,180.94 L364.98,181.00 L365.09,181.16 L365.20,181.62 L365.31,181.67 L365.42,181.38 L365.53,182.72 L365.64,184.52 L365.75,185.56 L365.86,186.31 L365.97,186.23 L366.08,186.02 L366.19,186.74 L366.30,187.79 L366.41,188.47 L366.52,188.46 L366.63,188.25 L366.74,189.31 L366.84,190.95 L366.95,191.77 M367.17,190.81 L367.28,191.59 L367.39,191.41 L367.50,191.61 L367.61,190.79 L367.72,190.79 L367.83,189.87 L367.94,189.34 L368.05,187.97 L368.16,188.31 L368.27,187.78 L368.38,186.86 L368.49,186.70 L368.60,185.90 L368.71,185.58 L368.82,185.18 L368.93,184.92 L369.04,185.93 L369.15,186.70 L369.26,187.92 L369.37,189.21 L369.48,190.06 M370.25,197.03 L370.36,198.06 L370.47,199.59 L370.57,200.80 L370.68,201.41 L370.79,201.06 L370.90,200.53 L371.01,199.14 L371.12,198.02 L371.23,196.66 M373.43,184.56 L373.54,183.78 L373.65,182.80 L373.76,182.47 L373.87,182.07 L373.98,182.66 L374.09,183.09 L374.19,183.90 L374.30,184.94 L374.41,185.37 L374.52,186.14 L374.63,187.51 L374.74,188.83 L374.85,189.98 L374.96,190.21 L375.07,189.99 M375.95,189.78 L376.06,189.59 L376.17,189.87 L376.28,189.73 L376.39,189.52 L376.50,188.19 L376.61,187.72 M377.49,184.48 L377.60,184.74 L377.71,185.99 L377.81,184.55 L377.92,183.62 L378.03,183.42 L378.14,184.46 L378.25,185.03 L378.36,186.74 L378.47,186.75 L378.58,187.02 L378.69,187.83 L378.80,188.62 L378.91,189.72 L379.02,189.71 L379.13,190.11 M380.01,195.80 L380.12,196.59 L380.23,197.81 L380.34,198.26 L380.45,197.90 L380.56,197.04 L380.67,196.32 L380.78,195.41 M386.48,184.48 L386.59,184.34 L386.70,183.46 L386.81,182.37 L386.92,183.47 L387.03,182.86 L387.14,184.57 L387.25,184.61 L387.36,185.40 L387.47,185.23 L387.58,184.84 L387.69,184.42 L387.80,182.90 L387.91,181.67 L388.02,182.09 L388.13,182.48 L388.24,184.23 L388.35,183.44 L388.46,182.61 L388.57,182.31 L388.68,182.51 L388.78,184.26 L388.89,187.37 L389.00,187.30 L389.11,188.99 L389.22,187.65 L389.33,189.41 L389.44,188.86 L389.55,188.01 L389.66,187.95 L389.77,188.64 L389.88,191.43 L389.99,192.59 L390.10,194.00 L390.21,196.15 L390.32,195.43 L390.43,197.86 L390.54,198.60 L390.65,199.95 L390.76,198.41 L390.87,198.72 L390.98,200.19 L391.09,198.49 L391.20,196.61 L391.31,197.03 L391.42,199.39 L391.53,196.76 L391.64,194.25 L391.75,192.39 L391.86,192.39 L391.97,191.49 L392.08,191.25 L392.19,191.89 L392.30,191.04 L392.41,190.63 L392.51,189.79 L392.62,188.77 L392.73,187.61 L392.84,187.19 L392.95,187.06 L393.06,186.47 M393.72,183.40 L393.83,182.83 L393.94,182.98 L394.05,182.14 L394.16,180.84 L394.27,180.46 M396.24,174.43 L396.35,174.71 L396.46,174.68 L396.57,175.05 L396.68,174.20 L396.79,173.69 M397.78,172.63 L397.89,172.72 L398.00,172.65 L398.11,173.45 L398.22,173.40 M398.55,174.31 L398.66,175.16 L398.77,176.27 L398.88,176.18 L398.99,176.20 M399.32,178.43 L399.43,178.89 L399.54,178.63 L399.65,179.12 L399.75,181.42 L399.86,182.34 L399.97,182.75 L400.08,182.52 L400.19,182.82 L400.30,183.29 L400.41,184.99 L400.52,187.58 L400.63,188.90 L400.74,190.29 L400.85,191.50 L400.96,193.65 L401.07,195.76 L401.18,197.54 L401.29,198.95 L401.40,199.83 L401.51,200.99 L401.62,201.32 L401.73,201.27 L401.84,201.07 L401.95,200.78 M408.31,189.73 L408.42,189.85 L408.53,189.89 L408.64,189.14 L408.75,188.37 L408.86,187.20 L408.97,186.93 L409.08,185.54 L409.19,185.56 L409.30,185.57 L409.41,185.90 L409.52,185.07 L409.63,185.29 L409.74,184.48 L409.85,184.11 L409.96,183.14 L410.07,182.82 L410.18,182.69 L410.29,181.74 L410.40,181.21 L410.51,180.86 L410.62,180.94 L410.72,180.96 L410.83,181.89 L410.94,181.20 L411.05,181.09 L411.16,181.08 L411.27,181.79 L411.38,182.05 L411.49,181.51 L411.60,180.08 L411.71,179.75 L411.82,180.05 L411.93,181.39 L412.04,182.06 M412.26,181.77 L412.37,181.58 L412.48,181.43 L412.59,181.93 L412.70,183.91 L412.81,184.55 L412.92,185.51 L413.03,184.85 L413.14,184.74 L413.25,184.77 L413.36,184.94 L413.47,185.76 L413.58,183.09 L413.69,182.42 L413.80,183.47 L413.91,183.97 L414.02,183.73 L414.13,182.67 L414.24,182.87 L414.35,182.61 L414.45,182.03 L414.56,181.09 L414.67,181.79 L414.78,181.78 L414.89,181.92 L415.00,181.86 L415.11,181.12 L415.22,181.07 L415.33,180.97 L415.44,180.00 L415.55,179.59 L415.66,179.53 L415.77,181.26 L415.88,181.11 L415.99,180.56 L416.10,180.25 L416.21,179.06 L416.32,178.62 L416.43,177.72 L416.54,176.97 L416.65,176.87 L416.76,177.23 L416.87,179.13 L416.98,180.04 M417.42,182.88 L417.53,183.40 L417.64,184.78 L417.75,185.63 L417.86,185.96 L417.97,186.54 M418.73,192.80 L418.84,193.58 L418.95,195.06 L419.06,195.91 L419.17,196.98 L419.28,197.81 L419.39,198.25 L419.50,199.56 L419.61,200.85 L419.72,201.49 L419.83,201.49 L419.94,200.43 L420.05,199.46 L420.16,198.20 M421.04,192.58 L421.15,192.05 L421.26,192.42 L421.37,191.52 L421.48,190.87 L421.59,190.27 L421.69,190.66 L421.80,190.36 L421.91,188.79 L422.02,187.20 L422.13,186.96 L422.24,186.62 L422.35,185.60 L422.46,185.25 L422.57,186.86 L422.68,186.56 L422.79,186.11 L422.90,184.61 L423.01,184.89 L423.12,183.52 L423.23,182.29 L423.34,181.00 L423.45,181.40 L423.56,181.43 L423.67,181.09 M424.11,179.71 L424.22,179.72 L424.33,178.67 L424.44,177.65 L424.55,176.46 L424.66,176.91 L424.77,177.65 L424.88,178.67 L424.99,178.87 L425.10,177.67 L425.21,177.70 L425.31,177.21 L425.42,176.50 L425.53,175.61 L425.64,175.67 L425.75,174.82 L425.86,174.83 L425.97,175.04 L426.08,174.84 M426.63,176.01 L426.74,175.72 L426.85,175.56 L426.96,175.31 L427.07,175.82 L427.18,176.27 M429.48,182.63 L429.59,182.55 L429.70,182.97 L429.81,183.83 L429.92,184.71 L430.03,185.82 L430.14,186.33 L430.25,188.17 L430.36,188.80 L430.47,189.45 L430.58,189.56 L430.69,189.81 L430.80,190.76 L430.91,191.04 L431.02,190.64 L431.13,192.26 L431.24,192.96 L431.35,194.52 L431.46,196.54 L431.57,198.10 L431.68,198.70 L431.79,199.25 L431.90,197.87 L432.01,197.68 M432.23,196.26 L432.34,195.52 L432.45,193.62 L432.56,194.04 L432.66,193.33 L432.77,193.17 L432.88,191.57 L432.99,190.60 L433.10,189.69 L433.21,189.23 L433.32,189.78 L433.43,188.94 L433.54,188.18 L433.65,186.51 L433.76,185.31 L433.87,184.78 L433.98,185.65 L434.09,186.09 L434.20,185.25 L434.31,184.53 L434.42,183.15 L434.53,183.55 L434.64,183.17 L434.75,183.73 L434.86,183.32 M435.63,181.27 L435.74,180.99 L435.85,179.96 L435.96,179.50 L436.07,179.48 L436.18,180.78 L436.29,180.10 L436.39,180.36 L436.50,179.76 L436.61,180.52 L436.72,180.50 L436.83,179.63 L436.94,178.51 L437.05,178.39 L437.16,178.28 L437.27,178.27 L437.38,179.23 L437.49,179.77 L437.60,180.49 L437.71,179.94 L437.82,179.83 L437.93,179.43 L438.04,179.43 L438.15,178.12 L438.26,178.59 L438.37,178.76 L438.48,179.53 L438.59,179.93 M440.01,183.56 L440.12,183.12 L440.23,182.54 L440.34,182.75 L440.45,183.20 L440.56,184.83 L440.67,185.31 L440.78,185.20 L440.89,184.58 L441.00,184.45 M441.44,183.82 L441.55,184.32 L441.66,184.32 L441.77,184.83 L441.88,183.86 L441.99,183.33 L442.10,182.75 L442.21,182.76 M442.65,181.32 L442.76,181.85 L442.87,182.15 L442.98,181.93 L443.09,180.74 L443.20,180.04 L443.31,179.18 L443.42,178.77 L443.53,178.34 L443.63,178.87 L443.74,178.64 L443.85,178.89 L443.96,178.12 L444.07,178.14 L444.18,178.23 L444.29,179.04 L444.40,179.28 M445.17,179.88 L445.28,179.93 L445.39,179.65 L445.50,180.33 L445.61,180.62 M446.16,185.02 L446.27,185.08 L446.38,185.09 L446.49,185.67 L446.60,185.75 L446.71,187.15 L446.82,188.43 M447.36,192.37 L447.47,193.14 L447.58,194.17 L447.69,196.24 L447.80,196.94 M448.35,198.50 L448.46,199.51 L448.57,200.75 L448.68,201.32 L448.79,200.81 L448.90,200.82 M451.64,201.01 L451.75,200.82 L451.86,199.09 L451.97,197.71 L452.08,196.62 L452.19,196.29 L452.30,197.43 L452.41,198.38 L452.52,197.82 L452.63,196.72 L452.74,197.07 L452.85,196.94 L452.96,196.16 L453.07,193.28 L453.18,192.57 L453.29,192.11 L453.40,192.20 L453.51,191.67 L453.62,191.20 L453.73,190.28 L453.84,189.86 L453.95,190.68 L454.06,191.69 L454.17,191.18 L454.28,189.41 L454.39,186.57 L454.50,184.57 L454.60,184.22 L454.71,184.23 L454.82,184.05 M455.04,182.97 L455.15,183.01 L455.26,183.49 L455.37,183.51 L455.48,183.49 L455.59,182.28 L455.70,180.97 L455.81,180.55 M457.02,174.13 L457.13,173.27 L457.24,172.09 L457.35,172.18 L457.46,171.52 L457.57,171.95 L457.68,171.62 L457.79,172.31 L457.90,171.50 L458.01,170.48 L458.12,170.04 L458.23,170.43 L458.33,171.59 L458.44,171.54 L458.55,171.02 L458.66,169.91 L458.77,170.31 L458.88,170.44 L458.99,170.81 L459.10,170.27 L459.21,169.65 L459.32,169.77 L459.43,169.78 M459.87,171.60 L459.98,171.63 L460.09,170.85 L460.20,171.81 L460.31,172.60 L460.42,173.67 M461.63,177.19 L461.74,178.09 L461.85,178.94 L461.95,179.45 L462.06,179.15 L462.17,179.01 L462.28,178.61 L462.39,178.02 L462.50,177.05 L462.61,175.71 L462.72,175.10 L462.83,174.47 L462.94,173.93 L463.05,174.40 L463.16,174.39 M463.60,173.46 L463.71,172.66 L463.82,171.83 L463.93,172.03 L464.04,172.41 L464.15,172.38 L464.26,171.50 L464.37,170.59 M465.57,168.80 L465.68,168.76 L465.79,168.41 L465.90,168.44 L466.01,168.82 L466.12,169.39 L466.23,169.30 M466.45,169.83 L466.56,170.21 L466.67,170.30 L466.78,170.92 L466.89,170.74 L467.00,171.31 L467.11,171.36 L467.22,171.40 L467.33,171.49 L467.44,172.59 L467.55,173.44 L467.66,173.84 L467.77,174.94 L467.88,174.47 L467.99,174.08 M469.09,171.62 L469.20,171.43 L469.30,171.10 L469.41,170.90 L469.52,170.94 M470.07,172.15 L470.18,172.45 L470.29,171.78 L470.40,171.72 L470.51,171.99 L470.62,172.34 L470.73,172.09 L470.84,172.97 L470.95,173.50 M471.50,175.08 L471.61,176.19 L471.72,177.38 L471.83,178.12 L471.94,178.42 L472.05,177.88 L472.16,178.19 M472.82,179.10 L472.92,179.81 L473.03,180.28 L473.14,180.17 L473.25,180.19 L473.36,180.08 L473.47,179.85 L473.58,179.69 L473.69,179.42 L473.80,179.13 L473.91,178.86 L474.02,178.82 L474.13,179.06 L474.24,179.37 L474.35,179.54 L474.46,179.57 L474.57,179.66 L474.68,179.40 L474.79,179.17 L474.90,178.37 L475.01,177.95 L475.12,177.83 L475.23,177.63 L475.34,177.36 L475.45,177.16 L475.56,176.86 L475.67,176.79 L475.78,176.48 L475.89,176.38 L476.00,175.96 L476.11,175.94 L476.22,176.00 L476.33,175.98 L476.44,175.70 L476.54,175.38 L476.65,175.20 L476.76,174.95 L476.87,174.70 L476.98,174.44 L477.09,174.31 L477.20,174.05 L477.31,173.95 L477.42,173.70 L477.53,173.56 L477.64,173.40 L477.75,173.24 L477.86,173.12 L477.97,172.90 L478.08,172.83 L478.19,172.72 L478.30,172.65 L478.41,172.41 L478.52,172.20 L478.63,171.90 L478.74,171.68 L478.85,171.55 L478.96,171.51 L479.07,171.26 L479.18,171.15 L479.29,170.55 L479.40,170.22 L479.51,170.05 L479.62,169.83 L479.73,169.59 L479.84,169.51 L479.95,169.29 L480.06,169.30 L480.16,169.05 L480.27,168.70 L480.38,168.59 L480.49,168.44 L480.60,168.41 L480.71,168.05 L480.82,167.82 L480.93,167.82 L481.04,167.66 L481.15,167.47 L481.26,166.97 L481.37,166.71 L481.48,166.56 L481.59,166.36 L481.70,166.29 L481.81,166.11 L481.92,166.04 L482.03,165.59 L482.14,165.38 L482.25,165.16 L482.36,165.26 L482.47,165.08 L482.58,165.00 L482.69,164.87 L482.80,164.93 L482.91,164.76 L483.02,164.59 L483.13,164.25 L483.24,164.40 L483.35,164.49 L483.46,164.54 L483.57,164.44 L483.68,164.07 L483.79,164.07 L483.89,163.94 L484.00,163.69 L484.11,163.65 L484.22,163.65 L484.33,163.59 L484.44,163.65 L484.55,163.46 L484.66,163.62 L484.77,163.60 L484.88,163.78 L484.99,163.97 L485.10,163.86 L485.21,164.03 L485.32,163.91 L485.43,163.82 L485.54,163.80 L485.65,163.71 L485.76,163.73 L485.87,163.75 L485.98,163.76 L486.09,163.75 L486.20,163.81 L486.31,163.87 L486.42,164.11 L486.53,164.06 L486.64,164.50 L486.75,164.50 L486.86,164.74 L486.97,164.70 L487.08,164.80 L487.19,164.84 L487.30,164.78 L487.41,164.97 L487.51,165.33 L487.62,165.90 L487.73,166.29 L487.84,166.68 L487.95,167.09 L488.06,167.30 L488.17,167.62 L488.28,167.51 L488.39,167.32 L488.50,167.00 L488.61,166.50 L488.72,165.82 L488.83,165.35 L488.94,164.99 L489.05,165.13 L489.16,164.78 L489.27,164.47 L489.38,164.17 L489.49,163.87 L489.60,163.66 L489.71,163.64 L489.82,163.95 L489.93,163.91 L490.04,163.76 L490.15,163.88 L490.26,163.75 L490.37,163.65 L490.48,163.64 L490.59,163.81 L490.70,163.88 L490.81,163.72 L490.92,163.51 L491.03,163.33 L491.13,163.46 L491.24,163.60 L491.35,163.61 L491.46,163.68 L491.57,163.87 L491.68,163.99 L491.79,163.74 L491.90,163.55 L492.01,163.45 L492.12,163.35 L492.23,163.26 L492.34,163.39 L492.45,163.33 L492.56,163.57 L492.67,163.58 L492.78,163.69 L492.89,163.67 L493.00,163.67 L493.11,163.53 L493.22,163.54 L493.33,163.49 L493.44,163.37 L493.55,163.50 L493.66,163.42 L493.77,163.35 L493.88,163.32 L493.99,163.35 L494.10,163.24 L494.21,163.38 L494.32,163.37 L494.43,163.65 L494.54,163.68 L494.65,163.76 L494.76,163.45 L494.86,163.41 L494.97,163.20 L495.08,163.36 L495.19,163.16 L495.30,163.27 L495.41,163.28 L495.52,163.38 L495.63,163.61 L495.74,163.68 L495.85,163.71 L495.96,163.78 L496.07,163.86 L496.18,163.71 L496.29,163.54 L496.40,163.47 L496.51,163.52 L496.62,163.69 L496.73,163.58 L496.84,163.50 L496.95,163.55 L497.06,163.44 L497.17,163.59 L497.28,163.59 L497.39,163.67 L497.50,163.72 L497.61,163.70 L497.72,163.60 L497.83,163.51 L497.94,163.46 L498.05,163.51 L498.16,163.69 L498.27,163.77 L498.38,163.67 L498.48,163.57 L498.59,163.52 L498.70,163.51 L498.81,163.52 L498.92,163.37 L499.03,163.34 L499.14,163.42 L499.25,163.55 L499.36,163.74 L499.47,163.52 L499.58,163.55 L499.69,163.52 L499.80,163.50 L499.91,163.49 L500.02,163.38 L500.13,163.40 L500.24,163.55 L500.35,163.50 L500.46,163.57 L500.57,163.57 L500.68,163.69 L500.79,163.64 L500.90,163.65 L501.01,163.51 L501.12,163.40 L501.23,163.23 L501.34,163.50 L501.45,163.32 L501.56,163.19 L501.67,163.08 L501.78,163.16 L501.89,163.24 L502.00,163.21 L502.11,163.20 L502.21,163.22 L502.32,163.42 L502.43,163.31 L502.54,163.29 L502.65,163.44 L502.76,163.25 L502.87,163.38 L502.98,163.27 L503.09,163.24 L503.20,163.35 L503.31,163.61 L503.42,163.66 L503.53,163.57 L503.64,163.44 L503.75,163.33 L503.86,163.34 L503.97,163.29 L504.08,163.48 L504.19,163.53 L504.30,163.57 L504.41,163.46 L504.52,163.38 L504.63,163.35 L504.74,163.32 L504.85,163.14 L504.96,163.16 L505.07,163.16 L505.18,163.17 L505.29,163.39 L505.40,163.34 L505.51,163.42 L505.62,163.45 L505.73,163.43 L505.83,163.36 L505.94,163.20 L506.05,163.36 L506.16,163.34 L506.27,163.27 L506.38,163.28 L506.49,163.33 L506.60,163.32 L506.71,163.32 L506.82,163.15 L506.93,163.27 L507.04,163.33 L507.15,163.48 L507.26,163.42 L507.37,163.31 L507.48,163.38 L507.59,163.51 L507.70,163.36 L507.81,163.27 L507.92,163.27 L508.03,163.33 L508.14,163.60 L508.25,163.46 L508.36,163.47 L508.47,163.37 L508.58,163.16 L508.69,163.11 L508.80,163.03 L508.91,163.14 L509.02,163.24 L509.13,163.42 L509.24,163.37 L509.35,163.30 L509.45,163.38 L509.56,163.48 L509.67,163.48 L509.78,163.66 L509.89,163.86 L510.00,163.83 L510.11,163.82 L510.22,163.56 L510.33,163.38 L510.44,163.23 L510.55,163.31 L510.66,163.28 L510.77,163.44 L510.88,163.44 L510.99,163.58 L511.10,163.56 L511.21,163.74 L511.32,163.82 L511.43,163.77 L511.54,163.74 L511.65,163.74 L511.76,163.71 L511.87,163.69 L511.98,163.50 L512.09,163.48 L512.20,163.44 L512.31,163.66 L512.42,163.66 L512.53,163.81 L512.64,163.83 L512.75,163.97 L512.86,164.05 L512.97,164.43 M517.90,200.42 L518.01,200.95 L518.12,201.37 L518.23,201.47 L518.34,201.60" fill="none" stroke="#ff0000" stroke-width="1.10" stroke-linejoin="round" stroke-linecap="round"/>
<path d="M321.10,201.19 L321.32,200.22 L321.54,199.05 L321.76,197.89 L321.98,196.78 L322.20,195.68 L322.42,194.59 L322.64,193.56 L322.86,192.83 L323.07,192.17 L323.29,191.51 L323.51,191.01 L323.73,191.15 L323.95,191.44 L324.17,191.87 L324.39,192.86 L324.61,193.99 L324.83,195.12 L325.05,196.18 L325.27,197.19 L325.49,198.19 L325.71,199.10 L325.93,199.63 L326.15,200.07 L326.37,200.29 L326.59,199.63 L326.80,198.76 L327.02,197.56 L327.24,195.07 L327.46,192.26 L327.68,190.29 L327.90,189.16 L328.12,188.03 L328.34,186.95 L328.56,186.03 L328.78,185.15 L329.00,184.27 L329.22,183.56 L329.44,183.02 L329.66,182.48 L329.88,181.94 L330.10,181.40 L330.31,180.86 L330.53,180.37 L330.75,180.07 L330.97,179.81 L331.19,179.55 L331.41,179.30 L331.63,179.04 L331.85,178.82 L332.07,178.74 L332.29,178.69 L332.51,178.64 L332.73,178.59 L332.95,178.69 L333.17,178.94 L333.39,179.19 L333.61,179.55 L333.83,180.32 L334.04,181.20 L334.26,182.19 L334.48,183.61 L334.70,185.44 L334.92,188.44 L335.14,191.64 L335.36,194.45 L335.58,197.18 L335.80,198.82 L336.02,199.38 L336.24,199.95 L336.46,200.28 L336.68,199.55 L336.90,198.61 L337.12,197.94 L337.34,197.71 L337.56,197.43 L337.77,196.96 L337.99,196.88 L338.21,197.10 L338.43,196.63 L338.65,196.39 L338.87,196.70 L339.09,196.29 L339.31,195.76 L339.53,195.81 L339.75,195.83 L339.97,195.23 L340.19,194.79 L340.41,194.64 L340.63,193.80 L340.85,192.47 L341.07,191.90 L341.28,192.87 L341.50,194.29 L341.72,195.16 L341.94,195.89 L342.16,197.31 L342.38,198.61 L342.60,199.25 L342.82,199.96 L343.04,200.40 L343.26,200.47 L343.48,200.52 L343.70,200.63 L343.92,200.72 L344.14,200.85 L344.36,200.90 L344.58,200.91 L344.80,200.86 L345.01,200.74 L345.23,200.72 L345.45,200.52 L345.67,200.30 L345.89,200.25 L346.11,200.08 L346.33,199.71 L346.55,198.82 L346.77,197.94 L346.99,197.35 L347.21,196.90 L347.43,195.96 L347.65,194.53 L347.87,193.75 L348.09,192.95 L348.31,191.99 L348.53,190.67 L348.74,189.51 L348.96,189.54 L349.18,190.15 L349.40,190.44 L349.62,190.73 L349.84,191.45 L350.06,192.64 L350.28,194.98 L350.50,197.15 L350.72,198.52 L350.94,199.78 L351.16,200.65 L351.38,200.86 L351.60,200.92 L351.82,200.94 L352.04,200.94 L352.25,200.94 L352.47,200.98 L352.69,201.08 L352.91,201.15 L353.13,201.14 L353.35,200.99 L353.57,200.74 L353.79,200.47 L354.01,200.25 L354.23,199.95 L354.45,199.67 L354.67,199.39 L354.89,197.96 L355.11,196.34 L355.33,195.31 L355.55,194.12 L355.77,192.68 L355.98,191.33 L356.20,190.52 L356.42,191.48 L356.64,192.54 L356.86,193.08 L357.08,194.42 L357.30,196.66 L357.52,198.17 L357.74,199.52 L357.96,199.12 L358.18,197.84 L358.40,196.53 L358.62,195.40 L358.84,194.12 L359.06,193.08 L359.28,192.16 L359.50,191.27 L359.71,190.13 L359.93,188.94 L360.15,188.03 L360.37,187.00 L360.59,186.51 L360.81,186.08 L361.03,185.18 L361.25,185.66 L361.47,186.37 L361.69,187.92 L361.91,189.88 L362.13,191.16 L362.35,191.90 L362.57,192.26 L362.79,191.73 L363.01,190.78 L363.22,189.76 L363.44,189.08 L363.66,187.78 L363.88,186.38 L364.10,185.42 L364.32,184.64 L364.54,183.57 L364.76,182.33 L364.98,181.53 L365.20,182.02 L365.42,183.22 L365.64,184.71 L365.86,186.01 L366.08,187.08 L366.30,187.98 L366.52,188.53 L366.74,189.93 L366.95,191.24 L367.17,191.13 L367.39,190.55 L367.61,190.15 L367.83,189.39 L368.05,188.43 L368.27,187.33 L368.49,186.70 L368.71,186.06 L368.93,185.55 L369.15,187.55 L369.37,189.54 L369.59,191.16 L369.81,192.86 L370.03,194.80 L370.25,196.68 L370.47,198.50 L370.68,199.93 L370.90,199.11 L371.12,197.42 L371.34,195.65 L371.56,194.33 L371.78,193.10 L372.00,191.63 L372.22,190.23 L372.44,189.49 L372.66,188.57 L372.88,187.45 L373.10,186.46 L373.32,185.22 L373.54,183.91 L373.76,182.91 L373.98,183.06 L374.19,184.35 L374.41,185.78 L374.63,187.39 L374.85,188.81 L375.07,190.34 L375.29,191.75 L375.51,191.05 L375.73,190.01 L375.95,189.25 L376.17,188.93 L376.39,188.57 L376.61,187.52 L376.83,186.99 L377.05,186.69 L377.27,185.50 L377.49,184.53 L377.71,184.33 L377.92,183.88 L378.14,184.25 L378.36,185.28 L378.58,186.39 L378.80,187.68 L379.02,189.16 L379.24,190.71 L379.46,191.72 L379.68,193.05 L379.90,194.38 L380.12,195.84 L380.34,197.07 L380.56,196.17 L380.78,195.01 L381.00,194.48 L381.22,193.56 L381.44,192.42 L381.65,191.76 L381.87,190.75 L382.09,189.78 L382.31,189.36 L382.53,188.73 L382.75,187.84 L382.97,187.52 L383.19,187.35 L383.41,187.14 L383.63,186.89 L383.85,186.43 L384.07,186.09 L384.29,185.91 L384.51,185.72 L384.73,185.34 L384.95,185.22 L385.16,185.43 L385.38,185.40 L385.60,185.43 L385.82,184.91 L386.04,184.62 L386.26,184.44 L386.48,184.23 L386.70,183.96 L386.92,183.81 L387.14,183.71 L387.36,183.51 L387.58,183.52 L387.80,182.99 L388.02,182.90 L388.24,183.74 L388.46,184.86 L388.68,185.46 L388.89,186.07 L389.11,187.07 L389.33,188.89 L389.55,190.80 L389.77,192.40 L389.99,193.79 L390.21,195.75 L390.43,197.24 L390.65,198.56 L390.87,199.93 L391.09,199.04 L391.31,197.62 L391.53,195.98 L391.75,194.62 L391.97,193.09 L392.19,191.26 L392.41,189.66 L392.62,188.90 L392.84,187.97 L393.06,186.53 L393.28,185.31 L393.50,184.35 L393.72,183.43 L393.94,181.96 L394.16,180.65 L394.38,180.08 L394.60,179.42 L394.82,178.48 L395.04,177.88 L395.26,176.85 L395.48,175.78 L395.70,175.45 L395.92,174.79 L396.13,174.41 L396.35,174.08 L396.57,173.58 L396.79,173.09 L397.01,172.64 L397.23,172.48 L397.45,172.37 L397.67,172.08 L397.89,172.49 L398.11,173.58 L398.33,174.04 L398.55,174.36 L398.77,175.08 L398.99,175.99 L399.21,177.29 L399.43,178.71 L399.65,180.30 L399.86,181.97 L400.08,183.01 L400.30,184.73 L400.52,187.42 L400.74,190.47 L400.96,193.54 L401.18,196.49 L401.40,199.19 L401.62,200.26 L401.84,200.40 L402.06,200.54 L402.28,200.65 L402.50,200.70 L402.72,200.81 L402.94,200.89 L403.16,200.92 L403.38,200.92 L403.59,200.93 L403.81,200.97 L404.03,200.99 L404.25,200.94 L404.47,200.92 L404.69,200.80 L404.91,200.16 L405.13,199.22 L405.35,198.28 L405.57,197.57 L405.79,196.76 L406.01,195.62 L406.23,194.99 L406.45,194.57 L406.67,193.89 L406.89,193.41 L407.10,192.73 L407.32,192.07 L407.54,191.19 L407.76,190.59 L407.98,190.15 L408.20,189.82 L408.42,189.68 L408.64,188.47 L408.86,187.21 L409.08,186.76 L409.30,186.34 L409.52,185.70 L409.74,184.97 L409.96,183.92 L410.18,182.76 L410.40,182.22 L410.62,182.09 L410.83,181.72 L411.05,181.32 L411.27,181.11 L411.49,180.85 L411.71,180.94 L411.93,181.04 L412.15,181.43 L412.37,181.90 L412.59,182.03 L412.81,182.74 L413.03,183.22 L413.25,183.55 L413.47,184.00 L413.69,183.52 L413.91,182.99 L414.13,182.76 L414.35,182.22 L414.56,181.65 L414.78,181.14 L415.00,180.26 L415.22,179.74 L415.44,180.04 L415.66,179.79 L415.88,179.09 L416.10,178.64 L416.32,178.31 L416.54,177.91 L416.76,178.50 L416.98,180.04 L417.20,181.46 L417.42,182.76 L417.64,183.85 L417.86,185.33 L418.07,187.16 L418.29,188.96 L418.51,190.74 L418.73,192.29 L418.95,194.20 L419.17,196.14 L419.39,197.95 L419.61,199.89 L419.83,200.19 L420.05,198.91 L420.27,197.42 L420.49,196.36 L420.71,195.11 L420.93,193.37 L421.15,192.02 L421.37,190.98 L421.59,189.85 L421.80,188.84 L422.02,187.69 L422.24,186.88 L422.46,185.97 L422.68,185.05 L422.90,184.49 L423.12,183.50 L423.34,182.64 L423.56,181.78 L423.78,181.02 L424.00,180.61 L424.22,179.54 L424.44,178.61 L424.66,178.26 L424.88,177.88 L425.10,177.68 L425.31,176.99 L425.53,176.26 L425.75,175.84 L425.97,175.40 L426.19,175.08 L426.41,175.08 L426.63,175.74 L426.85,176.03 L427.07,176.12 L427.29,176.10 L427.51,176.24 L427.73,176.57 L427.95,176.94 L428.17,177.77 L428.39,178.30 L428.61,178.86 L428.83,179.68 L429.04,180.62 L429.26,181.79 L429.48,182.56 L429.70,183.41 L429.92,184.72 L430.14,186.21 L430.36,187.79 L430.58,189.14 L430.80,190.54 L431.02,191.86 L431.24,193.40 L431.46,195.03 L431.68,196.44 L431.90,197.63 L432.12,196.86 L432.34,195.80 L432.56,194.36 L432.77,192.98 L432.99,191.74 L433.21,190.29 L433.43,189.17 L433.65,187.85 L433.87,186.42 L434.09,185.63 L434.31,184.67 L434.53,184.04 L434.75,183.48 L434.97,182.59 L435.19,181.90 L435.41,181.16 L435.63,180.72 L435.85,180.45 L436.07,180.19 L436.29,179.80 L436.50,179.56 L436.72,179.00 L436.94,178.64 L437.16,178.83 L437.38,179.13 L437.60,179.40 L437.82,179.58 L438.04,179.54 L438.26,179.18 L438.48,179.50 L438.70,180.17 L438.92,180.36 L439.14,180.68 L439.36,181.55 L439.58,181.97 L439.80,182.39 L440.01,182.83 L440.23,182.99 L440.45,183.38 L440.67,184.02 L440.89,184.29 L441.11,184.16 L441.33,184.24 L441.55,183.63 L441.77,182.81 L441.99,182.21 L442.21,181.95 L442.43,181.61 L442.65,181.38 L442.87,181.04 L443.09,180.32 L443.31,180.06 L443.53,179.58 L443.74,179.12 L443.96,179.25 L444.18,179.12 L444.40,179.26 L444.62,179.65 L444.84,179.78 L445.06,179.94 L445.28,180.23 L445.50,180.48 L445.72,181.35 L445.94,182.93 L446.16,184.70 L446.38,185.74 L446.60,186.44 L446.82,188.46 L447.04,190.44 L447.25,191.77 L447.47,193.49 L447.69,195.54 L447.91,196.80 L448.13,197.15 L448.35,198.23 L448.57,199.37 L448.79,200.09 L449.01,200.41 L449.23,200.73 L449.45,200.94 L449.67,201.09 L449.89,201.09 L450.11,201.06 L450.33,201.02 L450.55,200.97 L450.77,200.94 L450.98,200.89 L451.20,200.83 L451.42,200.74 L451.64,200.54 L451.86,199.77 L452.08,198.44 L452.30,197.16 L452.52,196.58 L452.74,195.57 L452.96,194.78 L453.18,193.37 L453.40,192.17 L453.62,191.57 L453.84,190.53 L454.06,189.53 L454.28,188.29 L454.50,186.33 L454.71,184.59 L454.93,183.99 L455.15,183.18 L455.37,181.98 L455.59,180.95 L455.81,179.75 L456.03,178.31 L456.25,177.00 L456.47,175.68 L456.69,174.64 L456.91,173.80 L457.13,173.13 L457.35,172.64 L457.57,172.07 L457.79,171.56 L458.01,170.92 L458.23,170.57 L458.44,170.33 L458.66,169.70 L458.88,169.48 L459.10,169.87 L459.32,170.13 L459.54,170.52 L459.76,171.07 L459.98,171.52 L460.20,172.22 L460.42,173.08 L460.64,173.86 L460.86,174.66 L461.08,175.82 L461.30,176.29 L461.52,176.50 L461.74,177.30 L461.95,178.22 L462.17,177.91 L462.39,176.75 L462.61,175.61 L462.83,175.05 L463.05,174.72 L463.27,174.02 L463.49,173.23 L463.71,172.49 L463.93,171.92 L464.15,171.43 L464.37,170.41 L464.59,169.77 L464.81,169.58 L465.03,169.22 L465.25,168.93 L465.47,168.71 L465.68,168.77 L465.90,169.03 L466.12,169.50 L466.34,169.99 L466.56,170.19 L466.78,170.87 L467.00,171.38 L467.22,171.82 L467.44,172.51 L467.66,173.37 L467.88,173.71 L468.10,173.11 L468.32,172.60 L468.54,172.75 L468.76,172.35 L468.98,171.86 L469.20,171.69 L469.41,171.21 L469.63,171.31 L469.85,171.60 L470.07,171.85 L470.29,172.35 L470.51,172.71 L470.73,173.06 L470.95,173.29 L471.17,173.60 L471.39,174.51 L471.61,175.68 L471.83,176.73 L472.05,177.69 L472.27,178.13 L472.49,178.07 L472.71,178.57 L472.92,179.12 L473.14,179.52 L473.36,179.48 L473.58,179.27 L473.80,179.04 L474.02,178.81 L474.24,178.80 L474.46,178.99 L474.68,178.81 L474.90,178.32 L475.12,177.81 L475.34,177.31 L475.56,176.83 L475.78,176.36 L476.00,175.92 L476.22,175.57 L476.44,175.25 L476.65,174.91 L476.87,174.51 L477.09,174.10 L477.31,173.69 L477.53,173.34 L477.75,173.13 L477.97,172.95 L478.19,172.64 L478.41,172.20 L478.63,171.76 L478.85,171.32 L479.07,170.89 L479.29,170.55 L479.51,170.00 L479.73,169.52 L479.95,169.13 L480.16,168.70 L480.38,168.39 L480.60,168.03 L480.82,167.66 L481.04,167.27 L481.26,166.79 L481.48,166.33 L481.70,166.00 L481.92,165.62 L482.14,165.20 L482.36,164.94 L482.58,164.75 L482.80,164.55 L483.02,164.34 L483.24,164.19 L483.46,164.17 L483.68,163.97 L483.89,163.72 L484.11,163.53 L484.33,163.32 L484.55,163.42 L484.77,163.44 L484.99,163.50 L485.21,163.68 L485.43,163.62 L485.65,163.65 L485.87,163.70 L486.09,163.73 L486.31,163.80 L486.53,163.97 L486.75,164.24 L486.97,164.55 L487.19,164.81 L487.41,165.07 L487.62,165.51 L487.84,166.15 L488.06,166.82 L488.28,166.91 L488.50,166.44 L488.72,165.72 L488.94,164.95 L489.16,164.56 L489.38,164.08 L489.60,163.78 L489.82,163.77 L490.04,163.65 L490.26,163.61 L490.48,163.57 L490.70,163.40 L490.92,163.34 L491.13,163.34 L491.35,163.38 L491.57,163.40 L491.79,163.46 L492.01,163.32 L492.23,163.14 L492.45,163.14 L492.67,163.27 L492.89,163.38 L493.11,163.28 L493.33,163.25 L493.55,163.20 L493.77,163.13 L493.99,163.09 L494.21,163.13 L494.43,163.38 L494.65,163.38 L494.86,163.13 L495.08,163.09 L495.30,163.12 L495.52,163.13 L495.74,163.32 L495.96,163.37 L496.18,163.27 L496.40,163.40 L496.62,163.46 L496.84,163.35 L497.06,163.18 L497.28,163.26 L497.50,163.42 L497.72,163.40 L497.94,163.35 L498.16,163.37 L498.38,163.34 L498.59,163.33 L498.81,163.38 L499.03,163.35 L499.25,163.32 L499.47,163.34 L499.69,163.34 L499.91,163.30 L500.13,163.24 L500.35,163.33 L500.57,163.43 L500.79,163.38 L501.01,163.32 L501.23,163.16 L501.45,163.16 L501.67,163.21 L501.89,163.18 L502.11,163.17 L502.32,163.21 L502.54,163.17 L502.76,163.08 L502.98,163.15 L503.20,163.26 L503.42,163.25 L503.64,163.18 L503.86,163.23 L504.08,163.17 L504.30,163.22 L504.52,163.27 L504.74,163.20 L504.96,163.15 L505.18,163.07 L505.40,163.15 L505.62,163.21 L505.83,163.11 L506.05,163.12 L506.27,163.14 L506.49,163.15 L506.71,163.15 L506.93,163.09 L507.15,163.13 L507.37,163.18 L507.59,163.14 L507.81,163.12 L508.03,163.15 L508.25,163.26 L508.47,163.24 L508.69,163.01 L508.91,163.03 L509.13,163.13 L509.35,163.17 L509.56,163.29 L509.78,163.36 L510.00,163.40 L510.22,163.29 L510.44,163.19 L510.66,163.20 L510.88,163.25 L511.10,163.36 L511.32,163.51 L511.54,163.41 L511.76,163.40 L511.98,163.40 L512.20,163.45 L512.42,163.60 L512.64,163.78 L512.86,164.25 L513.08,165.02 L513.29,165.87 L513.51,166.80 L513.73,167.74 L513.95,168.73 L514.17,170.06 L514.39,171.58 L514.61,173.11 L514.83,174.64 L515.05,176.26 L515.27,178.11 L515.49,180.00 L515.71,181.89 L515.93,183.78 L516.15,185.70 L516.37,187.65 L516.59,189.60 L516.80,191.54 L517.02,193.43 L517.24,195.09 L517.46,196.69 L517.68,198.29 L517.90,199.89 L518.12,200.83 L518.34,201.11 L518.56,201.34" fill="none" stroke="#2a2a2a" stroke-width="0.55" stroke-linejoin="round"/>
</g>
<rect x="321.10" y="157.50" width="219.40" height="45.60" fill="none" stroke="#777" stroke-width="0.6"/>
<text x="321.10" y="211.10" class="tl" text-anchor="middle">0</text>
<text x="343.04" y="211.10" class="tl" text-anchor="middle">200</text>
<text x="364.98" y="211.10" class="tl" text-anchor="middle">400</text>
<text x="386.92" y="211.10" class="tl" text-anchor="middle">600</text>
<text x="408.86" y="211.10" class="tl" text-anchor="middle">800</text>
<text x="430.80" y="211.10" class="tl" text-anchor="middle">1000</text>
<text x="452.74" y="211.10" class="tl" text-anchor="middle">1200</text>
<text x="474.68" y="211.10" class="tl" text-anchor="middle">1400</text>
<text x="496.62" y="211.10" class="tl" text-anchor="middle">1600</text>
<text x="518.56" y="211.10" class="tl" text-anchor="middle">1800</text>
<text x="540.50" y="211.10" class="tl" text-anchor="middle">2000</text>
<text x="319.50" y="203.69" class="tl" text-anchor="end">0</text>
<text x="319.50" y="181.74" class="tl" text-anchor="end">50</text>
<text x="319.50" y="159.80" class="tl" text-anchor="end">100</text>
<path d="M321.10,203.10 v-2.0 M321.10,157.50 v2.0 M343.04,203.10 v-2.0 M343.04,157.50 v2.0 M364.98,203.10 v-2.0 M364.98,157.50 v2.0 M386.92,203.10 v-2.0 M386.92,157.50 v2.0 M408.86,203.10 v-2.0 M408.86,157.50 v2.0 M430.80,203.10 v-2.0 M430.80,157.50 v2.0 M452.74,203.10 v-2.0 M452.74,157.50 v2.0 M474.68,203.10 v-2.0 M474.68,157.50 v2.0 M496.62,203.10 v-2.0 M496.62,157.50 v2.0 M518.56,203.10 v-2.0 M518.56,157.50 v2.0 M540.50,203.10 v-2.0 M540.50,157.50 v2.0 M321.10,201.39 h2.0 M540.50,201.39 h-2.0 M321.10,179.44 h2.0 M540.50,179.44 h-2.0 M321.10,157.50 h2.0 M540.50,157.50 h-2.0" stroke="#777" stroke-width="0.6" fill="none"/>
<clipPath id="clip_si"><rect x="48.50" y="91.40" width="46.10" height="40.50"/></clipPath>
<g clip-path="url(#clip_si)">
<path d="M43.89,84.73 L44.35,86.67 L44.81,86.10 L45.27,88.91 L45.73,90.74 L46.20,89.85 L46.66,90.76 L47.12,88.20 L47.58,88.83 L48.04,88.59 L48.50,93.36 L48.96,91.23 L49.42,91.18 L49.88,94.17 L50.34,91.67 L50.80,94.08 L51.27,98.78 L51.73,97.70 L52.19,96.97 L52.65,101.04 L53.11,103.86 L53.57,104.13 L54.03,102.86 L54.49,104.08 L54.95,105.47 L55.41,105.40 L55.88,103.54 L56.34,98.93 L56.80,105.04 L57.26,109.30 L57.72,109.66 L58.18,107.53 L58.64,109.61 L59.10,111.82 L59.56,114.13 L60.02,114.61 L60.49,120.28 L60.95,113.28 L61.41,114.22 L61.87,113.43 L62.33,111.39 L62.79,110.68 L63.25,111.34 L63.71,108.88 L64.17,111.50 L64.63,109.85 L65.10,112.54 L65.56,110.32 L66.02,109.91 L66.48,111.42 L66.94,113.74 L67.40,110.80 L67.86,110.01 L68.32,106.85 L68.78,106.41 L69.25,104.61 L69.71,104.52 L70.17,105.84 L70.63,104.19 L71.09,103.67 L71.55,102.95 L72.01,104.69 L72.47,102.04 L72.93,98.89 L73.39,101.29 L73.86,103.49 L74.32,101.96 L74.78,100.25 L75.24,99.55 L75.70,96.60 L76.16,93.61 L76.62,94.26 L77.08,93.82 L77.54,91.32 L78.00,93.08 L78.47,96.15 L78.93,95.36 L79.39,90.47 L79.85,87.96 L80.31,86.30 L80.77,87.70 L81.23,86.74 L81.69,88.47 L82.15,91.39 L82.61,88.14 L83.07,85.53 L83.54,83.83 L84.00,87.56 L84.46,83.97 L84.92,84.33 L85.38,84.56 L85.84,83.56 L86.30,83.79 L86.76,81.90 L87.22,81.52 L87.69,83.10 L88.15,76.93 L88.61,78.92 L89.07,80.29 L89.53,79.44 L89.99,79.65 L90.45,77.69 L90.91,75.72 L91.37,77.76 L91.83,75.47 L92.29,78.34 L92.76,80.46 L93.22,77.57 L93.68,75.53 L94.14,73.63 L94.60,73.06 L95.06,75.73 L95.52,75.18 L95.98,72.27 L96.44,71.21 L96.91,71.39 L97.37,73.80 L97.83,72.29 L98.29,71.21 L98.75,71.51 L99.21,70.00" fill="none" stroke="#ff0000" stroke-opacity="0.60" stroke-width="0.35" stroke-linejoin="round"/>
<path d="M43.89,84.68 L44.35,84.12 L44.81,86.64 L45.27,86.50 L45.73,86.26 L46.20,86.42 L46.66,85.42 L47.12,83.22 L47.58,88.19 L48.04,88.29 L48.50,89.16 L48.96,90.90 L49.42,91.87 L49.88,89.63 L50.34,89.27 L50.80,93.49 L51.27,96.01 L51.73,96.74 L52.19,98.08 L52.65,98.55 L53.11,100.14 L53.57,99.64 L54.03,98.19 L54.49,102.10 L54.95,104.48 L55.41,104.42 L55.88,106.14 L56.34,105.75 L56.80,102.43 L57.26,107.90 L57.72,113.84 L58.18,107.97 L58.64,108.56 L59.10,112.28 L59.56,111.87 L60.02,111.97 L60.49,110.98 L60.95,111.51 L61.41,116.05 L61.87,112.38 L62.33,109.99 L62.79,114.07 L63.25,113.62 L63.71,113.48 L64.17,111.08 L64.63,108.81 L65.10,108.28 L65.56,111.21 L66.02,113.01 L66.48,111.41 L66.94,110.79 L67.40,113.93 L67.86,110.16 L68.32,114.00 L68.78,109.40 L69.25,110.24 L69.71,108.04 L70.17,106.82 L70.63,107.55 L71.09,104.77 L71.55,103.96 L72.01,100.44 L72.47,101.66 L72.93,101.35 L73.39,102.73 L73.86,101.36 L74.32,100.61 L74.78,99.78 L75.24,98.98 L75.70,94.39 L76.16,95.51 L76.62,100.92 L77.08,99.71 L77.54,96.86 L78.00,93.48 L78.47,92.14 L78.93,92.23 L79.39,93.22 L79.85,94.18 L80.31,92.33 L80.77,92.80 L81.23,92.23 L81.69,90.88 L82.15,90.80 L82.61,91.14 L83.07,93.44 L83.54,89.25 L84.00,85.94 L84.46,87.20 L84.92,83.31 L85.38,81.25 L85.84,83.36 L86.30,84.89 L86.76,84.51 L87.22,82.90 L87.69,83.25 L88.15,81.26 L88.61,79.51 L89.07,80.16 L89.53,81.72 L89.99,82.89 L90.45,78.57 L90.91,78.31 L91.37,80.00 L91.83,79.43 L92.29,78.23 L92.76,78.74 L93.22,78.55 L93.68,76.57 L94.14,75.46 L94.60,77.17 L95.06,78.01 L95.52,76.08 L95.98,76.03 L96.44,75.79 L96.91,74.16 L97.37,75.55 L97.83,78.02 L98.29,76.99 L98.75,73.49 L99.21,71.97" fill="none" stroke="#ff0000" stroke-opacity="0.60" stroke-width="0.35" stroke-linejoin="round"/>
<path d="M43.89,84.62 L44.35,83.27 L44.81,83.07 L45.27,84.85 L45.73,84.90 L46.20,88.05 L46.66,90.20 L47.12,89.09 L47.58,88.49 L48.04,85.83 L48.50,86.16 L48.96,87.76 L49.42,88.23 L49.88,88.01 L50.34,91.21 L50.80,93.52 L51.27,94.11 L51.73,96.30 L52.19,95.20 L52.65,94.41 L53.11,96.40 L53.57,97.01 L54.03,98.31 L54.49,100.91 L54.95,102.20 L55.41,103.29 L55.88,103.19 L56.34,103.00 L56.80,108.64 L57.26,107.96 L57.72,108.74 L58.18,108.36 L58.64,107.64 L59.10,108.06 L59.56,110.28 L60.02,110.89 L60.49,110.63 L60.95,112.77 L61.41,112.38 L61.87,111.91 L62.33,115.77 L62.79,110.46 L63.25,111.05 L63.71,110.86 L64.17,112.38 L64.63,110.55 L65.10,114.58 L65.56,109.97 L66.02,107.76 L66.48,114.27 L66.94,110.46 L67.40,113.04 L67.86,111.12 L68.32,108.18 L68.78,108.81 L69.25,107.98 L69.71,109.29 L70.17,107.79 L70.63,108.34 L71.09,109.41 L71.55,107.60 L72.01,105.36 L72.47,103.74 L72.93,103.78 L73.39,101.17 L73.86,99.66 L74.32,100.47 L74.78,100.25 L75.24,99.12 L75.70,98.52 L76.16,101.06 L76.62,98.64 L77.08,94.72 L77.54,96.89 L78.00,96.78 L78.47,92.44 L78.93,92.69 L79.39,95.40 L79.85,96.61 L80.31,93.67 L80.77,94.64 L81.23,93.28 L81.69,87.60 L82.15,90.07 L82.61,93.19 L83.07,89.98 L83.54,88.77 L84.00,88.19 L84.46,87.25 L84.92,88.14 L85.38,87.10 L85.84,84.97 L86.30,83.40 L86.76,84.83 L87.22,85.31 L87.69,79.81 L88.15,80.12 L88.61,83.44 L89.07,84.85 L89.53,82.88 L89.99,80.93 L90.45,78.51 L90.91,79.50 L91.37,79.14 L91.83,79.69 L92.29,80.20 L92.76,78.77 L93.22,79.07 L93.68,76.46 L94.14,76.16 L94.60,77.18 L95.06,74.02 L95.52,73.35 L95.98,76.90 L96.44,80.98 L96.91,76.59 L97.37,74.44 L97.83,73.00 L98.29,75.06 L98.75,76.43 L99.21,75.45" fill="none" stroke="#ff0000" stroke-opacity="0.60" stroke-width="0.35" stroke-linejoin="round"/>
<path d="M43.89,80.79 L44.35,81.50 L44.81,83.61 L45.27,82.61 L45.73,82.46 L46.20,84.34 L46.66,86.97 L47.12,87.61 L47.58,87.97 L48.04,89.12 L48.50,89.83 L48.96,89.45 L49.42,88.00 L49.88,92.17 L50.34,94.68 L50.80,92.69 L51.27,93.59 L51.73,94.92 L52.19,95.18 L52.65,97.55 L53.11,98.03 L53.57,96.01 L54.03,96.35 L54.49,98.88 L54.95,100.69 L55.41,102.34 L55.88,104.00 L56.34,107.46 L56.80,106.85 L57.26,106.00 L57.72,111.92 L58.18,107.34 L58.64,106.03 L59.10,107.36 L59.56,109.51 L60.02,107.80 L60.49,107.94 L60.95,109.39 L61.41,111.01 L61.87,111.68 L62.33,112.13 L62.79,109.78 L63.25,111.07 L63.71,113.44 L64.17,111.61 L64.63,119.20 L65.10,111.02 L65.56,110.04 L66.02,109.11 L66.48,110.42 L66.94,108.87 L67.40,105.86 L67.86,107.22 L68.32,107.47 L68.78,112.10 L69.25,110.95 L69.71,110.66 L70.17,114.27 L70.63,109.17 L71.09,106.97 L71.55,107.58 L72.01,103.62 L72.47,104.64 L72.93,104.82 L73.39,103.96 L73.86,104.62 L74.32,103.33 L74.78,102.01 L75.24,101.76 L75.70,100.78 L76.16,99.91 L76.62,99.66 L77.08,97.86 L77.54,97.25 L78.00,94.89 L78.47,93.96 L78.93,95.71 L79.39,96.26 L79.85,93.78 L80.31,93.47 L80.77,95.04 L81.23,93.21 L81.69,90.73 L82.15,90.65 L82.61,89.79 L83.07,92.91 L83.54,92.94 L84.00,93.70 L84.46,92.66 L84.92,89.03 L85.38,87.03 L85.84,89.39 L86.30,88.57 L86.76,85.74 L87.22,83.92 L87.69,81.05 L88.15,82.17 L88.61,80.20 L89.07,79.48 L89.53,82.63 L89.99,84.59 L90.45,80.90 L90.91,76.34 L91.37,75.90 L91.83,75.87 L92.29,74.34 L92.76,74.35 L93.22,77.34 L93.68,78.76 L94.14,78.11 L94.60,77.94 L95.06,76.99 L95.52,77.58 L95.98,74.31 L96.44,70.39 L96.91,70.95 L97.37,74.96 L97.83,76.55 L98.29,74.77 L98.75,73.02 L99.21,71.92" fill="none" stroke="#ff0000" stroke-opacity="0.60" stroke-width="0.35" stroke-linejoin="round"/>
<path d="M43.89,83.18 L44.35,82.33 L44.81,83.18 L45.27,83.70 L45.73,84.35 L46.20,86.43 L46.66,87.82 L47.12,86.05 L47.58,85.39 L48.04,85.76 L48.50,88.03 L48.96,89.83 L49.42,89.57 L49.88,89.04 L50.34,90.54 L50.80,90.70 L51.27,90.56 L51.73,90.74 L52.19,92.86 L52.65,93.77 L53.11,94.08 L53.57,95.76 L54.03,97.59 L54.49,101.60 L54.95,97.04 L55.41,100.21 L55.88,104.98 L56.34,104.38 L56.80,105.74 L57.26,105.04 L57.72,105.09 L58.18,106.35 L58.64,110.16 L59.10,109.60 L59.56,106.03 L60.02,109.34 L60.49,114.37 L60.95,106.64 L61.41,110.69 L61.87,107.97 L62.33,117.56 L62.79,113.61 L63.25,113.48 L63.71,113.99 L64.17,112.82 L64.63,112.95 L65.10,120.76 L65.56,117.68 L66.02,110.60 L66.48,110.03 L66.94,109.43 L67.40,106.34 L67.86,110.30 L68.32,111.72 L68.78,110.04 L69.25,111.20 L69.71,110.42 L70.17,109.05 L70.63,107.71 L71.09,108.99 L71.55,108.80 L72.01,105.55 L72.47,107.63 L72.93,109.15 L73.39,104.76 L73.86,101.68 L74.32,101.17 L74.78,103.92 L75.24,103.28 L75.70,101.05 L76.16,99.94 L76.62,100.13 L77.08,99.16 L77.54,96.95 L78.00,98.16 L78.47,94.98 L78.93,96.22 L79.39,98.21 L79.85,97.48 L80.31,93.61 L80.77,90.85 L81.23,92.62 L81.69,91.44 L82.15,89.83 L82.61,90.37 L83.07,92.23 L83.54,93.33 L84.00,91.21 L84.46,90.01 L84.92,89.52 L85.38,89.43 L85.84,91.13 L86.30,90.71 L86.76,88.68 L87.22,87.07 L87.69,85.91 L88.15,85.87 L88.61,84.18 L89.07,82.88 L89.53,81.75 L89.99,82.98 L90.45,84.08 L90.91,84.51 L91.37,81.12 L91.83,82.00 L92.29,82.80 L92.76,78.60 L93.22,79.63 L93.68,84.54 L94.14,84.83 L94.60,79.76 L95.06,76.29 L95.52,76.93 L95.98,78.46 L96.44,81.72 L96.91,78.64 L97.37,74.33 L97.83,73.04 L98.29,73.58 L98.75,74.79 L99.21,73.48" fill="none" stroke="#ff0000" stroke-opacity="0.60" stroke-width="0.35" stroke-linejoin="round"/>
<path d="M43.89,85.21 L44.35,82.62 L44.81,84.66 L45.27,85.58 L45.73,84.84 L46.20,84.92 L46.66,89.03 L47.12,89.74 L47.58,86.94 L48.04,90.11 L48.50,90.95 L48.96,88.70 L49.42,87.98 L49.88,87.99 L50.34,90.66 L50.80,92.35 L51.27,90.39 L51.73,91.38 L52.19,92.57 L52.65,96.73 L53.11,93.12 L53.57,95.93 L54.03,99.61 L54.49,103.20 L54.95,104.78 L55.41,102.89 L55.88,102.65 L56.34,104.97 L56.80,106.87 L57.26,109.69 L57.72,117.22 L58.18,105.31 L58.64,107.94 L59.10,110.33 L59.56,109.87 L60.02,110.08 L60.49,114.10 L60.95,112.80 L61.41,111.11 L61.87,118.69 L62.33,112.77 L62.79,114.06 L63.25,112.28 L63.71,109.28 L64.17,110.16 L64.63,109.82 L65.10,110.59 L65.56,112.67 L66.02,115.61 L66.48,111.39 L66.94,109.02 L67.40,110.24 L67.86,110.26 L68.32,108.95 L68.78,111.08 L69.25,109.87 L69.71,107.29 L70.17,105.03 L70.63,105.57 L71.09,107.65 L71.55,106.22 L72.01,103.98 L72.47,104.01 L72.93,102.60 L73.39,99.92 L73.86,101.05 L74.32,97.61 L74.78,94.86 L75.24,97.53 L75.70,96.64 L76.16,97.42 L76.62,98.83 L77.08,97.97 L77.54,97.05 L78.00,97.48 L78.47,98.15 L78.93,96.39 L79.39,94.12 L79.85,92.31 L80.31,91.62 L80.77,90.59 L81.23,89.67 L81.69,89.94 L82.15,90.11 L82.61,87.21 L83.07,88.93 L83.54,88.31 L84.00,86.00 L84.46,84.85 L84.92,85.56 L85.38,86.65 L85.84,86.79 L86.30,83.51 L86.76,80.71 L87.22,82.16 L87.69,83.22 L88.15,81.81 L88.61,81.38 L89.07,84.62 L89.53,85.89 L89.99,80.45 L90.45,77.86 L90.91,79.94 L91.37,78.40 L91.83,79.52 L92.29,80.30 L92.76,78.23 L93.22,79.01 L93.68,78.80 L94.14,78.30 L94.60,77.60 L95.06,75.80 L95.52,75.80 L95.98,75.97 L96.44,77.12 L96.91,76.45 L97.37,72.13 L97.83,72.26 L98.29,69.68 L98.75,70.46 L99.21,70.62" fill="none" stroke="#ff0000" stroke-opacity="0.60" stroke-width="0.35" stroke-linejoin="round"/>
<path d="M43.89,83.09 L44.35,82.03 L44.81,84.61 L45.27,89.00 L45.73,90.60 L46.20,89.82 L46.66,90.29 L47.12,90.63 L47.58,90.13 L48.04,89.56 L48.50,89.45 L48.96,89.76 L49.42,90.65 L49.88,91.29 L50.34,94.33 L50.80,95.28 L51.27,91.75 L51.73,92.98 L52.19,97.91 L52.65,101.46 L53.11,98.35 L53.57,101.76 L54.03,102.85 L54.49,102.82 L54.95,104.61 L55.41,107.28 L55.88,111.16 L56.34,112.82 L56.80,111.47 L57.26,116.68 L57.72,110.56 L58.18,110.52 L58.64,112.51 L59.10,113.24 L59.56,111.04 L60.02,110.61 L60.49,114.84 L60.95,109.74 L61.41,111.33 L61.87,113.08 L62.33,112.00 L62.79,112.69 L63.25,110.78 L63.71,109.83 L64.17,109.71 L64.63,112.46 L65.10,111.42 L65.56,110.79 L66.02,109.12 L66.48,107.54 L66.94,110.43 L67.40,113.53 L67.86,106.82 L68.32,113.10 L68.78,108.49 L69.25,108.98 L69.71,109.27 L70.17,104.81 L70.63,102.82 L71.09,102.72 L71.55,102.44 L72.01,101.52 L72.47,100.92 L72.93,101.80 L73.39,100.96 L73.86,100.21 L74.32,97.93 L74.78,98.37 L75.24,101.40 L75.70,99.14 L76.16,96.81 L76.62,93.15 L77.08,92.37 L77.54,95.07 L78.00,97.29 L78.47,96.20 L78.93,92.27 L79.39,91.99 L79.85,91.66 L80.31,90.65 L80.77,93.40 L81.23,90.11 L81.69,90.15 L82.15,90.43 L82.61,88.85 L83.07,86.67 L83.54,87.77 L84.00,85.30 L84.46,82.37 L84.92,82.99 L85.38,83.76 L85.84,84.49 L86.30,82.81 L86.76,83.68 L87.22,85.08 L87.69,83.64 L88.15,80.94 L88.61,80.10 L89.07,82.82 L89.53,82.41 L89.99,81.76 L90.45,82.91 L90.91,79.94 L91.37,78.25 L91.83,80.64 L92.29,80.23 L92.76,80.53 L93.22,78.51 L93.68,77.75 L94.14,78.82 L94.60,74.84 L95.06,75.82 L95.52,77.65 L95.98,70.51 L96.44,72.93 L96.91,73.72 L97.37,74.58 L97.83,73.26 L98.29,66.02 L98.75,70.70 L99.21,71.06" fill="none" stroke="#ff0000" stroke-opacity="0.60" stroke-width="0.35" stroke-linejoin="round"/>
<path d="M43.89,80.13 L44.35,79.99 L44.81,81.68 L45.27,82.96 L45.73,85.94 L46.20,82.59 L46.66,87.76 L47.12,88.87 L47.58,83.96 L48.04,84.69 L48.50,88.85 L48.96,85.05 L49.42,86.83 L49.88,88.97 L50.34,90.45 L50.80,91.54 L51.27,92.12 L51.73,94.34 L52.19,94.90 L52.65,95.93 L53.11,97.80 L53.57,96.20 L54.03,97.33 L54.49,95.48 L54.95,96.32 L55.41,99.14 L55.88,101.72 L56.34,106.30 L56.80,106.89 L57.26,106.51 L57.72,112.05 L58.18,107.89 L58.64,108.76 L59.10,111.44 L59.56,111.75 L60.02,110.78 L60.49,110.08 L60.95,109.38 L61.41,109.77 L61.87,111.47 L62.33,111.57 L62.79,111.27 L63.25,110.65 L63.71,110.60 L64.17,110.57 L64.63,111.87 L65.10,109.97 L65.56,108.01 L66.02,109.32 L66.48,110.57 L66.94,110.20 L67.40,109.63 L67.86,114.75 L68.32,108.54 L68.78,109.84 L69.25,108.62 L69.71,107.65 L70.17,107.40 L70.63,106.62 L71.09,105.98 L71.55,108.90 L72.01,106.74 L72.47,105.78 L72.93,104.58 L73.39,105.96 L73.86,104.73 L74.32,101.26 L74.78,102.18 L75.24,103.71 L75.70,101.20 L76.16,99.61 L76.62,99.24 L77.08,101.10 L77.54,98.96 L78.00,96.94 L78.47,97.49 L78.93,95.42 L79.39,96.51 L79.85,98.44 L80.31,95.64 L80.77,92.62 L81.23,89.30 L81.69,87.51 L82.15,88.48 L82.61,91.26 L83.07,92.62 L83.54,93.45 L84.00,92.38 L84.46,86.47 L84.92,83.83 L85.38,85.90 L85.84,85.58 L86.30,83.34 L86.76,86.29 L87.22,86.24 L87.69,83.90 L88.15,85.88 L88.61,85.10 L89.07,81.67 L89.53,78.88 L89.99,79.97 L90.45,81.40 L90.91,84.33 L91.37,82.27 L91.83,81.47 L92.29,80.37 L92.76,80.15 L93.22,81.19 L93.68,78.45 L94.14,77.61 L94.60,72.66 L95.06,75.48 L95.52,76.11 L95.98,78.58 L96.44,79.81 L96.91,76.00 L97.37,73.30 L97.83,74.45 L98.29,75.74 L98.75,75.89 L99.21,75.15" fill="none" stroke="#ff0000" stroke-opacity="0.60" stroke-width="0.35" stroke-linejoin="round"/>
<path d="M43.89,85.84 L44.35,88.38 L44.81,88.40 L45.27,88.37 L45.73,86.33 L46.20,88.44 L46.66,87.13 L47.12,90.28 L47.58,90.40 L48.04,89.34 L48.50,89.97 L48.96,92.10 L49.42,93.80 L49.88,93.43 L50.34,94.07 L50.80,95.52 L51.27,93.90 L51.73,102.05 L52.19,102.42 L52.65,101.21 L53.11,100.02 L53.57,100.07 L54.03,101.82 L54.49,105.18 L54.95,104.28 L55.41,106.30 L55.88,108.69 L56.34,106.63 L56.80,110.53 L57.26,112.05 L57.72,111.42 L58.18,109.76 L58.64,108.73 L59.10,110.30 L59.56,109.05 L60.02,113.87 L60.49,114.00 L60.95,111.39 L61.41,110.29 L61.87,112.13 L62.33,112.64 L62.79,110.29 L63.25,110.81 L63.71,111.67 L64.17,111.09 L64.63,108.70 L65.10,111.19 L65.56,110.94 L66.02,108.96 L66.48,111.38 L66.94,111.77 L67.40,112.06 L67.86,111.59 L68.32,108.52 L68.78,105.31 L69.25,102.89 L69.71,105.17 L70.17,106.73 L70.63,103.64 L71.09,102.58 L71.55,103.36 L72.01,104.47 L72.47,105.54 L72.93,102.02 L73.39,98.24 L73.86,95.91 L74.32,97.67 L74.78,98.15 L75.24,95.18 L75.70,95.50 L76.16,94.26 L76.62,94.02 L77.08,95.58 L77.54,95.31 L78.00,94.29 L78.47,91.36 L78.93,90.94 L79.39,94.74 L79.85,95.22 L80.31,91.46 L80.77,91.53 L81.23,90.89 L81.69,89.89 L82.15,87.27 L82.61,87.04 L83.07,86.01 L83.54,85.26 L84.00,87.40 L84.46,84.96 L84.92,82.16 L85.38,82.17 L85.84,81.46 L86.30,82.90 L86.76,84.16 L87.22,83.09 L87.69,81.04 L88.15,80.10 L88.61,81.41 L89.07,79.17 L89.53,79.18 L89.99,82.37 L90.45,81.33 L90.91,77.25 L91.37,74.77 L91.83,75.74 L92.29,79.69 L92.76,79.92 L93.22,77.76 L93.68,77.46 L94.14,77.29 L94.60,75.77 L95.06,74.64 L95.52,72.52 L95.98,72.93 L96.44,74.59 L96.91,75.87 L97.37,75.01 L97.83,73.51 L98.29,70.83 L98.75,69.74 L99.21,70.01" fill="none" stroke="#ff0000" stroke-opacity="0.60" stroke-width="0.35" stroke-linejoin="round"/>
<path d="M43.89,83.50 L44.35,86.92 L44.81,89.09 L45.27,88.86 L45.73,85.03 L46.20,82.21 L46.66,85.19 L47.12,87.05 L47.58,88.17 L48.04,90.89 L48.50,92.30 L48.96,91.03 L49.42,88.94 L49.88,89.02 L50.34,93.86 L50.80,93.70 L51.27,91.13 L51.73,93.83 L52.19,94.56 L52.65,92.51 L53.11,93.53 L53.57,96.63 L54.03,97.49 L54.49,97.34 L54.95,99.46 L55.41,103.02 L55.88,105.85 L56.34,107.74 L56.80,108.43 L57.26,106.98 L57.72,108.95 L58.18,108.97 L58.64,106.34 L59.10,109.26 L59.56,110.77 L60.02,111.01 L60.49,109.78 L60.95,110.01 L61.41,109.48 L61.87,110.73 L62.33,113.57 L62.79,112.87 L63.25,112.46 L63.71,112.81 L64.17,109.74 L64.63,110.40 L65.10,111.06 L65.56,108.61 L66.02,109.50 L66.48,113.85 L66.94,112.31 L67.40,111.69 L67.86,110.63 L68.32,110.08 L68.78,108.85 L69.25,106.56 L69.71,105.52 L70.17,105.99 L70.63,106.24 L71.09,106.36 L71.55,105.20 L72.01,104.20 L72.47,104.70 L72.93,104.45 L73.39,104.47 L73.86,102.38 L74.32,102.09 L74.78,101.20 L75.24,99.79 L75.70,100.98 L76.16,100.07 L76.62,96.43 L77.08,94.24 L77.54,92.88 L78.00,96.21 L78.47,96.02 L78.93,96.37 L79.39,97.90 L79.85,95.48 L80.31,95.62 L80.77,92.62 L81.23,91.56 L81.69,94.06 L82.15,90.05 L82.61,89.03 L83.07,90.16 L83.54,91.02 L84.00,89.45 L84.46,86.74 L84.92,88.84 L85.38,85.45 L85.84,82.34 L86.30,82.59 L86.76,85.96 L87.22,83.66 L87.69,81.53 L88.15,82.68 L88.61,82.20 L89.07,80.15 L89.53,78.69 L89.99,77.41 L90.45,80.20 L90.91,81.63 L91.37,76.77 L91.83,75.06 L92.29,76.30 L92.76,78.30 L93.22,79.10 L93.68,73.65 L94.14,69.46 L94.60,68.41 L95.06,73.34 L95.52,74.77 L95.98,75.63 L96.44,74.20 L96.91,72.14 L97.37,73.45 L97.83,72.12 L98.29,72.46 L98.75,73.49 L99.21,72.13" fill="none" stroke="#ff0000" stroke-opacity="0.60" stroke-width="0.35" stroke-linejoin="round"/>
<path d="M43.89,85.33 L44.35,85.66 L44.81,86.00 L45.27,86.61 L45.73,87.22 L46.20,87.83 L46.66,88.44 L47.12,89.06 L47.58,89.67 L48.04,90.28 L48.50,90.89 L48.96,91.50 L49.42,92.27 L49.88,93.21 L50.34,94.15 L50.80,95.08 L51.27,96.02 L51.73,96.95 L52.19,97.89 L52.65,98.83 L53.11,100.18 L53.57,101.53 L54.03,102.88 L54.49,104.23 L54.95,105.58 L55.41,106.25 L55.88,106.93 L56.34,107.60 L56.80,108.28 L57.26,108.63 L57.72,108.98 L58.18,109.33 L58.64,109.68 L59.10,110.03 L59.56,110.47 L60.02,110.91 L60.49,111.35 L60.95,111.79 L61.41,111.71 L61.87,111.64 L62.33,111.56 L62.79,111.36 L63.25,110.98 L63.71,110.60 L64.17,110.22 L64.63,110.12 L65.10,110.29 L65.56,110.46 L66.02,110.64 L66.48,110.36 L66.94,109.78 L67.40,109.19 L67.86,108.61 L68.32,108.03 L68.78,107.45 L69.25,106.87 L69.71,106.23 L70.17,105.50 L70.63,104.77 L71.09,104.04 L71.55,103.31 L72.01,102.58 L72.47,101.85 L72.93,101.12 L73.39,100.48 L73.86,99.84 L74.32,99.20 L74.78,98.56 L75.24,97.91 L75.70,97.27 L76.16,96.63 L76.62,95.99 L77.08,95.43 L77.54,94.87 L78.00,94.32 L78.47,93.76 L78.93,93.20 L79.39,92.64 L79.85,92.08 L80.31,91.49 L80.77,90.87 L81.23,90.25 L81.69,89.63 L82.15,89.01 L82.61,88.38 L83.07,87.76 L83.54,87.14 L84.00,86.52 L84.46,85.89 L84.92,85.27 L85.38,84.65 L85.84,84.20 L86.30,83.75 L86.76,83.30 L87.22,82.85 L87.69,82.40 L88.15,81.95 L88.61,81.50 L89.07,81.05 L89.53,80.60 L89.99,80.15 L90.45,79.70 L90.91,79.25 L91.37,78.80 L91.83,78.35 L92.29,77.90 L92.76,77.45 L93.22,77.00 L93.68,76.55 L94.14,76.10 L94.60,75.65 L95.06,75.20 L95.52,74.75 L95.98,74.30 L96.44,73.85 L96.91,73.40 L97.37,72.95 L97.83,72.50 L98.29,72.05 L98.75,71.60 L99.21,71.15" fill="none" stroke="#000" stroke-width="0.90" stroke-linejoin="round"/>
</g>
<rect x="48.50" y="91.40" width="46.10" height="40.50" fill="none" stroke="#777" stroke-width="0.6"/>
<text x="48.50" y="138.90" class="tl" text-anchor="middle">1360</text>
<text x="66.94" y="138.90" class="tl" text-anchor="middle">1400</text>
<text x="85.38" y="138.90" class="tl" text-anchor="middle">1440</text>
<text x="47.50" y="127.15" class="tl" text-anchor="end">40</text>
<text x="47.50" y="113.65" class="tl" text-anchor="end">50</text>
<text x="47.50" y="100.15" class="tl" text-anchor="end">60</text>
<path d="M48.50,131.90 v-1 M48.50,91.40 v1 M57.72,131.90 v-1 M57.72,91.40 v1 M66.94,131.90 v-1 M66.94,91.40 v1 M76.16,131.90 v-1 M76.16,91.40 v1 M85.38,131.90 v-1 M85.38,91.40 v1 M94.60,131.90 v-1 M94.60,91.40 v1 M48.50,125.15 h1 M94.60,125.15 h-1 M48.50,111.65 h1 M94.60,111.65 h-1 M48.50,98.15 h1 M94.60,98.15 h-1" stroke="#777" stroke-width="0.5" fill="none"/>
<text x="71.90" y="89.10" class="tt" text-anchor="middle">SVM</text>
<clipPath id="clip_li"><rect x="177.30" y="91.40" width="46.10" height="39.60"/></clipPath>
<g clip-path="url(#clip_li)">
<path d="M172.69,85.42 L173.15,85.47 L173.61,85.93 L174.07,86.78 L174.53,86.95 L175.00,88.47 L175.46,88.60 L175.92,89.43 L176.38,90.09 L176.84,90.50 L177.30,91.19 L177.76,90.89 L178.22,91.61 L178.68,91.84 L179.14,91.56 L179.61,91.89 L180.07,95.36 L180.53,92.42 L180.99,92.33 L181.45,92.89 L181.91,92.72 L182.37,94.72 L182.83,96.62 L183.29,99.45 L183.75,101.81 L184.22,103.65 L184.68,105.70 L185.14,106.03 L185.60,112.92 L186.06,107.75 L186.52,106.80 L186.98,106.69 L187.44,107.64 L187.90,109.77 L188.36,111.44 L188.83,111.44 L189.29,111.86 L189.75,112.38 L190.21,114.76 L190.67,111.76 L191.13,111.25 L191.59,110.96 L192.05,110.24 L192.51,109.82 L192.97,109.48 L193.44,109.06 L193.90,109.98 L194.36,110.23 L194.82,110.30 L195.28,110.08 L195.74,113.84 L196.20,109.21 L196.66,108.45 L197.12,107.33 L197.58,107.32 L198.05,107.00 L198.51,105.89 L198.97,105.60 L199.43,105.19 L199.89,104.00 L200.35,103.83 L200.81,102.63 L201.27,103.28 L201.73,100.74 L202.19,100.96 L202.66,100.56 L203.12,99.81 L203.58,99.33 L204.04,98.78 L204.50,98.30 L204.96,97.42 L205.42,96.72 L205.88,96.26 L206.34,96.06 L206.80,94.72 L207.27,94.97 L207.73,93.90 L208.19,96.02 L208.65,92.76 L209.11,91.50 L209.57,90.65 L210.03,90.11 L210.49,89.84 L210.95,89.01 L211.41,88.86 L211.88,87.91 L212.34,87.24 L212.80,86.72 L213.26,86.05 L213.72,85.52 L214.18,85.45 L214.64,84.23 L215.10,83.82 L215.56,82.81 L216.02,82.81 L216.49,82.58 L216.95,81.88 L217.41,81.52 L217.87,81.29 L218.33,80.97 L218.79,80.88 L219.25,79.92 L219.71,78.99 L220.17,79.70 L220.63,78.95 L221.09,77.95 L221.56,77.70 L222.02,77.18 L222.48,77.49 L222.94,76.64 L223.40,75.84 L223.86,75.37 L224.32,75.03 L224.78,74.97 L225.24,74.07 L225.71,74.19 L226.17,73.67 L226.63,73.31 L227.09,72.01 L227.55,72.18 L228.01,71.58" fill="none" stroke="#ff0000" stroke-opacity="1.00" stroke-width="0.60" stroke-linejoin="round"/>
<path d="M172.69,85.46 L173.15,85.79 L173.61,86.12 L174.07,86.76 L174.53,87.39 L175.00,88.03 L175.46,88.67 L175.92,89.31 L176.38,89.94 L176.84,90.58 L177.30,91.22 L177.76,91.70 L178.22,91.84 L178.68,91.98 L179.14,92.11 L179.61,92.24 L180.07,92.36 L180.53,92.47 L180.99,92.59 L181.45,92.71 L181.91,92.83 L182.37,94.59 L182.83,96.76 L183.29,98.93 L183.75,101.19 L184.22,103.49 L184.68,105.79 L185.14,106.47 L185.60,107.16 L186.06,107.52 L186.52,107.11 L186.98,106.71 L187.44,108.24 L187.90,109.76 L188.36,110.82 L188.83,111.19 L189.29,111.57 L189.75,111.94 L190.21,111.93 L190.67,111.55 L191.13,111.17 L191.59,110.79 L192.05,110.38 L192.51,109.96 L192.97,109.55 L193.44,109.13 L193.90,109.38 L194.36,109.70 L194.82,110.02 L195.28,110.17 L195.74,109.63 L196.20,109.08 L196.66,108.54 L197.12,107.99 L197.58,107.41 L198.05,106.83 L198.51,106.25 L198.97,105.67 L199.43,105.10 L199.89,104.36 L200.35,103.53 L200.81,102.70 L201.27,101.87 L201.73,101.04 L202.19,100.59 L202.66,100.14 L203.12,99.69 L203.58,99.24 L204.04,98.79 L204.50,98.18 L204.96,97.56 L205.42,96.95 L205.88,96.33 L206.34,95.72 L206.80,95.10 L207.27,94.46 L207.73,93.83 L208.19,93.19 L208.65,92.56 L209.11,91.92 L209.57,91.28 L210.03,90.63 L210.49,89.98 L210.95,89.33 L211.41,88.69 L211.88,88.04 L212.34,87.39 L212.80,86.74 L213.26,86.10 L213.72,85.45 L214.18,84.80 L214.64,84.36 L215.10,83.92 L215.56,83.48 L216.02,83.04 L216.49,82.60 L216.95,82.16 L217.41,81.72 L217.87,81.28 L218.33,80.84 L218.79,80.40 L219.25,79.96 L219.71,79.52 L220.17,79.08 L220.63,78.64 L221.09,78.20 L221.56,77.76 L222.02,77.32 L222.48,76.88 L222.94,76.44 L223.40,76.00 L223.86,75.56 L224.32,75.12 L224.78,74.68 L225.24,74.24 L225.71,73.80 L226.17,73.36 L226.63,72.92 L227.09,72.48 L227.55,72.04 L228.01,71.60" fill="none" stroke="#000" stroke-width="0.60" stroke-linejoin="round"/>
</g>
<rect x="177.30" y="91.40" width="46.10" height="39.60" fill="none" stroke="#777" stroke-width="0.6"/>
<text x="177.30" y="138.00" class="tl" text-anchor="middle">1360</text>
<text x="195.74" y="138.00" class="tl" text-anchor="middle">1400</text>
<text x="214.18" y="138.00" class="tl" text-anchor="middle">1440</text>
<text x="176.30" y="126.40" class="tl" text-anchor="end">40</text>
<text x="176.30" y="113.20" class="tl" text-anchor="end">50</text>
<text x="176.30" y="100.00" class="tl" text-anchor="end">60</text>
<path d="M177.30,131.00 v-1 M177.30,91.40 v1 M186.52,131.00 v-1 M186.52,91.40 v1 M195.74,131.00 v-1 M195.74,91.40 v1 M204.96,131.00 v-1 M204.96,91.40 v1 M214.18,131.00 v-1 M214.18,91.40 v1 M223.40,131.00 v-1 M223.40,91.40 v1 M177.30,124.40 h1 M223.40,124.40 h-1 M177.30,111.20 h1 M223.40,111.20 h-1 M177.30,98.00 h1 M223.40,98.00 h-1" stroke="#777" stroke-width="0.5" fill="none"/>
<text x="200.30" y="88.70" class="tt" text-anchor="middle">LSTM</text>
<text x="135.7" y="11.6" class="tt" text-anchor="middle" style="font-size:6.5px">LSTM</text>
<text x="136.1" y="92.1" class="lb" text-anchor="middle">Time(s)</text>
<text transform="translate(12.3,44.4) rotate(-90)" class="lb" text-anchor="middle">Velocity(km/h)</text>
<text x="135.8" y="136.9" class="tt" text-anchor="middle">SVM</text>
<text x="136.1" y="218.1" class="lb" text-anchor="middle">Time(s)</text>
<text transform="translate(12.3,169.7) rotate(-90)" class="lb" text-anchor="middle">Velocity(km/h)</text>
<text transform="translate(308.0,116.6) rotate(-90)" class="sf" font-size="12" text-anchor="middle">velocity(km/h)</text>
<text x="418.9" y="35.9" class="tp">t<tspan dy="2.8" font-size="5">p</tspan><tspan dx="0.4" dy="-2.8" font-size="6.6">=3s</tspan></text>
<text x="422.3" y="101.8" class="tp">t<tspan dy="2.8" font-size="5">p</tspan><tspan dx="0.4" dy="-2.8" font-size="6.6">=5s</tspan></text>
<text x="421.6" y="166.8" class="tp">t<tspan dy="2.8" font-size="5">p</tspan><tspan dx="0.4" dy="-2.8" font-size="6.6">=7s</tspan></text>
<g stroke="#1a1aff" stroke-width="1.0" fill="#1a1aff">
<line x1="178.6" y1="42.8" x2="188.1" y2="83.0"/>
<path d="M189.3,88.0 L185.45,82.74 L190.39,81.58 Z" stroke="none"/>
<line x1="178.3" y1="168.9" x2="100.0" y2="125.7"/>
<path d="M95.1,123.0 L102.1,123.8 L99.5,128.5 Z" stroke="none"/>
</g>
<text x="126.3" y="250.2" class="sf" font-size="13.5" text-anchor="middle">(<tspan font-weight="bold">a</tspan>)</text>
<text x="421.4" y="250.2" class="sf" font-size="13.5" text-anchor="middle">(<tspan font-weight="bold">b</tspan>)</text>
</svg>
</body></html>
